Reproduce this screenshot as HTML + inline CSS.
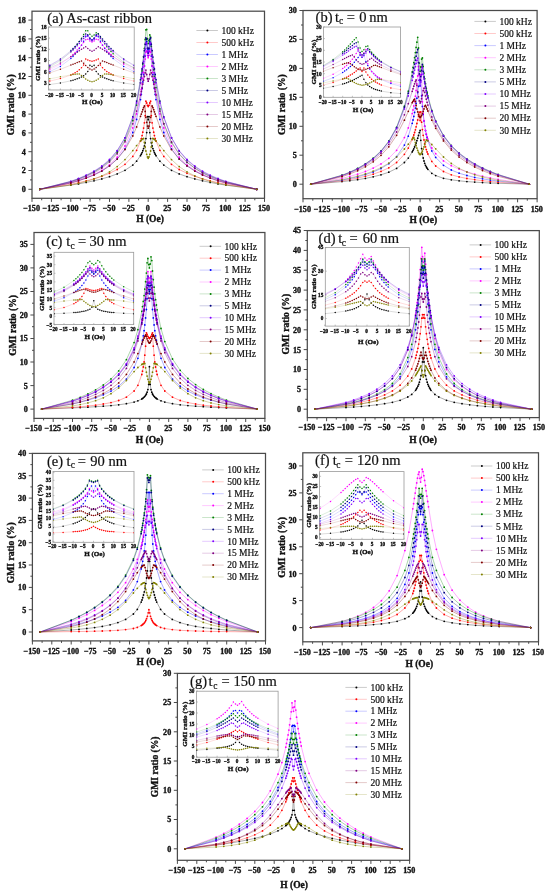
<!DOCTYPE html>
<html><head><meta charset="utf-8"><title>GMI ratio vs H</title>
<style>html,body{margin:0;padding:0;background:#fff;}svg{display:block;}
text{font-family:"Liberation Serif","DejaVu Serif",serif;fill:#111;stroke:#111;stroke-width:0.2px;}
text[font-weight=bold]{stroke:#111;stroke-width:0.35px;}</style></head>
<body><svg width="550" height="891" viewBox="0 0 550 891">
<filter id="soft" x="-5%" y="-5%" width="110%" height="110%"><feGaussianBlur stdDeviation="0.3"/></filter>
<rect width="550" height="891" fill="#fff"/>
<clipPath id="ca"><rect x="32" y="11.2" width="232.5" height="187.1"/></clipPath>
<g clip-path="url(#ca)"><g filter="url(#soft)">
<polyline points="39.8,189.3 70.8,185.1 78.5,183.9 86.2,182.4 94,180.8 101.8,178.9 109.5,176.7 117.2,173.9 125,170.3 132.8,165.1 136.6,161.2 140.5,155.7 141.3,154.2 142.1,152.6 142.8,150.7 143.6,148.6 144.4,146 145.2,142.8 145.9,138.6 146.7,132.6 147.5,116.6 148.2,119.7 149,116.6 149.8,132.6 150.6,138.6 151.3,142.8 152.1,146 152.9,148.6 153.7,150.7 154.4,152.6 155.2,154.2 156,155.7 159.9,161.2 163.8,165.1 171.5,170.3 179.2,173.9 187,176.7 194.8,178.9 202.5,180.8 210.2,182.4 218,183.9 225.8,185.1 256.8,189.3" fill="none" stroke="#000000" stroke-width="0.55" stroke-opacity="0.6"/>
<path d="M39.8,189.3h0M70.8,185.1h0M78.5,183.9h0M86.2,182.4h0M94,180.8h0M101.8,178.9h0M109.5,176.7h0M117.2,173.9h0M125,170.3h0M132.8,165.1h0M136.6,161.2h0M140.5,155.7h0M141.3,154.2h0M142.1,152.6h0M142.8,150.7h0M143.6,148.6h0M144.4,146h0M145.2,142.8h0M145.9,138.6h0M146.7,132.6h0M147.5,116.6h0M148.2,119.7h0M149,116.6h0M149.8,132.6h0M150.6,138.6h0M151.3,142.8h0M152.1,146h0M152.9,148.6h0M153.7,150.7h0M154.4,152.6h0M155.2,154.2h0M156,155.7h0M159.9,161.2h0M163.8,165.1h0M171.5,170.3h0M179.2,173.9h0M187,176.7h0M194.8,178.9h0M202.5,180.8h0M210.2,182.4h0M218,183.9h0M225.8,185.1h0M256.8,189.3h0" stroke="#000000" stroke-width="1.8" stroke-linecap="round"/>
<polyline points="39.8,189.3 70.8,184.3 78.5,182.7 86.2,180.9 94,178.8 101.8,176.3 109.5,173.3 117.2,169.5 125,164.3 132.8,156.4 136.6,150.3 140.5,141.1 141.3,138.6 142.1,135.6 142.8,132.2 143.6,128.1 144.4,122.8 145.2,115.7 145.9,101.2 146.7,103 147.5,105.3 148.2,106.6 149,105.3 149.8,103 150.6,101.2 151.3,115.7 152.1,122.8 152.9,128.1 153.7,132.2 154.4,135.6 155.2,138.6 156,141.1 159.9,150.3 163.8,156.4 171.5,164.3 179.2,169.5 187,173.3 194.8,176.3 202.5,178.8 210.2,180.9 218,182.7 225.8,184.3 256.8,189.3" fill="none" stroke="#FF0000" stroke-width="0.55" stroke-opacity="0.6"/>
<path d="M39.8,189.3h0M70.8,184.3h0M78.5,182.7h0M86.2,180.9h0M94,178.8h0M101.8,176.3h0M109.5,173.3h0M117.2,169.5h0M125,164.3h0M132.8,156.4h0M136.6,150.3h0M140.5,141.1h0M141.3,138.6h0M142.1,135.6h0M142.8,132.2h0M143.6,128.1h0M144.4,122.8h0M145.2,115.7h0M145.9,101.2h0M146.7,103h0M147.5,105.3h0M148.2,106.6h0M149,105.3h0M149.8,103h0M150.6,101.2h0M151.3,115.7h0M152.1,122.8h0M152.9,128.1h0M153.7,132.2h0M154.4,135.6h0M155.2,138.6h0M156,141.1h0M159.9,150.3h0M163.8,156.4h0M171.5,164.3h0M179.2,169.5h0M187,173.3h0M194.8,176.3h0M202.5,178.8h0M210.2,180.9h0M218,182.7h0M225.8,184.3h0M256.8,189.3h0" stroke="#FF0000" stroke-width="1.8" stroke-linecap="round"/>
<polyline points="39.8,189.3 70.8,182.8 78.5,180.6 86.2,177.9 94,174.8 101.8,170.9 109.5,165.8 117.2,159 125,148.9 132.8,132.5 136.6,119.4 140.5,99.6 141.3,94.4 142.1,88.5 142.8,81.9 143.6,74.5 144.4,66 145.2,56.1 145.9,44.6 146.7,41.6 147.5,49 148.2,53 149,49 149.8,41.6 150.6,44.6 151.3,56.1 152.1,66 152.9,74.5 153.7,81.9 154.4,88.5 155.2,94.4 156,99.6 159.9,119.4 163.8,132.5 171.5,148.9 179.2,159 187,165.8 194.8,170.9 202.5,174.8 210.2,177.9 218,180.6 225.8,182.8 256.8,189.3" fill="none" stroke="#0000FF" stroke-width="0.55" stroke-opacity="0.6"/>
<path d="M39.8,189.3h0M70.8,182.8h0M78.5,180.6h0M86.2,177.9h0M94,174.8h0M101.8,170.9h0M109.5,165.8h0M117.2,159h0M125,148.9h0M132.8,132.5h0M136.6,119.4h0M140.5,99.6h0M141.3,94.4h0M142.1,88.5h0M142.8,81.9h0M143.6,74.5h0M144.4,66h0M145.2,56.1h0M145.9,44.6h0M146.7,41.6h0M147.5,49h0M148.2,53h0M149,49h0M149.8,41.6h0M150.6,44.6h0M151.3,56.1h0M152.1,66h0M152.9,74.5h0M153.7,81.9h0M154.4,88.5h0M155.2,94.4h0M156,99.6h0M159.9,119.4h0M163.8,132.5h0M171.5,148.9h0M179.2,159h0M187,165.8h0M194.8,170.9h0M202.5,174.8h0M210.2,177.9h0M218,180.6h0M225.8,182.8h0M256.8,189.3h0" stroke="#0000FF" stroke-width="1.8" stroke-linecap="round"/>
<polyline points="39.8,189.3 70.8,182.8 78.5,180.5 86.2,177.8 94,174.5 101.8,170.3 109.5,164.8 117.2,157.2 125,146 132.8,127.9 136.6,113.9 140.5,94.3 141.3,89.4 142.1,84.1 142.8,78.5 143.6,72.4 144.4,65.9 145.2,59.1 145.9,52.2 146.7,51 147.5,55.3 148.2,57.7 149,55.3 149.8,51 150.6,52.2 151.3,59.1 152.1,65.9 152.9,72.4 153.7,78.5 154.4,84.1 155.2,89.4 156,94.3 159.9,113.9 163.8,127.9 171.5,146 179.2,157.2 187,164.8 194.8,170.3 202.5,174.5 210.2,177.8 218,180.5 225.8,182.8 256.8,189.3" fill="none" stroke="#FF00FF" stroke-width="0.55" stroke-opacity="0.6"/>
<path d="M39.8,189.3h0M70.8,182.8h0M78.5,180.5h0M86.2,177.8h0M94,174.5h0M101.8,170.3h0M109.5,164.8h0M117.2,157.2h0M125,146h0M132.8,127.9h0M136.6,113.9h0M140.5,94.3h0M141.3,89.4h0M142.1,84.1h0M142.8,78.5h0M143.6,72.4h0M144.4,65.9h0M145.2,59.1h0M145.9,52.2h0M146.7,51h0M147.5,55.3h0M148.2,57.7h0M149,55.3h0M149.8,51h0M150.6,52.2h0M151.3,59.1h0M152.1,65.9h0M152.9,72.4h0M153.7,78.5h0M154.4,84.1h0M155.2,89.4h0M156,94.3h0M159.9,113.9h0M163.8,127.9h0M171.5,146h0M179.2,157.2h0M187,164.8h0M194.8,170.3h0M202.5,174.5h0M210.2,177.8h0M218,180.5h0M225.8,182.8h0M256.8,189.3h0" stroke="#FF00FF" stroke-width="1.8" stroke-linecap="round"/>
<polyline points="39.8,189.3 70.8,181.6 78.5,179 86.2,175.8 94,172 101.8,167.2 109.5,161.1 117.2,152.7 125,140.4 132.8,120.5 136.6,105.1 140.5,82.8 141.3,77.1 142.1,70.9 142.8,64.1 143.6,56.6 144.4,48.4 145.2,39.5 145.9,29.8 146.7,29.5 147.5,38.6 148.2,43.6 149,40.5 149.8,34.9 150.6,37.1 151.3,46.3 152.1,54.8 152.9,62.7 153.7,69.8 154.4,76.3 155.2,82.2 156,87.6 159.9,108.9 163.8,123.6 171.5,142.6 179.2,154.3 187,162.4 194.8,168.3 202.5,172.8 210.2,176.4 218,179.4 225.8,182 256.8,189.3" fill="none" stroke="#008000" stroke-width="0.55" stroke-opacity="0.6"/>
<path d="M39.8,189.3h0M70.8,181.6h0M78.5,179h0M86.2,175.8h0M94,172h0M101.8,167.2h0M109.5,161.1h0M117.2,152.7h0M125,140.4h0M132.8,120.5h0M136.6,105.1h0M140.5,82.8h0M141.3,77.1h0M142.1,70.9h0M142.8,64.1h0M143.6,56.6h0M144.4,48.4h0M145.2,39.5h0M145.9,29.8h0M146.7,29.5h0M147.5,38.6h0M148.2,43.6h0M149,40.5h0M149.8,34.9h0M150.6,37.1h0M151.3,46.3h0M152.1,54.8h0M152.9,62.7h0M153.7,69.8h0M154.4,76.3h0M155.2,82.2h0M156,87.6h0M159.9,108.9h0M163.8,123.6h0M171.5,142.6h0M179.2,154.3h0M187,162.4h0M194.8,168.3h0M202.5,172.8h0M210.2,176.4h0M218,179.4h0M225.8,182h0M256.8,189.3h0" stroke="#008000" stroke-width="1.8" stroke-linecap="round"/>
<polyline points="39.8,189.3 70.8,181.6 78.5,178.9 86.2,175.6 94,171.7 101.8,166.6 109.5,160.1 117.2,151 125,137.8 132.8,116.8 136.6,101.1 140.5,79.7 141.3,74.5 142.1,69 142.8,63.2 143.6,57.1 144.4,50.7 145.2,44.2 145.9,37.9 146.7,39.5 147.5,48.2 148.2,53 149,48.2 149.8,39.5 150.6,37.9 151.3,44.2 152.1,50.7 152.9,57.1 153.7,63.2 154.4,69 155.2,74.5 156,79.7 159.9,101.1 163.8,116.8 171.5,137.8 179.2,151 187,160.1 194.8,166.6 202.5,171.7 210.2,175.6 218,178.9 225.8,181.6 256.8,189.3" fill="none" stroke="#000080" stroke-width="0.55" stroke-opacity="0.6"/>
<path d="M39.8,189.3h0M70.8,181.6h0M78.5,178.9h0M86.2,175.6h0M94,171.7h0M101.8,166.6h0M109.5,160.1h0M117.2,151h0M125,137.8h0M132.8,116.8h0M136.6,101.1h0M140.5,79.7h0M141.3,74.5h0M142.1,69h0M142.8,63.2h0M143.6,57.1h0M144.4,50.7h0M145.2,44.2h0M145.9,37.9h0M146.7,39.5h0M147.5,48.2h0M148.2,53h0M149,48.2h0M149.8,39.5h0M150.6,37.9h0M151.3,44.2h0M152.1,50.7h0M152.9,57.1h0M153.7,63.2h0M154.4,69h0M155.2,74.5h0M156,79.7h0M159.9,101.1h0M163.8,116.8h0M171.5,137.8h0M179.2,151h0M187,160.1h0M194.8,166.6h0M202.5,171.7h0M210.2,175.6h0M218,178.9h0M225.8,181.6h0M256.8,189.3h0" stroke="#000080" stroke-width="1.8" stroke-linecap="round"/>
<polyline points="39.8,189.3 70.8,181.3 78.5,178.5 86.2,175.1 94,171.1 101.8,166 109.5,159.5 117.2,150.6 125,137.8 132.8,117.7 136.6,102.9 140.5,82.8 141.3,78 142.1,72.8 142.8,67.3 143.6,61.5 144.4,55.4 145.2,49.1 145.9,42.8 146.7,43.7 147.5,51.5 148.2,55.8 149,51.5 149.8,43.7 150.6,42.8 151.3,49.1 152.1,55.4 152.9,61.5 153.7,67.3 154.4,72.8 155.2,78 156,82.8 159.9,102.9 163.8,117.7 171.5,137.8 179.2,150.6 187,159.5 194.8,166 202.5,171.1 210.2,175.1 218,178.5 225.8,181.3 256.8,189.3" fill="none" stroke="#8000FF" stroke-width="0.55" stroke-opacity="0.6"/>
<path d="M39.8,189.3h0M70.8,181.3h0M78.5,178.5h0M86.2,175.1h0M94,171.1h0M101.8,166h0M109.5,159.5h0M117.2,150.6h0M125,137.8h0M132.8,117.7h0M136.6,102.9h0M140.5,82.8h0M141.3,78h0M142.1,72.8h0M142.8,67.3h0M143.6,61.5h0M144.4,55.4h0M145.2,49.1h0M145.9,42.8h0M146.7,43.7h0M147.5,51.5h0M148.2,55.8h0M149,51.5h0M149.8,43.7h0M150.6,42.8h0M151.3,49.1h0M152.1,55.4h0M152.9,61.5h0M153.7,67.3h0M154.4,72.8h0M155.2,78h0M156,82.8h0M159.9,102.9h0M163.8,117.7h0M171.5,137.8h0M179.2,150.6h0M187,159.5h0M194.8,166h0M202.5,171.1h0M210.2,175.1h0M218,178.5h0M225.8,181.3h0M256.8,189.3h0" stroke="#8000FF" stroke-width="1.8" stroke-linecap="round"/>
<polyline points="39.8,189.3 70.8,182.2 78.5,179.6 86.2,176.6 94,172.9 101.8,168.2 109.5,162.1 117.2,153.8 125,141.8 132.8,123.8 136.6,111.1 140.5,95.1 141.3,91.5 142.1,87.8 142.8,84.1 143.6,80.2 144.4,76.5 145.2,72.9 145.9,70.1 146.7,74.5 147.5,78.8 148.2,81.2 149,78.8 149.8,74.5 150.6,70.1 151.3,72.9 152.1,76.5 152.9,80.2 153.7,84.1 154.4,87.8 155.2,91.5 156,95.1 159.9,111.1 163.8,123.8 171.5,141.8 179.2,153.8 187,162.1 194.8,168.2 202.5,172.9 210.2,176.6 218,179.6 225.8,182.2 256.8,189.3" fill="none" stroke="#800080" stroke-width="0.55" stroke-opacity="0.6"/>
<path d="M39.8,189.3h0M70.8,182.2h0M78.5,179.6h0M86.2,176.6h0M94,172.9h0M101.8,168.2h0M109.5,162.1h0M117.2,153.8h0M125,141.8h0M132.8,123.8h0M136.6,111.1h0M140.5,95.1h0M141.3,91.5h0M142.1,87.8h0M142.8,84.1h0M143.6,80.2h0M144.4,76.5h0M145.2,72.9h0M145.9,70.1h0M146.7,74.5h0M147.5,78.8h0M148.2,81.2h0M149,78.8h0M149.8,74.5h0M150.6,70.1h0M151.3,72.9h0M152.1,76.5h0M152.9,80.2h0M153.7,84.1h0M154.4,87.8h0M155.2,91.5h0M156,95.1h0M159.9,111.1h0M163.8,123.8h0M171.5,141.8h0M179.2,153.8h0M187,162.1h0M194.8,168.2h0M202.5,172.9h0M210.2,176.6h0M218,179.6h0M225.8,182.2h0M256.8,189.3h0" stroke="#800080" stroke-width="1.8" stroke-linecap="round"/>
<polyline points="39.8,189.3 70.8,183.1 78.5,180.9 86.2,178.2 94,175 101.8,171.1 109.5,165.9 117.2,159.1 125,149.6 132.8,135.9 136.6,126.9 140.5,116.3 141.3,114.1 142.1,111.8 142.8,109.7 143.6,107.6 144.4,106 145.2,111.4 145.9,117.3 146.7,122.3 147.5,126.1 148.2,128.2 149,126.1 149.8,122.3 150.6,117.3 151.3,111.4 152.1,106 152.9,107.6 153.7,109.7 154.4,111.8 155.2,114.1 156,116.3 159.9,126.9 163.8,135.9 171.5,149.6 179.2,159.1 187,165.9 194.8,171.1 202.5,175 210.2,178.2 218,180.9 225.8,183.1 256.8,189.3" fill="none" stroke="#800000" stroke-width="0.55" stroke-opacity="0.6"/>
<path d="M39.8,189.3h0M70.8,183.1h0M78.5,180.9h0M86.2,178.2h0M94,175h0M101.8,171.1h0M109.5,165.9h0M117.2,159.1h0M125,149.6h0M132.8,135.9h0M136.6,126.9h0M140.5,116.3h0M141.3,114.1h0M142.1,111.8h0M142.8,109.7h0M143.6,107.6h0M144.4,106h0M145.2,111.4h0M145.9,117.3h0M146.7,122.3h0M147.5,126.1h0M148.2,128.2h0M149,126.1h0M149.8,122.3h0M150.6,117.3h0M151.3,111.4h0M152.1,106h0M152.9,107.6h0M153.7,109.7h0M154.4,111.8h0M155.2,114.1h0M156,116.3h0M159.9,126.9h0M163.8,135.9h0M171.5,149.6h0M179.2,159.1h0M187,165.9h0M194.8,171.1h0M202.5,175h0M210.2,178.2h0M218,180.9h0M225.8,183.1h0M256.8,189.3h0" stroke="#800000" stroke-width="1.8" stroke-linecap="round"/>
<polyline points="39.8,189.3 70.8,184.9 78.5,183.3 86.2,181.4 94,179 101.8,175.9 109.5,171.9 117.2,166.6 125,159.6 132.8,150.6 136.6,145.6 140.5,140.9 141.3,140.1 142.1,139.4 142.8,138.8 143.6,138.5 144.4,142.5 145.2,147 145.9,151 146.7,154.3 147.5,156.9 148.2,158.3 149,156.9 149.8,154.3 150.6,151 151.3,147 152.1,142.5 152.9,138.5 153.7,138.8 154.4,139.4 155.2,140.1 156,140.9 159.9,145.6 163.8,150.6 171.5,159.6 179.2,166.6 187,171.9 194.8,175.9 202.5,179 210.2,181.4 218,183.3 225.8,184.9 256.8,189.3" fill="none" stroke="#808000" stroke-width="0.55" stroke-opacity="0.6"/>
<path d="M39.8,189.3h0M70.8,184.9h0M78.5,183.3h0M86.2,181.4h0M94,179h0M101.8,175.9h0M109.5,171.9h0M117.2,166.6h0M125,159.6h0M132.8,150.6h0M136.6,145.6h0M140.5,140.9h0M141.3,140.1h0M142.1,139.4h0M142.8,138.8h0M143.6,138.5h0M144.4,142.5h0M145.2,147h0M145.9,151h0M146.7,154.3h0M147.5,156.9h0M148.2,158.3h0M149,156.9h0M149.8,154.3h0M150.6,151h0M151.3,147h0M152.1,142.5h0M152.9,138.5h0M153.7,138.8h0M154.4,139.4h0M155.2,140.1h0M156,140.9h0M159.9,145.6h0M163.8,150.6h0M171.5,159.6h0M179.2,166.6h0M187,171.9h0M194.8,175.9h0M202.5,179h0M210.2,181.4h0M218,183.3h0M225.8,184.9h0M256.8,189.3h0" stroke="#808000" stroke-width="1.8" stroke-linecap="round"/>
</g></g>
<rect x="32" y="11.2" width="232.5" height="187.1" fill="none" stroke="#4a4a4a" stroke-width="1.25"/>
<text x="31.6" y="211.1" font-size="8.1" font-weight="bold" text-anchor="middle">−150</text>
<text x="51" y="211.1" font-size="8.1" font-weight="bold" text-anchor="middle">−125</text>
<text x="70.3" y="211.1" font-size="8.1" font-weight="bold" text-anchor="middle">−100</text>
<text x="89.7" y="211.1" font-size="8.1" font-weight="bold" text-anchor="middle">−75</text>
<text x="109.1" y="211.1" font-size="8.1" font-weight="bold" text-anchor="middle">−50</text>
<text x="128.5" y="211.1" font-size="8.1" font-weight="bold" text-anchor="middle">−25</text>
<text x="147.8" y="211.1" font-size="8.1" font-weight="bold" text-anchor="middle">0</text>
<text x="167.2" y="211.1" font-size="8.1" font-weight="bold" text-anchor="middle">25</text>
<text x="186.6" y="211.1" font-size="8.1" font-weight="bold" text-anchor="middle">50</text>
<text x="206" y="211.1" font-size="8.1" font-weight="bold" text-anchor="middle">75</text>
<text x="225.3" y="211.1" font-size="8.1" font-weight="bold" text-anchor="middle">100</text>
<text x="244.7" y="211.1" font-size="8.1" font-weight="bold" text-anchor="middle">125</text>
<text x="264.1" y="211.1" font-size="8.1" font-weight="bold" text-anchor="middle">150</text>
<text x="25.8" y="192.2" font-size="8.1" font-weight="bold" text-anchor="end">0</text>
<text x="25.8" y="173.4" font-size="8.1" font-weight="bold" text-anchor="end">2</text>
<text x="25.8" y="154.6" font-size="8.1" font-weight="bold" text-anchor="end">4</text>
<text x="25.8" y="135.8" font-size="8.1" font-weight="bold" text-anchor="end">6</text>
<text x="25.8" y="117" font-size="8.1" font-weight="bold" text-anchor="end">8</text>
<text x="25.8" y="98.2" font-size="8.1" font-weight="bold" text-anchor="end">10</text>
<text x="25.8" y="79.4" font-size="8.1" font-weight="bold" text-anchor="end">12</text>
<text x="25.8" y="60.6" font-size="8.1" font-weight="bold" text-anchor="end">14</text>
<text x="25.8" y="41.8" font-size="8.1" font-weight="bold" text-anchor="end">16</text>
<text x="25.8" y="23" font-size="8.1" font-weight="bold" text-anchor="end">18</text>
<path d="M32,198.3v3.6M51.4,198.3v3.6M70.8,198.3v3.6M90.1,198.3v3.6M109.5,198.3v3.6M128.9,198.3v3.6M148.2,198.3v3.6M167.6,198.3v3.6M187,198.3v3.6M206.4,198.3v3.6M225.8,198.3v3.6M245.1,198.3v3.6M264.5,198.3v3.6M41.7,198.3v2M61.1,198.3v2M80.4,198.3v2M99.8,198.3v2M119.2,198.3v2M138.6,198.3v2M157.9,198.3v2M177.3,198.3v2M196.7,198.3v2M216.1,198.3v2M235.4,198.3v2M254.8,198.3v2M32,189.3h-3.6M32,170.5h-3.6M32,151.7h-3.6M32,132.9h-3.6M32,114.1h-3.6M32,95.3h-3.6M32,76.5h-3.6M32,57.7h-3.6M32,38.9h-3.6M32,20.1h-3.6M32,179.9h-2M32,161.1h-2M32,142.3h-2M32,123.5h-2M32,104.7h-2M32,85.9h-2M32,67.1h-2M32,48.3h-2M32,29.5h-2" stroke="#4a4a4a" stroke-width="1" fill="none"/>
<text x="150" y="222.3" font-size="9.5" font-weight="bold" text-anchor="middle">H (Oe)</text>
<text x="10.7" y="104.8" font-size="9.6" font-weight="bold" text-anchor="middle" transform="rotate(-90 10.7 104.8)" dy="3.3">GMI ratio (%)</text>
<text x="47.3" y="22.7" font-size="14.5">(a) As-cast</text><text x="114.1" y="22.7" font-size="14.5">ribbon</text>
<path d="M196.4,30.5h21.5" stroke="#000000" stroke-width="0.6" stroke-opacity="0.35"/>
<circle cx="207.4" cy="30.5" r="1" fill="#000000"/>
<text x="221.4" y="33.7" font-size="9.5" text-anchor="start">100 kHz</text>
<path d="M196.4,42.5h21.5" stroke="#FF0000" stroke-width="0.6" stroke-opacity="0.35"/>
<circle cx="207.4" cy="42.5" r="1" fill="#FF0000"/>
<text x="221.4" y="45.7" font-size="9.5" text-anchor="start">500 kHz</text>
<path d="M196.4,54.5h21.5" stroke="#0000FF" stroke-width="0.6" stroke-opacity="0.35"/>
<circle cx="207.4" cy="54.5" r="1" fill="#0000FF"/>
<text x="221.4" y="57.7" font-size="9.5" text-anchor="start">1 MHz</text>
<path d="M196.4,66.5h21.5" stroke="#FF00FF" stroke-width="0.6" stroke-opacity="0.35"/>
<circle cx="207.4" cy="66.5" r="1" fill="#FF00FF"/>
<text x="221.4" y="69.7" font-size="9.5" text-anchor="start">2 MHz</text>
<path d="M196.4,78.5h21.5" stroke="#008000" stroke-width="0.6" stroke-opacity="0.35"/>
<circle cx="207.4" cy="78.5" r="1" fill="#008000"/>
<text x="221.4" y="81.7" font-size="9.5" text-anchor="start">3 MHz</text>
<path d="M196.4,90.5h21.5" stroke="#000080" stroke-width="0.6" stroke-opacity="0.35"/>
<circle cx="207.4" cy="90.5" r="1" fill="#000080"/>
<text x="221.4" y="93.7" font-size="9.5" text-anchor="start">5 MHz</text>
<path d="M196.4,102.5h21.5" stroke="#8000FF" stroke-width="0.6" stroke-opacity="0.35"/>
<circle cx="207.4" cy="102.5" r="1" fill="#8000FF"/>
<text x="221.4" y="105.7" font-size="9.5" text-anchor="start">10 MHz</text>
<path d="M196.4,114.5h21.5" stroke="#800080" stroke-width="0.6" stroke-opacity="0.35"/>
<circle cx="207.4" cy="114.5" r="1" fill="#800080"/>
<text x="221.4" y="117.7" font-size="9.5" text-anchor="start">15 MHz</text>
<path d="M196.4,126.5h21.5" stroke="#800000" stroke-width="0.6" stroke-opacity="0.35"/>
<circle cx="207.4" cy="126.5" r="1" fill="#800000"/>
<text x="221.4" y="129.7" font-size="9.5" text-anchor="start">20 MHz</text>
<path d="M196.4,138.5h21.5" stroke="#808000" stroke-width="0.6" stroke-opacity="0.35"/>
<circle cx="207.4" cy="138.5" r="1" fill="#808000"/>
<text x="221.4" y="141.7" font-size="9.5" text-anchor="start">30 MHz</text>
<rect x="48.5" y="27" width="85.7" height="63" fill="#fff" stroke="#999" stroke-width="0.8"/>
<clipPath id="ia"><rect x="48.5" y="27" width="85.7" height="63"/></clipPath>
<g clip-path="url(#ia)"><g filter="url(#soft)">
<polyline points="28.7,86.6 49.8,84.5 60.4,83 70.9,80.8 73,80.2 75.1,79.5 77.2,78.8 79.3,77.9 81.5,76.9 83.6,75.7 85.7,74 87.8,71.6 89.9,65.2 92,66.5 94.1,65.2 96.2,71.6 98.3,74 100.4,75.7 102.5,76.9 104.7,77.9 106.8,78.8 108.9,79.5 111,80.2 113.1,80.8 123.7,83 134.2,84.5 155.3,86.6" fill="none" stroke="#000000" stroke-width="0.4" stroke-opacity="0.35"/>
<path d="M28.7,86.6h0M49.8,84.5h0M60.4,83h0M70.9,80.8h0M73,80.2h0M75.1,79.5h0M77.2,78.8h0M79.3,77.9h0M81.5,76.9h0M83.6,75.7h0M85.7,74h0M87.8,71.6h0M89.9,65.2h0M92,66.5h0M94.1,65.2h0M96.2,71.6h0M98.3,74h0M100.4,75.7h0M102.5,76.9h0M104.7,77.9h0M106.8,78.8h0M108.9,79.5h0M111,80.2h0M113.1,80.8h0M123.7,83h0M134.2,84.5h0M155.3,86.6h0" stroke="#000000" stroke-width="1.5" stroke-linecap="round"/>
<polyline points="28.7,84.2 49.8,81.1 60.4,78.6 70.9,75 73,74 75.1,72.8 77.2,71.4 79.3,69.8 81.5,67.7 83.6,64.9 85.7,59.1 87.8,59.9 89.9,60.8 92,61.3 94.1,60.8 96.2,59.9 98.3,59.1 100.4,64.9 102.5,67.7 104.7,69.8 106.8,71.4 108.9,72.8 111,74 113.1,75 123.7,78.6 134.2,81.1 155.3,84.2" fill="none" stroke="#FF0000" stroke-width="0.4" stroke-opacity="0.35"/>
<path d="M28.7,84.2h0M49.8,81.1h0M60.4,78.6h0M70.9,75h0M73,74h0M75.1,72.8h0M77.2,71.4h0M79.3,69.8h0M81.5,67.7h0M83.6,64.9h0M85.7,59.1h0M87.8,59.9h0M89.9,60.8h0M92,61.3h0M94.1,60.8h0M96.2,59.9h0M98.3,59.1h0M100.4,64.9h0M102.5,67.7h0M104.7,69.8h0M106.8,71.4h0M108.9,72.8h0M111,74h0M113.1,75h0M123.7,78.6h0M134.2,81.1h0M155.3,84.2h0" stroke="#FF0000" stroke-width="1.5" stroke-linecap="round"/>
<polyline points="28.7,78.1 49.8,71.6 60.4,66.4 70.9,58.5 73,56.4 75.1,54.1 77.2,51.5 79.3,48.5 81.5,45.2 83.6,41.3 85.7,36.7 87.8,35.5 89.9,38.4 92,40 94.1,38.4 96.2,35.5 98.3,36.7 100.4,41.3 102.5,45.2 104.7,48.5 106.8,51.5 108.9,54.1 111,56.4 113.1,58.5 123.7,66.4 134.2,71.6 155.3,78.1" fill="none" stroke="#0000FF" stroke-width="0.4" stroke-opacity="0.35"/>
<path d="M28.7,78.1h0M49.8,71.6h0M60.4,66.4h0M70.9,58.5h0M73,56.4h0M75.1,54.1h0M77.2,51.5h0M79.3,48.5h0M81.5,45.2h0M83.6,41.3h0M85.7,36.7h0M87.8,35.5h0M89.9,38.4h0M92,40h0M94.1,38.4h0M96.2,35.5h0M98.3,36.7h0M100.4,41.3h0M102.5,45.2h0M104.7,48.5h0M106.8,51.5h0M108.9,54.1h0M111,56.4h0M113.1,58.5h0M123.7,66.4h0M134.2,71.6h0M155.3,78.1h0" stroke="#0000FF" stroke-width="1.5" stroke-linecap="round"/>
<polyline points="28.7,76.9 49.8,69.7 60.4,64.2 70.9,56.4 73,54.5 75.1,52.4 77.2,50.1 79.3,47.7 81.5,45.1 83.6,42.4 85.7,39.7 87.8,39.2 89.9,40.9 92,41.9 94.1,40.9 96.2,39.2 98.3,39.7 100.4,42.4 102.5,45.1 104.7,47.7 106.8,50.1 108.9,52.4 111,54.5 113.1,56.4 123.7,64.2 134.2,69.7 155.3,76.9" fill="none" stroke="#FF00FF" stroke-width="0.4" stroke-opacity="0.35"/>
<path d="M28.7,76.9h0M49.8,69.7h0M60.4,64.2h0M70.9,56.4h0M73,54.5h0M75.1,52.4h0M77.2,50.1h0M79.3,47.7h0M81.5,45.1h0M83.6,42.4h0M85.7,39.7h0M87.8,39.2h0M89.9,40.9h0M92,41.9h0M94.1,40.9h0M96.2,39.2h0M98.3,39.7h0M100.4,42.4h0M102.5,45.1h0M104.7,47.7h0M106.8,50.1h0M108.9,52.4h0M111,54.5h0M113.1,56.4h0M123.7,64.2h0M134.2,69.7h0M155.3,76.9h0" stroke="#FF00FF" stroke-width="1.5" stroke-linecap="round"/>
<polyline points="28.7,74.7 49.8,66.8 60.4,60.7 70.9,51.8 73,49.6 75.1,47.1 77.2,44.4 79.3,41.5 81.5,38.2 83.6,34.6 85.7,30.8 87.8,30.7 89.9,34.3 92,36.3 94.1,35.1 96.2,32.8 98.3,33.7 100.4,37.3 102.5,40.7 104.7,43.8 106.8,46.7 108.9,49.3 111,51.6 113.1,53.8 123.7,62.2 134.2,68 155.3,75.6" fill="none" stroke="#008000" stroke-width="0.4" stroke-opacity="0.35"/>
<path d="M28.7,74.7h0M49.8,66.8h0M60.4,60.7h0M70.9,51.8h0M73,49.6h0M75.1,47.1h0M77.2,44.4h0M79.3,41.5h0M81.5,38.2h0M83.6,34.6h0M85.7,30.8h0M87.8,30.7h0M89.9,34.3h0M92,36.3h0M94.1,35.1h0M96.2,32.8h0M98.3,33.7h0M100.4,37.3h0M102.5,40.7h0M104.7,43.8h0M106.8,46.7h0M108.9,49.3h0M111,51.6h0M113.1,53.8h0M123.7,62.2h0M134.2,68h0M155.3,75.6h0" stroke="#008000" stroke-width="1.5" stroke-linecap="round"/>
<polyline points="28.7,73.7 49.8,65.3 60.4,59.1 70.9,50.6 73,48.6 75.1,46.4 77.2,44.1 79.3,41.6 81.5,39.1 83.6,36.5 85.7,34 87.8,34.7 89.9,38.1 92,40 94.1,38.1 96.2,34.7 98.3,34 100.4,36.5 102.5,39.1 104.7,41.6 106.8,44.1 108.9,46.4 111,48.6 113.1,50.6 123.7,59.1 134.2,65.3 155.3,73.7" fill="none" stroke="#000080" stroke-width="0.4" stroke-opacity="0.35"/>
<path d="M28.7,73.7h0M49.8,65.3h0M60.4,59.1h0M70.9,50.6h0M73,48.6h0M75.1,46.4h0M77.2,44.1h0M79.3,41.6h0M81.5,39.1h0M83.6,36.5h0M85.7,34h0M87.8,34.7h0M89.9,38.1h0M92,40h0M94.1,38.1h0M96.2,34.7h0M98.3,34h0M100.4,36.5h0M102.5,39.1h0M104.7,41.6h0M106.8,44.1h0M108.9,46.4h0M111,48.6h0M113.1,50.6h0M123.7,59.1h0M134.2,65.3h0M155.3,73.7h0" stroke="#000080" stroke-width="1.5" stroke-linecap="round"/>
<polyline points="28.7,73.7 49.8,65.7 60.4,59.8 70.9,51.8 73,49.9 75.1,47.9 77.2,45.7 79.3,43.4 81.5,41 83.6,38.5 85.7,36 87.8,36.3 89.9,39.4 92,41.1 94.1,39.4 96.2,36.3 98.3,36 100.4,38.5 102.5,41 104.7,43.4 106.8,45.7 108.9,47.9 111,49.9 113.1,51.8 123.7,59.8 134.2,65.7 155.3,73.7" fill="none" stroke="#8000FF" stroke-width="0.4" stroke-opacity="0.35"/>
<path d="M28.7,73.7h0M49.8,65.7h0M60.4,59.8h0M70.9,51.8h0M73,49.9h0M75.1,47.9h0M77.2,45.7h0M79.3,43.4h0M81.5,41h0M83.6,38.5h0M85.7,36h0M87.8,36.3h0M89.9,39.4h0M92,41.1h0M94.1,39.4h0M96.2,36.3h0M98.3,36h0M100.4,38.5h0M102.5,41h0M104.7,43.4h0M106.8,45.7h0M108.9,47.9h0M111,49.9h0M113.1,51.8h0M123.7,59.8h0M134.2,65.7h0M155.3,73.7h0" stroke="#8000FF" stroke-width="1.5" stroke-linecap="round"/>
<polyline points="28.7,75.3 49.8,68.1 60.4,63.1 70.9,56.7 73,55.3 75.1,53.8 77.2,52.3 79.3,50.8 81.5,49.3 83.6,47.9 85.7,46.8 87.8,48.6 89.9,50.3 92,51.2 94.1,50.3 96.2,48.6 98.3,46.8 100.4,47.9 102.5,49.3 104.7,50.8 106.8,52.3 108.9,53.8 111,55.3 113.1,56.7 123.7,63.1 134.2,68.1 155.3,75.3" fill="none" stroke="#800080" stroke-width="0.4" stroke-opacity="0.35"/>
<path d="M28.7,75.3h0M49.8,68.1h0M60.4,63.1h0M70.9,56.7h0M73,55.3h0M75.1,53.8h0M77.2,52.3h0M79.3,50.8h0M81.5,49.3h0M83.6,47.9h0M85.7,46.8h0M87.8,48.6h0M89.9,50.3h0M92,51.2h0M94.1,50.3h0M96.2,48.6h0M98.3,46.8h0M100.4,47.9h0M102.5,49.3h0M104.7,50.8h0M106.8,52.3h0M108.9,53.8h0M111,55.3h0M113.1,56.7h0M123.7,63.1h0M134.2,68.1h0M155.3,75.3h0" stroke="#800080" stroke-width="1.5" stroke-linecap="round"/>
<polyline points="28.7,78.4 49.8,72.9 60.4,69.3 70.9,65.1 73,64.3 75.1,63.4 77.2,62.5 79.3,61.7 81.5,61.1 83.6,63.2 85.7,65.5 87.8,67.5 89.9,69 92,69.9 94.1,69 96.2,67.5 98.3,65.5 100.4,63.2 102.5,61.1 104.7,61.7 106.8,62.5 108.9,63.4 111,64.3 113.1,65.1 123.7,69.3 134.2,72.9 155.3,78.4" fill="none" stroke="#800000" stroke-width="0.4" stroke-opacity="0.35"/>
<path d="M28.7,78.4h0M49.8,72.9h0M60.4,69.3h0M70.9,65.1h0M73,64.3h0M75.1,63.4h0M77.2,62.5h0M79.3,61.7h0M81.5,61.1h0M83.6,63.2h0M85.7,65.5h0M87.8,67.5h0M89.9,69h0M92,69.9h0M94.1,69h0M96.2,67.5h0M98.3,65.5h0M100.4,63.2h0M102.5,61.1h0M104.7,61.7h0M106.8,62.5h0M108.9,63.4h0M111,64.3h0M113.1,65.1h0M123.7,69.3h0M134.2,72.9h0M155.3,78.4h0" stroke="#800000" stroke-width="1.5" stroke-linecap="round"/>
<polyline points="28.7,82.3 49.8,78.8 60.4,76.8 70.9,74.9 73,74.6 75.1,74.3 77.2,74.1 79.3,73.9 81.5,75.5 83.6,77.3 85.7,78.9 87.8,80.2 89.9,81.2 92,81.8 94.1,81.2 96.2,80.2 98.3,78.9 100.4,77.3 102.5,75.5 104.7,73.9 106.8,74.1 108.9,74.3 111,74.6 113.1,74.9 123.7,76.8 134.2,78.8 155.3,82.3" fill="none" stroke="#808000" stroke-width="0.4" stroke-opacity="0.35"/>
<path d="M28.7,82.3h0M49.8,78.8h0M60.4,76.8h0M70.9,74.9h0M73,74.6h0M75.1,74.3h0M77.2,74.1h0M79.3,73.9h0M81.5,75.5h0M83.6,77.3h0M85.7,78.9h0M87.8,80.2h0M89.9,81.2h0M92,81.8h0M94.1,81.2h0M96.2,80.2h0M98.3,78.9h0M100.4,77.3h0M102.5,75.5h0M104.7,73.9h0M106.8,74.1h0M108.9,74.3h0M111,74.6h0M113.1,74.9h0M123.7,76.8h0M134.2,78.8h0M155.3,82.3h0" stroke="#808000" stroke-width="1.5" stroke-linecap="round"/>
</g></g>
<text x="49.3" y="96.6" font-size="5.2" font-weight="bold" text-anchor="middle">−20</text>
<text x="59.9" y="96.6" font-size="5.2" font-weight="bold" text-anchor="middle">−15</text>
<text x="70.4" y="96.6" font-size="5.2" font-weight="bold" text-anchor="middle">−10</text>
<text x="81" y="96.6" font-size="5.2" font-weight="bold" text-anchor="middle">−5</text>
<text x="91.5" y="96.6" font-size="5.2" font-weight="bold" text-anchor="middle">0</text>
<text x="102" y="96.6" font-size="5.2" font-weight="bold" text-anchor="middle">5</text>
<text x="112.6" y="96.6" font-size="5.2" font-weight="bold" text-anchor="middle">10</text>
<text x="123.2" y="96.6" font-size="5.2" font-weight="bold" text-anchor="middle">15</text>
<text x="133.7" y="96.6" font-size="5.2" font-weight="bold" text-anchor="middle">20</text>
<text x="46.5" y="84.7" font-size="5.2" font-weight="bold" text-anchor="end">3</text>
<text x="46.5" y="73.5" font-size="5.2" font-weight="bold" text-anchor="end">6</text>
<text x="46.5" y="62.3" font-size="5.2" font-weight="bold" text-anchor="end">9</text>
<text x="46.5" y="51.1" font-size="5.2" font-weight="bold" text-anchor="end">12</text>
<text x="46.5" y="39.9" font-size="5.2" font-weight="bold" text-anchor="end">15</text>
<text x="46.5" y="28.8" font-size="5.2" font-weight="bold" text-anchor="end">18</text>
<path d="M49.8,90v-1.5M60.4,90v-1.5M70.9,90v-1.5M81.5,90v-1.5M92,90v-1.5M102.5,90v-1.5M113.1,90v-1.5M123.7,90v-1.5M134.2,90v-1.5M48.5,82.9h1.5M48.5,71.7h1.5M48.5,60.5h1.5M48.5,49.3h1.5M48.5,38.1h1.5M48.5,27h1.5" stroke="#999" stroke-width="0.6" fill="none"/>
<text x="92.3" y="104" font-size="7.1" font-weight="bold" text-anchor="middle">H (Oe)</text>
<text x="37.7" y="58.5" font-size="7.1" font-weight="bold" text-anchor="middle" transform="rotate(-90 37.7 58.5)" dy="2.4">GMI ratio (%)</text>
<clipPath id="cb"><rect x="303" y="10.5" width="234.1" height="188.2"/></clipPath>
<g clip-path="url(#cb)"><g filter="url(#soft)">
<polyline points="310.8,184.2 342,181.6 349.8,180.7 357.6,179.7 365.4,178.4 373.2,176.8 381,174.8 388.8,172.2 396.6,168.4 404.4,162.5 408.3,158.1 412.2,151.9 413,150.4 413.8,148.8 414.6,147 415.4,145.1 416.1,143 416.9,140.7 417.7,138.2 418.5,135.5 419.3,132.6 420.1,130.4 420.8,140.3 421.6,148.6 422.4,154.1 423.2,158 424,161 424.7,163.3 425.5,165.3 426.3,166.8 427.1,168.2 427.9,169.3 431.8,173.3 435.7,175.6 443.5,178.3 451.3,179.8 459.1,180.8 466.9,181.6 474.7,182.1 482.5,182.6 490.3,183 498.1,183.3 529.3,184.2" fill="none" stroke="#000000" stroke-width="0.55" stroke-opacity="0.6"/>
<path d="M310.8,184.2h0M342,181.6h0M349.8,180.7h0M357.6,179.7h0M365.4,178.4h0M373.2,176.8h0M381,174.8h0M388.8,172.2h0M396.6,168.4h0M404.4,162.5h0M408.3,158.1h0M412.2,151.9h0M413,150.4h0M413.8,148.8h0M414.6,147h0M415.4,145.1h0M416.1,143h0M416.9,140.7h0M417.7,138.2h0M418.5,135.5h0M419.3,132.6h0M420.1,130.4h0M420.8,140.3h0M421.6,148.6h0M422.4,154.1h0M423.2,158h0M424,161h0M424.7,163.3h0M425.5,165.3h0M426.3,166.8h0M427.1,168.2h0M427.9,169.3h0M431.8,173.3h0M435.7,175.6h0M443.5,178.3h0M451.3,179.8h0M459.1,180.8h0M466.9,181.6h0M474.7,182.1h0M482.5,182.6h0M490.3,183h0M498.1,183.3h0M529.3,184.2h0" stroke="#000000" stroke-width="1.8" stroke-linecap="round"/>
<polyline points="310.8,184.2 342,180.7 349.8,179.5 357.6,178 365.4,176.3 373.2,174.2 381,171.4 388.8,167.8 396.6,162.5 404.4,154.3 408.3,148.1 412.2,139.5 413,137.4 413.8,135 414.6,132.5 415.4,129.8 416.1,126.8 416.9,123.5 417.7,120 418.5,116.1 419.3,112.1 420.1,120.5 420.8,112 421.6,122.2 422.4,129.6 423.2,135.3 424,139.9 424.7,143.7 425.5,146.8 426.3,149.6 427.1,151.9 427.9,154 431.8,161.4 435.7,166 443.5,171.5 451.3,174.8 459.1,176.9 466.9,178.5 474.7,179.7 482.5,180.7 490.3,181.5 498.1,182.2 529.3,184.2" fill="none" stroke="#FF0000" stroke-width="0.55" stroke-opacity="0.6"/>
<path d="M310.8,184.2h0M342,180.7h0M349.8,179.5h0M357.6,178h0M365.4,176.3h0M373.2,174.2h0M381,171.4h0M388.8,167.8h0M396.6,162.5h0M404.4,154.3h0M408.3,148.1h0M412.2,139.5h0M413,137.4h0M413.8,135h0M414.6,132.5h0M415.4,129.8h0M416.1,126.8h0M416.9,123.5h0M417.7,120h0M418.5,116.1h0M419.3,112.1h0M420.1,120.5h0M420.8,112h0M421.6,122.2h0M422.4,129.6h0M423.2,135.3h0M424,139.9h0M424.7,143.7h0M425.5,146.8h0M426.3,149.6h0M427.1,151.9h0M427.9,154h0M431.8,161.4h0M435.7,166h0M443.5,171.5h0M451.3,174.8h0M459.1,176.9h0M466.9,178.5h0M474.7,179.7h0M482.5,180.7h0M490.3,181.5h0M498.1,182.2h0M529.3,184.2h0" stroke="#FF0000" stroke-width="1.8" stroke-linecap="round"/>
<polyline points="310.8,184.2 342,180 349.8,178.5 357.6,176.8 365.4,174.6 373.2,172 381,168.5 388.8,163.7 396.6,156.6 404.4,145.1 408.3,136.2 412.2,123.3 413,120 413.8,116.4 414.6,112.4 415.4,108.1 416.1,103.4 416.9,98.2 417.7,92.5 418.5,86.4 419.3,80.3 420.1,85.8 420.8,80.3 421.6,95.8 422.4,106.4 423.2,114.4 424,120.9 424.7,126.2 425.5,130.6 426.3,134.4 427.1,137.7 427.9,140.6 431.8,150.9 435.7,157.4 443.5,165.3 451.3,170 459.1,173.2 466.9,175.5 474.7,177.4 482.5,178.8 490.3,180.1 498.1,181.1 529.3,184.2" fill="none" stroke="#0000FF" stroke-width="0.55" stroke-opacity="0.6"/>
<path d="M310.8,184.2h0M342,180h0M349.8,178.5h0M357.6,176.8h0M365.4,174.6h0M373.2,172h0M381,168.5h0M388.8,163.7h0M396.6,156.6h0M404.4,145.1h0M408.3,136.2h0M412.2,123.3h0M413,120h0M413.8,116.4h0M414.6,112.4h0M415.4,108.1h0M416.1,103.4h0M416.9,98.2h0M417.7,92.5h0M418.5,86.4h0M419.3,80.3h0M420.1,85.8h0M420.8,80.3h0M421.6,95.8h0M422.4,106.4h0M423.2,114.4h0M424,120.9h0M424.7,126.2h0M425.5,130.6h0M426.3,134.4h0M427.1,137.7h0M427.9,140.6h0M431.8,150.9h0M435.7,157.4h0M443.5,165.3h0M451.3,170h0M459.1,173.2h0M466.9,175.5h0M474.7,177.4h0M482.5,178.8h0M490.3,180.1h0M498.1,181.1h0M529.3,184.2h0" stroke="#0000FF" stroke-width="1.8" stroke-linecap="round"/>
<polyline points="310.8,184.2 342,178.4 349.8,176.4 357.6,174.2 365.4,171.5 373.2,168.1 381,163.9 388.8,158.3 396.6,150.3 404.4,137.6 408.3,127.9 412.2,113.6 413,110 413.8,105.9 414.6,101.3 415.4,96.2 416.1,90.4 416.9,83.8 417.7,76 418.5,66.4 419.3,74.9 420.1,80 420.8,74.9 421.6,66.5 422.4,101.8 423.2,113.3 424,120.7 424.7,126.1 425.5,130.3 426.3,133.7 427.1,136.6 427.9,139.1 431.8,148 435.7,153.7 443.5,160.9 451.3,165.7 459.1,169.2 466.9,171.9 474.7,174.2 482.5,176.2 490.3,177.9 498.1,179.4 529.3,184.2" fill="none" stroke="#FF00FF" stroke-width="0.55" stroke-opacity="0.6"/>
<path d="M310.8,184.2h0M342,178.4h0M349.8,176.4h0M357.6,174.2h0M365.4,171.5h0M373.2,168.1h0M381,163.9h0M388.8,158.3h0M396.6,150.3h0M404.4,137.6h0M408.3,127.9h0M412.2,113.6h0M413,110h0M413.8,105.9h0M414.6,101.3h0M415.4,96.2h0M416.1,90.4h0M416.9,83.8h0M417.7,76h0M418.5,66.4h0M419.3,74.9h0M420.1,80h0M420.8,74.9h0M421.6,66.5h0M422.4,101.8h0M423.2,113.3h0M424,120.7h0M424.7,126.1h0M425.5,130.3h0M426.3,133.7h0M427.1,136.6h0M427.9,139.1h0M431.8,148h0M435.7,153.7h0M443.5,160.9h0M451.3,165.7h0M459.1,169.2h0M466.9,171.9h0M474.7,174.2h0M482.5,176.2h0M490.3,177.9h0M498.1,179.4h0M529.3,184.2h0" stroke="#FF00FF" stroke-width="1.8" stroke-linecap="round"/>
<polyline points="310.8,184.2 342,175.2 349.8,172.1 357.6,168.4 365.4,163.8 373.2,158.2 381,150.9 388.8,141.2 396.6,127.3 404.4,106.2 408.3,91.2 412.2,71.9 413,67.4 413.8,62.6 414.6,57.7 415.4,52.6 416.1,47.4 416.9,42.2 417.7,37.3 418.5,48 419.3,63.1 420.1,71.3 420.8,67 421.6,59.1 422.4,57.9 423.2,66.4 424,73.1 424.7,78.7 425.5,83.7 426.3,88.2 427.1,92.2 427.9,95.8 431.8,110.3 435.7,120.8 443.5,135.4 451.3,145.5 459.1,153 466.9,158.9 474.7,163.8 482.5,167.9 490.3,171.4 498.1,174.5 529.3,184.2" fill="none" stroke="#008000" stroke-width="0.55" stroke-opacity="0.6"/>
<path d="M310.8,184.2h0M342,175.2h0M349.8,172.1h0M357.6,168.4h0M365.4,163.8h0M373.2,158.2h0M381,150.9h0M388.8,141.2h0M396.6,127.3h0M404.4,106.2h0M408.3,91.2h0M412.2,71.9h0M413,67.4h0M413.8,62.6h0M414.6,57.7h0M415.4,52.6h0M416.1,47.4h0M416.9,42.2h0M417.7,37.3h0M418.5,48h0M419.3,63.1h0M420.1,71.3h0M420.8,67h0M421.6,59.1h0M422.4,57.9h0M423.2,66.4h0M424,73.1h0M424.7,78.7h0M425.5,83.7h0M426.3,88.2h0M427.1,92.2h0M427.9,95.8h0M431.8,110.3h0M435.7,120.8h0M443.5,135.4h0M451.3,145.5h0M459.1,153h0M466.9,158.9h0M474.7,163.8h0M482.5,167.9h0M490.3,171.4h0M498.1,174.5h0M529.3,184.2h0" stroke="#008000" stroke-width="1.8" stroke-linecap="round"/>
<polyline points="310.8,184.2 342,175.5 349.8,172.4 357.6,168.7 365.4,164.2 373.2,158.6 381,151.3 388.8,141.5 396.6,127.7 404.4,107.2 408.3,93.2 412.2,75.9 413,72.1 413.8,68.1 414.6,64.1 415.4,60.1 416.1,56.2 416.9,52.4 417.7,49.5 418.5,62.6 419.3,73.9 420.1,80 420.8,76.6 421.6,70.5 422.4,64.5 423.2,71.4 424,77 424.7,81.9 425.5,86.3 426.3,90.3 427.1,94 427.9,97.4 431.8,111.3 435.7,121.6 443.5,136.2 451.3,146.3 459.1,153.8 466.9,159.7 474.7,164.5 482.5,168.5 490.3,171.9 498.1,174.9 529.3,184.2" fill="none" stroke="#000080" stroke-width="0.55" stroke-opacity="0.6"/>
<path d="M310.8,184.2h0M342,175.5h0M349.8,172.4h0M357.6,168.7h0M365.4,164.2h0M373.2,158.6h0M381,151.3h0M388.8,141.5h0M396.6,127.7h0M404.4,107.2h0M408.3,93.2h0M412.2,75.9h0M413,72.1h0M413.8,68.1h0M414.6,64.1h0M415.4,60.1h0M416.1,56.2h0M416.9,52.4h0M417.7,49.5h0M418.5,62.6h0M419.3,73.9h0M420.1,80h0M420.8,76.6h0M421.6,70.5h0M422.4,64.5h0M423.2,71.4h0M424,77h0M424.7,81.9h0M425.5,86.3h0M426.3,90.3h0M427.1,94h0M427.9,97.4h0M431.8,111.3h0M435.7,121.6h0M443.5,136.2h0M451.3,146.3h0M459.1,153.8h0M466.9,159.7h0M474.7,164.5h0M482.5,168.5h0M490.3,171.9h0M498.1,174.9h0M529.3,184.2h0" stroke="#000080" stroke-width="1.8" stroke-linecap="round"/>
<polyline points="310.8,184.2 342,175.6 349.8,172.5 357.6,168.9 365.4,164.4 373.2,158.9 381,151.6 388.8,142 396.6,128.5 404.4,108.9 408.3,95.9 412.2,80.3 413,77 413.8,73.5 414.6,70.1 415.4,66.7 416.1,63.4 416.9,60.4 417.7,58.1 418.5,70 419.3,80.2 420.1,85.8 420.8,81.9 421.6,74.7 422.4,67.5 423.2,73.8 424,78.9 424.7,83.5 425.5,87.7 426.3,91.4 427.1,94.9 427.9,98.1 431.8,111.4 435.7,121.4 443.5,135.7 451.3,145.7 459.1,153.2 466.9,159.1 474.7,164 482.5,168.1 490.3,171.6 498.1,174.7 529.3,184.2" fill="none" stroke="#8000FF" stroke-width="0.55" stroke-opacity="0.6"/>
<path d="M310.8,184.2h0M342,175.6h0M349.8,172.5h0M357.6,168.9h0M365.4,164.4h0M373.2,158.9h0M381,151.6h0M388.8,142h0M396.6,128.5h0M404.4,108.9h0M408.3,95.9h0M412.2,80.3h0M413,77h0M413.8,73.5h0M414.6,70.1h0M415.4,66.7h0M416.1,63.4h0M416.9,60.4h0M417.7,58.1h0M418.5,70h0M419.3,80.2h0M420.1,85.8h0M420.8,81.9h0M421.6,74.7h0M422.4,67.5h0M423.2,73.8h0M424,78.9h0M424.7,83.5h0M425.5,87.7h0M426.3,91.4h0M427.1,94.9h0M427.9,98.1h0M431.8,111.4h0M435.7,121.4h0M443.5,135.7h0M451.3,145.7h0M459.1,153.2h0M466.9,159.1h0M474.7,164h0M482.5,168.1h0M490.3,171.6h0M498.1,174.7h0M529.3,184.2h0" stroke="#8000FF" stroke-width="1.8" stroke-linecap="round"/>
<polyline points="310.8,184.2 342,175.9 349.8,173 357.6,169.5 365.4,165.3 373.2,160 381,153.2 388.8,144.3 396.6,132 404.4,114.8 408.3,103.7 412.2,91.3 413,88.8 413.8,86.2 414.6,83.8 415.4,81.6 416.1,80 416.9,85.3 417.7,91.6 418.5,96.8 419.3,100.9 420.1,103.1 420.8,101.6 421.6,98.7 422.4,95.1 423.2,90.7 424,88.2 424.7,92.3 425.5,95.9 426.3,99.2 427.1,102.3 427.9,105.1 431.8,116.9 435.7,126 443.5,139.1 451.3,148.4 459.1,155.4 466.9,160.9 474.7,165.5 482.5,169.3 490.3,172.5 498.1,175.4 529.3,184.2" fill="none" stroke="#800080" stroke-width="0.55" stroke-opacity="0.6"/>
<path d="M310.8,184.2h0M342,175.9h0M349.8,173h0M357.6,169.5h0M365.4,165.3h0M373.2,160h0M381,153.2h0M388.8,144.3h0M396.6,132h0M404.4,114.8h0M408.3,103.7h0M412.2,91.3h0M413,88.8h0M413.8,86.2h0M414.6,83.8h0M415.4,81.6h0M416.1,80h0M416.9,85.3h0M417.7,91.6h0M418.5,96.8h0M419.3,100.9h0M420.1,103.1h0M420.8,101.6h0M421.6,98.7h0M422.4,95.1h0M423.2,90.7h0M424,88.2h0M424.7,92.3h0M425.5,95.9h0M426.3,99.2h0M427.1,102.3h0M427.9,105.1h0M431.8,116.9h0M435.7,126h0M443.5,139.1h0M451.3,148.4h0M459.1,155.4h0M466.9,160.9h0M474.7,165.5h0M482.5,169.3h0M490.3,172.5h0M498.1,175.4h0M529.3,184.2h0" stroke="#800080" stroke-width="1.8" stroke-linecap="round"/>
<polyline points="310.8,184.2 342,176.7 349.8,174 357.6,170.8 365.4,166.8 373.2,161.8 381,155.3 388.8,146.8 396.6,135.3 404.4,120.2 408.3,111.3 412.2,102.7 413,101.3 413.8,100 414.6,99.1 415.4,101.5 416.1,105.4 416.9,108.9 417.7,111.9 418.5,114.5 419.3,116.5 420.1,117.6 420.8,116.8 421.6,115.4 422.4,113.6 423.2,111.4 424,108.9 424.7,106.1 425.5,105.4 426.3,107.1 427.1,109 427.9,111 431.8,120.2 435.7,128.3 443.5,140.9 451.3,150.1 459.1,157.1 466.9,162.5 474.7,167 482.5,170.6 490.3,173.7 498.1,176.3 529.3,184.2" fill="none" stroke="#800000" stroke-width="0.55" stroke-opacity="0.6"/>
<path d="M310.8,184.2h0M342,176.7h0M349.8,174h0M357.6,170.8h0M365.4,166.8h0M373.2,161.8h0M381,155.3h0M388.8,146.8h0M396.6,135.3h0M404.4,120.2h0M408.3,111.3h0M412.2,102.7h0M413,101.3h0M413.8,100h0M414.6,99.1h0M415.4,101.5h0M416.1,105.4h0M416.9,108.9h0M417.7,111.9h0M418.5,114.5h0M419.3,116.5h0M420.1,117.6h0M420.8,116.8h0M421.6,115.4h0M422.4,113.6h0M423.2,111.4h0M424,108.9h0M424.7,106.1h0M425.5,105.4h0M426.3,107.1h0M427.1,109h0M427.9,111h0M431.8,120.2h0M435.7,128.3h0M443.5,140.9h0M451.3,150.1h0M459.1,157.1h0M466.9,162.5h0M474.7,167h0M482.5,170.6h0M490.3,173.7h0M498.1,176.3h0M529.3,184.2h0" stroke="#800000" stroke-width="1.8" stroke-linecap="round"/>
<polyline points="310.8,184.2 342,179.6 349.8,178 357.6,176.1 365.4,173.9 373.2,171.1 381,167.6 388.8,163.1 396.6,157.1 404.4,149 408.3,144.2 412.2,139.1 413,138.2 413.8,137.5 414.6,139.5 415.4,142.6 416.1,145.5 416.9,148.1 417.7,150.4 418.5,152.4 419.3,153.9 420.1,154.7 420.8,154 421.6,152.7 422.4,151.1 423.2,149.1 424,146.9 424.7,144.5 425.5,141.9 426.3,140 427.1,140.3 427.9,140.8 431.8,144.5 435.7,148.8 443.5,157 451.3,163.4 459.1,168.3 466.9,172 474.7,174.8 482.5,177 490.3,178.8 498.1,180.3 529.3,184.2" fill="none" stroke="#808000" stroke-width="0.55" stroke-opacity="0.6"/>
<path d="M310.8,184.2h0M342,179.6h0M349.8,178h0M357.6,176.1h0M365.4,173.9h0M373.2,171.1h0M381,167.6h0M388.8,163.1h0M396.6,157.1h0M404.4,149h0M408.3,144.2h0M412.2,139.1h0M413,138.2h0M413.8,137.5h0M414.6,139.5h0M415.4,142.6h0M416.1,145.5h0M416.9,148.1h0M417.7,150.4h0M418.5,152.4h0M419.3,153.9h0M420.1,154.7h0M420.8,154h0M421.6,152.7h0M422.4,151.1h0M423.2,149.1h0M424,146.9h0M424.7,144.5h0M425.5,141.9h0M426.3,140h0M427.1,140.3h0M427.9,140.8h0M431.8,144.5h0M435.7,148.8h0M443.5,157h0M451.3,163.4h0M459.1,168.3h0M466.9,172h0M474.7,174.8h0M482.5,177h0M490.3,178.8h0M498.1,180.3h0M529.3,184.2h0" stroke="#808000" stroke-width="1.8" stroke-linecap="round"/>
</g></g>
<rect x="303" y="10.5" width="234.1" height="188.2" fill="none" stroke="#4a4a4a" stroke-width="1.25"/>
<text x="302.6" y="211.5" font-size="8.1" font-weight="bold" text-anchor="middle">−150</text>
<text x="322.1" y="211.5" font-size="8.1" font-weight="bold" text-anchor="middle">−125</text>
<text x="341.6" y="211.5" font-size="8.1" font-weight="bold" text-anchor="middle">−100</text>
<text x="361.1" y="211.5" font-size="8.1" font-weight="bold" text-anchor="middle">−75</text>
<text x="380.6" y="211.5" font-size="8.1" font-weight="bold" text-anchor="middle">−50</text>
<text x="400.1" y="211.5" font-size="8.1" font-weight="bold" text-anchor="middle">−25</text>
<text x="419.7" y="211.5" font-size="8.1" font-weight="bold" text-anchor="middle">0</text>
<text x="439.2" y="211.5" font-size="8.1" font-weight="bold" text-anchor="middle">25</text>
<text x="458.7" y="211.5" font-size="8.1" font-weight="bold" text-anchor="middle">50</text>
<text x="478.2" y="211.5" font-size="8.1" font-weight="bold" text-anchor="middle">75</text>
<text x="497.7" y="211.5" font-size="8.1" font-weight="bold" text-anchor="middle">100</text>
<text x="517.2" y="211.5" font-size="8.1" font-weight="bold" text-anchor="middle">125</text>
<text x="536.7" y="211.5" font-size="8.1" font-weight="bold" text-anchor="middle">150</text>
<text x="296.8" y="187.1" font-size="8.1" font-weight="bold" text-anchor="end">0</text>
<text x="296.8" y="158.2" font-size="8.1" font-weight="bold" text-anchor="end">5</text>
<text x="296.8" y="129.2" font-size="8.1" font-weight="bold" text-anchor="end">10</text>
<text x="296.8" y="100.2" font-size="8.1" font-weight="bold" text-anchor="end">15</text>
<text x="296.8" y="71.3" font-size="8.1" font-weight="bold" text-anchor="end">20</text>
<text x="296.8" y="42.3" font-size="8.1" font-weight="bold" text-anchor="end">25</text>
<text x="296.8" y="13.4" font-size="8.1" font-weight="bold" text-anchor="end">30</text>
<path d="M303,198.7v3.6M322.5,198.7v3.6M342,198.7v3.6M361.5,198.7v3.6M381,198.7v3.6M400.5,198.7v3.6M420.1,198.7v3.6M439.6,198.7v3.6M459.1,198.7v3.6M478.6,198.7v3.6M498.1,198.7v3.6M517.6,198.7v3.6M537.1,198.7v3.6M312.8,198.7v2M332.3,198.7v2M351.8,198.7v2M371.3,198.7v2M390.8,198.7v2M410.3,198.7v2M429.8,198.7v2M449.3,198.7v2M468.8,198.7v2M488.3,198.7v2M507.8,198.7v2M527.3,198.7v2M303,184.2h-3.6M303,155.2h-3.6M303,126.3h-3.6M303,97.3h-3.6M303,68.4h-3.6M303,39.4h-3.6M303,10.5h-3.6M303,169.7h-2M303,140.8h-2M303,111.8h-2M303,82.9h-2M303,53.9h-2M303,25h-2" stroke="#4a4a4a" stroke-width="1" fill="none"/>
<text x="423.3" y="222.7" font-size="9.5" font-weight="bold" text-anchor="middle">H (Oe)</text>
<text x="281.7" y="104.6" font-size="9.6" font-weight="bold" text-anchor="middle" transform="rotate(-90 281.7 104.6)" dy="3.3">GMI ratio (%)</text>
<text y="21.7" font-size="14.5"><tspan x="315.59999999999997">(b)</tspan><tspan x="334.90000000000003">t</tspan><tspan x="339.0" dy="2.6" font-size="9.5">c</tspan><tspan x="346.70000000000005" dy="-2.6">=</tspan><tspan x="359.2">0</tspan><tspan x="369.2">nm</tspan></text>
<path d="M474.4,21.4h21.5" stroke="#000000" stroke-width="0.6" stroke-opacity="0.35"/>
<circle cx="485.4" cy="21.4" r="1" fill="#000000"/>
<text x="499.4" y="24.6" font-size="9.5" text-anchor="start">100 kHz</text>
<path d="M474.4,33.5h21.5" stroke="#FF0000" stroke-width="0.6" stroke-opacity="0.35"/>
<circle cx="485.4" cy="33.5" r="1" fill="#FF0000"/>
<text x="499.4" y="36.7" font-size="9.5" text-anchor="start">500 kHz</text>
<path d="M474.4,45.6h21.5" stroke="#0000FF" stroke-width="0.6" stroke-opacity="0.35"/>
<circle cx="485.4" cy="45.6" r="1" fill="#0000FF"/>
<text x="499.4" y="48.8" font-size="9.5" text-anchor="start">1 MHz</text>
<path d="M474.4,57.7h21.5" stroke="#FF00FF" stroke-width="0.6" stroke-opacity="0.35"/>
<circle cx="485.4" cy="57.7" r="1" fill="#FF00FF"/>
<text x="499.4" y="60.9" font-size="9.5" text-anchor="start">2 MHz</text>
<path d="M474.4,69.8h21.5" stroke="#008000" stroke-width="0.6" stroke-opacity="0.35"/>
<circle cx="485.4" cy="69.8" r="1" fill="#008000"/>
<text x="499.4" y="73" font-size="9.5" text-anchor="start">3 MHz</text>
<path d="M474.4,81.9h21.5" stroke="#000080" stroke-width="0.6" stroke-opacity="0.35"/>
<circle cx="485.4" cy="81.9" r="1" fill="#000080"/>
<text x="499.4" y="85.1" font-size="9.5" text-anchor="start">5 MHz</text>
<path d="M474.4,94h21.5" stroke="#8000FF" stroke-width="0.6" stroke-opacity="0.35"/>
<circle cx="485.4" cy="94" r="1" fill="#8000FF"/>
<text x="499.4" y="97.2" font-size="9.5" text-anchor="start">10 MHz</text>
<path d="M474.4,106.1h21.5" stroke="#800080" stroke-width="0.6" stroke-opacity="0.35"/>
<circle cx="485.4" cy="106.1" r="1" fill="#800080"/>
<text x="499.4" y="109.3" font-size="9.5" text-anchor="start">15 MHz</text>
<path d="M474.4,118.2h21.5" stroke="#800000" stroke-width="0.6" stroke-opacity="0.35"/>
<circle cx="485.4" cy="118.2" r="1" fill="#800000"/>
<text x="499.4" y="121.4" font-size="9.5" text-anchor="start">20 MHz</text>
<path d="M474.4,130.3h21.5" stroke="#808000" stroke-width="0.6" stroke-opacity="0.35"/>
<circle cx="485.4" cy="130.3" r="1" fill="#808000"/>
<text x="499.4" y="133.5" font-size="9.5" text-anchor="start">30 MHz</text>
<rect x="323.5" y="27" width="77.1" height="70.3" fill="#fff" stroke="#999" stroke-width="0.8"/>
<clipPath id="ib"><rect x="323.5" y="27" width="77.1" height="70.3"/></clipPath>
<g clip-path="url(#ib)"><g filter="url(#soft)">
<polyline points="304.1,90.7 323.4,88.3 333.1,86.5 342.7,84.1 344.6,83.5 346.6,82.8 348.5,82.1 350.4,81.3 352.4,80.5 354.3,79.5 356.2,78.5 358.1,77.4 360.1,76.2 362,75.3 363.9,79.3 365.9,82.7 367.8,84.9 369.7,86.5 371.6,87.7 373.6,88.7 375.5,89.4 377.4,90.1 379.4,90.6 381.3,91.1 390.9,92.7 400.6,93.6 419.9,94.7" fill="none" stroke="#000000" stroke-width="0.4" stroke-opacity="0.35"/>
<path d="M304.1,90.7h0M323.4,88.3h0M333.1,86.5h0M342.7,84.1h0M344.6,83.5h0M346.6,82.8h0M348.5,82.1h0M350.4,81.3h0M352.4,80.5h0M354.3,79.5h0M356.2,78.5h0M358.1,77.4h0M360.1,76.2h0M362,75.3h0M363.9,79.3h0M365.9,82.7h0M367.8,84.9h0M369.7,86.5h0M371.6,87.7h0M373.6,88.7h0M375.5,89.4h0M377.4,90.1h0M379.4,90.6h0M381.3,91.1h0M390.9,92.7h0M400.6,93.6h0M419.9,94.7h0" stroke="#000000" stroke-width="1.5" stroke-linecap="round"/>
<polyline points="304.1,88.3 323.4,85 333.1,82.5 342.7,79 344.6,78.2 346.6,77.2 348.5,76.2 350.4,75.1 352.4,73.9 354.3,72.6 356.2,71.1 358.1,69.6 360.1,68 362,71.4 363.9,67.9 365.9,72.1 367.8,75 369.7,77.3 371.6,79.2 373.6,80.7 375.5,82 377.4,83.1 379.4,84.1 381.3,84.9 390.9,87.9 400.6,89.7 419.9,92" fill="none" stroke="#FF0000" stroke-width="0.4" stroke-opacity="0.35"/>
<path d="M304.1,88.3h0M323.4,85h0M333.1,82.5h0M342.7,79h0M344.6,78.2h0M346.6,77.2h0M348.5,76.2h0M350.4,75.1h0M352.4,73.9h0M354.3,72.6h0M356.2,71.1h0M358.1,69.6h0M360.1,68h0M362,71.4h0M363.9,67.9h0M365.9,72.1h0M367.8,75h0M369.7,77.3h0M371.6,79.2h0M373.6,80.7h0M375.5,82h0M377.4,83.1h0M379.4,84.1h0M381.3,84.9h0M390.9,87.9h0M400.6,89.7h0M419.9,92h0" stroke="#FF0000" stroke-width="1.5" stroke-linecap="round"/>
<polyline points="304.1,86 323.4,81.3 333.1,77.7 342.7,72.5 344.6,71.1 346.6,69.7 348.5,68.1 350.4,66.4 352.4,64.4 354.3,62.3 356.2,60.1 358.1,57.6 360.1,55.1 362,57.3 363.9,55.1 365.9,61.4 367.8,65.6 369.7,68.9 371.6,71.5 373.6,73.6 375.5,75.4 377.4,77 379.4,78.3 381.3,79.5 390.9,83.6 400.6,86.3 419.9,89.5" fill="none" stroke="#0000FF" stroke-width="0.4" stroke-opacity="0.35"/>
<path d="M304.1,86h0M323.4,81.3h0M333.1,77.7h0M342.7,72.5h0M344.6,71.1h0M346.6,69.7h0M348.5,68.1h0M350.4,66.4h0M352.4,64.4h0M354.3,62.3h0M356.2,60.1h0M358.1,57.6h0M360.1,55.1h0M362,57.3h0M363.9,55.1h0M365.9,61.4h0M367.8,65.6h0M369.7,68.9h0M371.6,71.5h0M373.6,73.6h0M375.5,75.4h0M377.4,77h0M379.4,78.3h0M381.3,79.5h0M390.9,83.6h0M400.6,86.3h0M419.9,89.5h0" stroke="#0000FF" stroke-width="1.5" stroke-linecap="round"/>
<polyline points="304.1,83.4 323.4,78.3 333.1,74.3 342.7,68.6 344.6,67.1 346.6,65.4 348.5,63.6 350.4,61.5 352.4,59.2 354.3,56.5 356.2,53.4 358.1,49.5 360.1,52.9 362,55 363.9,52.9 365.9,49.5 367.8,63.8 369.7,68.5 371.6,71.4 373.6,73.6 375.5,75.3 377.4,76.7 379.4,77.9 381.3,78.9 390.9,82.5 400.6,84.8 419.9,87.7" fill="none" stroke="#FF00FF" stroke-width="0.4" stroke-opacity="0.35"/>
<path d="M304.1,83.4h0M323.4,78.3h0M333.1,74.3h0M342.7,68.6h0M344.6,67.1h0M346.6,65.4h0M348.5,63.6h0M350.4,61.5h0M352.4,59.2h0M354.3,56.5h0M356.2,53.4h0M358.1,49.5h0M360.1,52.9h0M362,55h0M363.9,52.9h0M365.9,49.5h0M367.8,63.8h0M369.7,68.5h0M371.6,71.4h0M373.6,73.6h0M375.5,75.3h0M377.4,76.7h0M379.4,77.9h0M381.3,78.9h0M390.9,82.5h0M400.6,84.8h0M419.9,87.7h0" stroke="#FF00FF" stroke-width="1.5" stroke-linecap="round"/>
<polyline points="304.1,74.1 323.4,65.6 333.1,59.5 342.7,51.7 344.6,49.9 346.6,48 348.5,46 350.4,43.9 352.4,41.8 354.3,39.7 356.2,37.7 358.1,42.1 360.1,48.1 362,51.5 363.9,49.7 365.9,46.5 367.8,46 369.7,49.5 371.6,52.2 373.6,54.5 375.5,56.5 377.4,58.3 379.4,59.9 381.3,61.4 390.9,67.2 400.6,71.5 419.9,77.4" fill="none" stroke="#008000" stroke-width="0.4" stroke-opacity="0.35"/>
<path d="M304.1,74.1h0M323.4,65.6h0M333.1,59.5h0M342.7,51.7h0M344.6,49.9h0M346.6,48h0M348.5,46h0M350.4,43.9h0M352.4,41.8h0M354.3,39.7h0M356.2,37.7h0M358.1,42.1h0M360.1,48.1h0M362,51.5h0M363.9,49.7h0M365.9,46.5h0M367.8,46h0M369.7,49.5h0M371.6,52.2h0M373.6,54.5h0M375.5,56.5h0M377.4,58.3h0M379.4,59.9h0M381.3,61.4h0M390.9,67.2h0M400.6,71.5h0M419.9,77.4h0" stroke="#008000" stroke-width="1.5" stroke-linecap="round"/>
<polyline points="304.1,74.3 323.4,66 333.1,60.3 342.7,53.3 344.6,51.8 346.6,50.2 348.5,48.6 350.4,47 352.4,45.4 354.3,43.8 356.2,42.7 358.1,48 360.1,52.5 362,55 363.9,53.6 365.9,51.2 367.8,48.7 369.7,51.5 371.6,53.8 373.6,55.7 375.5,57.5 377.4,59.2 379.4,60.7 381.3,62 390.9,67.6 400.6,71.8 419.9,77.7" fill="none" stroke="#000080" stroke-width="0.4" stroke-opacity="0.35"/>
<path d="M304.1,74.3h0M323.4,66h0M333.1,60.3h0M342.7,53.3h0M344.6,51.8h0M346.6,50.2h0M348.5,48.6h0M350.4,47h0M352.4,45.4h0M354.3,43.8h0M356.2,42.7h0M358.1,48h0M360.1,52.5h0M362,55h0M363.9,53.6h0M365.9,51.2h0M367.8,48.7h0M369.7,51.5h0M371.6,53.8h0M373.6,55.7h0M375.5,57.5h0M377.4,59.2h0M379.4,60.7h0M381.3,62h0M390.9,67.6h0M400.6,71.8h0M419.9,77.7h0" stroke="#000080" stroke-width="1.5" stroke-linecap="round"/>
<polyline points="304.1,74.6 323.4,66.7 333.1,61.4 342.7,55.1 344.6,53.8 346.6,52.4 348.5,51 350.4,49.6 352.4,48.3 354.3,47.1 356.2,46.2 358.1,51 360.1,55.1 362,57.3 363.9,55.7 365.9,52.9 367.8,49.9 369.7,52.5 371.6,54.6 373.6,56.4 375.5,58.1 377.4,59.6 379.4,61 381.3,62.3 390.9,67.7 400.6,71.7 419.9,77.5" fill="none" stroke="#8000FF" stroke-width="0.4" stroke-opacity="0.35"/>
<path d="M304.1,74.6h0M323.4,66.7h0M333.1,61.4h0M342.7,55.1h0M344.6,53.8h0M346.6,52.4h0M348.5,51h0M350.4,49.6h0M352.4,48.3h0M354.3,47.1h0M356.2,46.2h0M358.1,51h0M360.1,55.1h0M362,57.3h0M363.9,55.7h0M365.9,52.9h0M367.8,49.9h0M369.7,52.5h0M371.6,54.6h0M373.6,56.4h0M375.5,58.1h0M377.4,59.6h0M379.4,61h0M381.3,62.3h0M390.9,67.7h0M400.6,71.7h0M419.9,77.5h0" stroke="#8000FF" stroke-width="1.5" stroke-linecap="round"/>
<polyline points="304.1,76 323.4,69 333.1,64.6 342.7,59.6 344.6,58.5 346.6,57.5 348.5,56.5 350.4,55.7 352.4,55 354.3,57.1 356.2,59.7 358.1,61.8 360.1,63.4 362,64.3 363.9,63.7 365.9,62.6 367.8,61.1 369.7,59.3 371.6,58.3 373.6,60 375.5,61.4 377.4,62.7 379.4,64 381.3,65.1 390.9,69.9 400.6,73.6 419.9,78.9" fill="none" stroke="#800080" stroke-width="0.4" stroke-opacity="0.35"/>
<path d="M304.1,76h0M323.4,69h0M333.1,64.6h0M342.7,59.6h0M344.6,58.5h0M346.6,57.5h0M348.5,56.5h0M350.4,55.7h0M352.4,55h0M354.3,57.1h0M356.2,59.7h0M358.1,61.8h0M360.1,63.4h0M362,64.3h0M363.9,63.7h0M365.9,62.6h0M367.8,61.1h0M369.7,59.3h0M371.6,58.3h0M373.6,60h0M375.5,61.4h0M377.4,62.7h0M379.4,64h0M381.3,65.1h0M390.9,69.9h0M400.6,73.6h0M419.9,78.9h0" stroke="#800080" stroke-width="1.5" stroke-linecap="round"/>
<polyline points="304.1,77.4 323.4,71.2 333.1,67.7 342.7,64.2 344.6,63.6 346.6,63.1 348.5,62.7 350.4,63.7 352.4,65.2 354.3,66.7 356.2,67.9 358.1,68.9 360.1,69.7 362,70.2 363.9,69.9 365.9,69.3 367.8,68.5 369.7,67.7 371.6,66.7 373.6,65.5 375.5,65.3 377.4,66 379.4,66.7 381.3,67.5 390.9,71.2 400.6,74.5 419.9,79.6" fill="none" stroke="#800000" stroke-width="0.4" stroke-opacity="0.35"/>
<path d="M304.1,77.4h0M323.4,71.2h0M333.1,67.7h0M342.7,64.2h0M344.6,63.6h0M346.6,63.1h0M348.5,62.7h0M350.4,63.7h0M352.4,65.2h0M354.3,66.7h0M356.2,67.9h0M358.1,68.9h0M360.1,69.7h0M362,70.2h0M363.9,69.9h0M365.9,69.3h0M367.8,68.5h0M369.7,67.7h0M371.6,66.7h0M373.6,65.5h0M375.5,65.3h0M377.4,66h0M379.4,66.7h0M381.3,67.5h0M390.9,71.2h0M400.6,74.5h0M419.9,79.6h0" stroke="#800000" stroke-width="1.5" stroke-linecap="round"/>
<polyline points="304.1,86.1 323.4,82.9 333.1,80.9 342.7,78.9 344.6,78.5 346.6,78.2 348.5,79 350.4,80.3 352.4,81.5 354.3,82.5 356.2,83.4 358.1,84.2 360.1,84.8 362,85.2 363.9,84.9 365.9,84.4 367.8,83.7 369.7,82.9 371.6,82 373.6,81.1 375.5,80 377.4,79.2 379.4,79.3 381.3,79.6 390.9,81 400.6,82.8 419.9,86.1" fill="none" stroke="#808000" stroke-width="0.4" stroke-opacity="0.35"/>
<path d="M304.1,86.1h0M323.4,82.9h0M333.1,80.9h0M342.7,78.9h0M344.6,78.5h0M346.6,78.2h0M348.5,79h0M350.4,80.3h0M352.4,81.5h0M354.3,82.5h0M356.2,83.4h0M358.1,84.2h0M360.1,84.8h0M362,85.2h0M363.9,84.9h0M365.9,84.4h0M367.8,83.7h0M369.7,82.9h0M371.6,82h0M373.6,81.1h0M375.5,80h0M377.4,79.2h0M379.4,79.3h0M381.3,79.6h0M390.9,81h0M400.6,82.8h0M419.9,86.1h0" stroke="#808000" stroke-width="1.5" stroke-linecap="round"/>
</g></g>
<text x="322.9" y="103.7" font-size="5.2" font-weight="bold" text-anchor="middle">−20</text>
<text x="332.6" y="103.7" font-size="5.2" font-weight="bold" text-anchor="middle">−15</text>
<text x="342.2" y="103.7" font-size="5.2" font-weight="bold" text-anchor="middle">−10</text>
<text x="351.9" y="103.7" font-size="5.2" font-weight="bold" text-anchor="middle">−5</text>
<text x="361.5" y="103.7" font-size="5.2" font-weight="bold" text-anchor="middle">0</text>
<text x="371.1" y="103.7" font-size="5.2" font-weight="bold" text-anchor="middle">5</text>
<text x="380.8" y="103.7" font-size="5.2" font-weight="bold" text-anchor="middle">10</text>
<text x="390.4" y="103.7" font-size="5.2" font-weight="bold" text-anchor="middle">15</text>
<text x="400.1" y="103.7" font-size="5.2" font-weight="bold" text-anchor="middle">20</text>
<text x="321.5" y="98.9" font-size="5.2" font-weight="bold" text-anchor="end">0</text>
<text x="321.5" y="87.2" font-size="5.2" font-weight="bold" text-anchor="end">5</text>
<text x="321.5" y="75.5" font-size="5.2" font-weight="bold" text-anchor="end">10</text>
<text x="321.5" y="63.8" font-size="5.2" font-weight="bold" text-anchor="end">15</text>
<text x="321.5" y="52.1" font-size="5.2" font-weight="bold" text-anchor="end">20</text>
<text x="321.5" y="40.4" font-size="5.2" font-weight="bold" text-anchor="end">25</text>
<text x="321.5" y="28.7" font-size="5.2" font-weight="bold" text-anchor="end">30</text>
<path d="M323.4,97.3v-1.5M333.1,97.3v-1.5M342.7,97.3v-1.5M352.4,97.3v-1.5M362,97.3v-1.5M371.6,97.3v-1.5M381.3,97.3v-1.5M390.9,97.3v-1.5M400.6,97.3v-1.5M323.5,97.1h1.5M323.5,85.4h1.5M323.5,73.7h1.5M323.5,62h1.5M323.5,50.3h1.5M323.5,38.6h1.5M323.5,26.9h1.5" stroke="#999" stroke-width="0.6" fill="none"/>
<text x="363.1" y="112" font-size="7.1" font-weight="bold" text-anchor="middle">H (Oe)</text>
<text x="313.4" y="62.1" font-size="7.1" font-weight="bold" text-anchor="middle" transform="rotate(-90 313.4 62.1)" dy="2.4">GMI ratio (%)</text>
<clipPath id="cc"><rect x="34" y="232.5" width="230.9" height="185.9"/></clipPath>
<g clip-path="url(#cc)"><g filter="url(#soft)">
<polyline points="41.7,409.1 72.5,407.9 80.2,407.6 87.9,407.2 95.6,406.7 103.3,406.2 111,405.6 118.7,404.8 126.4,403.7 134.1,402.1 137.9,400.8 141.8,399 142.5,398.4 143.3,397.8 144.1,397.1 144.8,396.3 145.6,395.3 146.4,394 147.1,392.2 147.9,389.6 148.7,384.4 149.4,366.7 150.2,384.4 151,389.6 151.8,392.2 152.5,394 153.3,395.3 154.1,396.3 154.8,397.1 155.6,397.8 156.4,398.4 157.1,399 161,400.8 164.8,402.1 172.5,403.7 180.2,404.8 187.9,405.6 195.6,406.2 203.3,406.7 211,407.2 218.7,407.6 226.4,407.9 257.2,409.1" fill="none" stroke="#000000" stroke-width="0.55" stroke-opacity="0.6"/>
<path d="M41.7,409.1h0M72.5,407.9h0M80.2,407.6h0M87.9,407.2h0M95.6,406.7h0M103.3,406.2h0M111,405.6h0M118.7,404.8h0M126.4,403.7h0M134.1,402.1h0M137.9,400.8h0M141.8,399h0M142.5,398.4h0M143.3,397.8h0M144.1,397.1h0M144.8,396.3h0M145.6,395.3h0M146.4,394h0M147.1,392.2h0M147.9,389.6h0M148.7,384.4h0M149.4,366.7h0M150.2,384.4h0M151,389.6h0M151.8,392.2h0M152.5,394h0M153.3,395.3h0M154.1,396.3h0M154.8,397.1h0M155.6,397.8h0M156.4,398.4h0M157.1,399h0M161,400.8h0M164.8,402.1h0M172.5,403.7h0M180.2,404.8h0M187.9,405.6h0M195.6,406.2h0M203.3,406.7h0M211,407.2h0M218.7,407.6h0M226.4,407.9h0M257.2,409.1h0" stroke="#000000" stroke-width="1.8" stroke-linecap="round"/>
<polyline points="41.7,409.1 72.5,407.4 80.2,406.8 87.9,406 95.6,405.2 103.3,404 111,402.6 118.7,400.5 126.4,397.2 134.1,391 137.9,385.3 141.8,374.5 142.5,371.2 143.3,367 144.1,361.9 144.8,355.2 145.6,346.2 146.4,332.8 147.1,334.5 147.9,336.3 148.7,337.7 149.4,338.5 150.2,337.7 151,336.3 151.8,334.5 152.5,332.8 153.3,346.2 154.1,355.2 154.8,361.9 155.6,367 156.4,371.2 157.1,374.5 161,385.3 164.8,391 172.5,397.2 180.2,400.5 187.9,402.6 195.6,404 203.3,405.2 211,406 218.7,406.8 226.4,407.4 257.2,409.1" fill="none" stroke="#FF0000" stroke-width="0.55" stroke-opacity="0.6"/>
<path d="M41.7,409.1h0M72.5,407.4h0M80.2,406.8h0M87.9,406h0M95.6,405.2h0M103.3,404h0M111,402.6h0M118.7,400.5h0M126.4,397.2h0M134.1,391h0M137.9,385.3h0M141.8,374.5h0M142.5,371.2h0M143.3,367h0M144.1,361.9h0M144.8,355.2h0M145.6,346.2h0M146.4,332.8h0M147.1,334.5h0M147.9,336.3h0M148.7,337.7h0M149.4,338.5h0M150.2,337.7h0M151,336.3h0M151.8,334.5h0M152.5,332.8h0M153.3,346.2h0M154.1,355.2h0M154.8,361.9h0M155.6,367h0M156.4,371.2h0M157.1,374.5h0M161,385.3h0M164.8,391h0M172.5,397.2h0M180.2,400.5h0M187.9,402.6h0M195.6,404h0M203.3,405.2h0M211,406h0M218.7,406.8h0M226.4,407.4h0M257.2,409.1h0" stroke="#FF0000" stroke-width="1.8" stroke-linecap="round"/>
<polyline points="41.7,409.1 72.5,403.9 80.2,402.2 87.9,400.2 95.6,397.8 103.3,394.8 111,391.1 118.7,386.2 126.4,379.1 134.1,367.5 137.9,358.3 141.8,344.1 142.5,340.2 143.3,335.8 144.1,330.7 144.8,324.9 145.6,317.9 146.4,309.5 147.1,298.7 147.9,282.8 148.7,289.6 149.4,293.8 150.2,289.6 151,282.8 151.8,298.7 152.5,309.5 153.3,317.9 154.1,324.9 154.8,330.7 155.6,335.8 156.4,340.2 157.1,344.1 161,358.3 164.8,367.5 172.5,379.1 180.2,386.2 187.9,391.1 195.6,394.8 203.3,397.8 211,400.2 218.7,402.2 226.4,403.9 257.2,409.1" fill="none" stroke="#0000FF" stroke-width="0.55" stroke-opacity="0.6"/>
<path d="M41.7,409.1h0M72.5,403.9h0M80.2,402.2h0M87.9,400.2h0M95.6,397.8h0M103.3,394.8h0M111,391.1h0M118.7,386.2h0M126.4,379.1h0M134.1,367.5h0M137.9,358.3h0M141.8,344.1h0M142.5,340.2h0M143.3,335.8h0M144.1,330.7h0M144.8,324.9h0M145.6,317.9h0M146.4,309.5h0M147.1,298.7h0M147.9,282.8h0M148.7,289.6h0M149.4,293.8h0M150.2,289.6h0M151,282.8h0M151.8,298.7h0M152.5,309.5h0M153.3,317.9h0M154.1,324.9h0M154.8,330.7h0M155.6,335.8h0M156.4,340.2h0M157.1,344.1h0M161,358.3h0M164.8,367.5h0M172.5,379.1h0M180.2,386.2h0M187.9,391.1h0M195.6,394.8h0M203.3,397.8h0M211,400.2h0M218.7,402.2h0M226.4,403.9h0M257.2,409.1h0" stroke="#0000FF" stroke-width="1.8" stroke-linecap="round"/>
<polyline points="41.7,409.1 72.5,400.9 80.2,398.2 87.9,395.1 95.6,391.4 103.3,387 111,381.5 118.7,374.2 126.4,364.2 134.1,349.1 137.9,337.8 141.8,322 142.5,318 143.3,313.5 144.1,308.7 144.8,303.2 145.6,297.1 146.4,290.1 147.1,282 147.9,271.6 148.7,277.9 149.4,282 150.2,277.9 151,271.6 151.8,282 152.5,290.1 153.3,297.1 154.1,303.2 154.8,308.7 155.6,313.5 156.4,318 157.1,322 161,337.8 164.8,349.1 172.5,364.2 180.2,374.2 187.9,381.5 195.6,387 203.3,391.4 211,395.1 218.7,398.2 226.4,400.9 257.2,409.1" fill="none" stroke="#FF00FF" stroke-width="0.55" stroke-opacity="0.6"/>
<path d="M41.7,409.1h0M72.5,400.9h0M80.2,398.2h0M87.9,395.1h0M95.6,391.4h0M103.3,387h0M111,381.5h0M118.7,374.2h0M126.4,364.2h0M134.1,349.1h0M137.9,337.8h0M141.8,322h0M142.5,318h0M143.3,313.5h0M144.1,308.7h0M144.8,303.2h0M145.6,297.1h0M146.4,290.1h0M147.1,282h0M147.9,271.6h0M148.7,277.9h0M149.4,282h0M150.2,277.9h0M151,271.6h0M151.8,282h0M152.5,290.1h0M153.3,297.1h0M154.1,303.2h0M154.8,308.7h0M155.6,313.5h0M156.4,318h0M157.1,322h0M161,337.8h0M164.8,349.1h0M172.5,364.2h0M180.2,374.2h0M187.9,381.5h0M195.6,387h0M203.3,391.4h0M211,395.1h0M218.7,398.2h0M226.4,400.9h0M257.2,409.1h0" stroke="#FF00FF" stroke-width="1.8" stroke-linecap="round"/>
<polyline points="41.7,409.1 72.5,400.2 80.2,397.3 87.9,393.9 95.6,389.8 103.3,385 111,378.9 118.7,370.9 126.4,359.7 134.1,342.6 137.9,329.7 141.8,311.3 142.5,306.6 143.3,301.4 144.1,295.6 144.8,289.1 145.6,281.7 146.4,273.1 147.1,262.8 147.9,258.5 148.7,264.6 149.4,267.9 150.2,264 151,256.8 151.8,260.6 152.5,271 153.3,279.7 154.1,287.2 154.8,293.8 155.6,299.7 156.4,305 157.1,309.8 161,328.5 164.8,341.6 172.5,359 180.2,370.3 187.9,378.4 195.6,384.6 203.3,389.5 211,393.6 218.7,397.1 226.4,400.1 257.2,409.1" fill="none" stroke="#008000" stroke-width="0.55" stroke-opacity="0.6"/>
<path d="M41.7,409.1h0M72.5,400.2h0M80.2,397.3h0M87.9,393.9h0M95.6,389.8h0M103.3,385h0M111,378.9h0M118.7,370.9h0M126.4,359.7h0M134.1,342.6h0M137.9,329.7h0M141.8,311.3h0M142.5,306.6h0M143.3,301.4h0M144.1,295.6h0M144.8,289.1h0M145.6,281.7h0M146.4,273.1h0M147.1,262.8h0M147.9,258.5h0M148.7,264.6h0M149.4,267.9h0M150.2,264h0M151,256.8h0M151.8,260.6h0M152.5,271h0M153.3,279.7h0M154.1,287.2h0M154.8,293.8h0M155.6,299.7h0M156.4,305h0M157.1,309.8h0M161,328.5h0M164.8,341.6h0M172.5,359h0M180.2,370.3h0M187.9,378.4h0M195.6,384.6h0M203.3,389.5h0M211,393.6h0M218.7,397.1h0M226.4,400.1h0M257.2,409.1h0" stroke="#008000" stroke-width="1.8" stroke-linecap="round"/>
<polyline points="41.7,409.1 72.5,401.2 80.2,398.6 87.9,395.6 95.6,392 103.3,387.6 111,382.1 118.7,375 126.4,365 134.1,349.8 137.9,338.6 141.8,323 142.5,319 143.3,314.7 144.1,310 144.8,304.8 145.6,299 146.4,292.5 147.1,285.1 147.9,276.2 148.7,285.6 149.4,291.5 150.2,285.6 151,276.2 151.8,285.1 152.5,292.5 153.3,299 154.1,304.8 154.8,310 155.6,314.7 156.4,319 157.1,323 161,338.6 164.8,349.8 172.5,365 180.2,375 187.9,382.1 195.6,387.6 203.3,392 211,395.6 218.7,398.6 226.4,401.2 257.2,409.1" fill="none" stroke="#000080" stroke-width="0.55" stroke-opacity="0.6"/>
<path d="M41.7,409.1h0M72.5,401.2h0M80.2,398.6h0M87.9,395.6h0M95.6,392h0M103.3,387.6h0M111,382.1h0M118.7,375h0M126.4,365h0M134.1,349.8h0M137.9,338.6h0M141.8,323h0M142.5,319h0M143.3,314.7h0M144.1,310h0M144.8,304.8h0M145.6,299h0M146.4,292.5h0M147.1,285.1h0M147.9,276.2h0M148.7,285.6h0M149.4,291.5h0M150.2,285.6h0M151,276.2h0M151.8,285.1h0M152.5,292.5h0M153.3,299h0M154.1,304.8h0M154.8,310h0M155.6,314.7h0M156.4,319h0M157.1,323h0M161,338.6h0M164.8,349.8h0M172.5,365h0M180.2,375h0M187.9,382.1h0M195.6,387.6h0M203.3,392h0M211,395.6h0M218.7,398.6h0M226.4,401.2h0M257.2,409.1h0" stroke="#000080" stroke-width="1.8" stroke-linecap="round"/>
<polyline points="41.7,409.1 72.5,401 80.2,398.4 87.9,395.2 95.6,391.5 103.3,387.1 111,381.4 118.7,374 126.4,363.7 134.1,347.9 137.9,336.1 141.8,319.6 142.5,315.4 143.3,310.9 144.1,305.8 144.8,300.3 145.6,294 146.4,287 147.1,278.8 147.9,276.6 148.7,283.2 149.4,286.7 150.2,283.2 151,276.6 151.8,278.8 152.5,287 153.3,294 154.1,300.3 154.8,305.8 155.6,310.9 156.4,315.4 157.1,319.6 161,336.1 164.8,347.9 172.5,363.7 180.2,374 187.9,381.4 195.6,387.1 203.3,391.5 211,395.2 218.7,398.4 226.4,401 257.2,409.1" fill="none" stroke="#8000FF" stroke-width="0.55" stroke-opacity="0.6"/>
<path d="M41.7,409.1h0M72.5,401h0M80.2,398.4h0M87.9,395.2h0M95.6,391.5h0M103.3,387.1h0M111,381.4h0M118.7,374h0M126.4,363.7h0M134.1,347.9h0M137.9,336.1h0M141.8,319.6h0M142.5,315.4h0M143.3,310.9h0M144.1,305.8h0M144.8,300.3h0M145.6,294h0M146.4,287h0M147.1,278.8h0M147.9,276.6h0M148.7,283.2h0M149.4,286.7h0M150.2,283.2h0M151,276.6h0M151.8,278.8h0M152.5,287h0M153.3,294h0M154.1,300.3h0M154.8,305.8h0M155.6,310.9h0M156.4,315.4h0M157.1,319.6h0M161,336.1h0M164.8,347.9h0M172.5,363.7h0M180.2,374h0M187.9,381.4h0M195.6,387.1h0M203.3,391.5h0M211,395.2h0M218.7,398.4h0M226.4,401h0M257.2,409.1h0" stroke="#8000FF" stroke-width="1.8" stroke-linecap="round"/>
<polyline points="41.7,409.1 72.5,402.5 80.2,400.3 87.9,397.6 95.6,394.4 103.3,390.4 111,385.3 118.7,378.4 126.4,368.4 134.1,352.7 137.9,340.9 141.8,324.3 142.5,320.2 143.3,315.8 144.1,310.9 144.8,305.7 145.6,300.1 146.4,294 147.1,287.9 147.9,293.2 148.7,298.1 149.4,300.9 150.2,298.1 151,293.2 151.8,287.9 152.5,294 153.3,300.1 154.1,305.7 154.8,310.9 155.6,315.8 156.4,320.2 157.1,324.3 161,340.9 164.8,352.7 172.5,368.4 180.2,378.4 187.9,385.3 195.6,390.4 203.3,394.4 211,397.6 218.7,400.3 226.4,402.5 257.2,409.1" fill="none" stroke="#800080" stroke-width="0.55" stroke-opacity="0.6"/>
<path d="M41.7,409.1h0M72.5,402.5h0M80.2,400.3h0M87.9,397.6h0M95.6,394.4h0M103.3,390.4h0M111,385.3h0M118.7,378.4h0M126.4,368.4h0M134.1,352.7h0M137.9,340.9h0M141.8,324.3h0M142.5,320.2h0M143.3,315.8h0M144.1,310.9h0M144.8,305.7h0M145.6,300.1h0M146.4,294h0M147.1,287.9h0M147.9,293.2h0M148.7,298.1h0M149.4,300.9h0M150.2,298.1h0M151,293.2h0M151.8,287.9h0M152.5,294h0M153.3,300.1h0M154.1,305.7h0M154.8,310.9h0M155.6,315.8h0M156.4,320.2h0M157.1,324.3h0M161,340.9h0M164.8,352.7h0M172.5,368.4h0M180.2,378.4h0M187.9,385.3h0M195.6,390.4h0M203.3,394.4h0M211,397.6h0M218.7,400.3h0M226.4,402.5h0M257.2,409.1h0" stroke="#800080" stroke-width="1.8" stroke-linecap="round"/>
<polyline points="41.7,409.1 72.5,403.9 80.2,402 87.9,399.7 95.6,397 103.3,393.5 111,389 118.7,382.9 126.4,374.4 134.1,361.9 137.9,353.6 141.8,343.9 142.5,341.9 143.3,339.9 144.1,338 144.8,336.2 145.6,334.9 146.4,336.5 147.1,338.8 147.9,340.8 148.7,342.4 149.4,343.2 150.2,342.4 151,340.8 151.8,338.8 152.5,336.5 153.3,334.9 154.1,336.2 154.8,338 155.6,339.9 156.4,341.9 157.1,343.9 161,353.6 164.8,361.9 172.5,374.4 180.2,382.9 187.9,389 195.6,393.5 203.3,397 211,399.7 218.7,402 226.4,403.9 257.2,409.1" fill="none" stroke="#800000" stroke-width="0.55" stroke-opacity="0.6"/>
<path d="M41.7,409.1h0M72.5,403.9h0M80.2,402h0M87.9,399.7h0M95.6,397h0M103.3,393.5h0M111,389h0M118.7,382.9h0M126.4,374.4h0M134.1,361.9h0M137.9,353.6h0M141.8,343.9h0M142.5,341.9h0M143.3,339.9h0M144.1,338h0M144.8,336.2h0M145.6,334.9h0M146.4,336.5h0M147.1,338.8h0M147.9,340.8h0M148.7,342.4h0M149.4,343.2h0M150.2,342.4h0M151,340.8h0M151.8,338.8h0M152.5,336.5h0M153.3,334.9h0M154.1,336.2h0M154.8,338h0M155.6,339.9h0M156.4,341.9h0M157.1,343.9h0M161,353.6h0M164.8,361.9h0M172.5,374.4h0M180.2,382.9h0M187.9,389h0M195.6,393.5h0M203.3,397h0M211,399.7h0M218.7,402h0M226.4,403.9h0M257.2,409.1h0" stroke="#800000" stroke-width="1.8" stroke-linecap="round"/>
<polyline points="41.7,409.1 72.5,405.9 80.2,404.6 87.9,402.9 95.6,400.7 103.3,397.8 111,393.7 118.7,388 126.4,380.5 134.1,371.6 137.9,367.5 141.8,364.5 142.5,364.1 143.3,363.8 144.1,363.6 144.8,363.5 145.6,367.8 146.4,372.2 147.1,376.1 147.9,379.3 148.7,381.8 149.4,383.2 150.2,381.8 151,379.3 151.8,376.1 152.5,372.2 153.3,367.8 154.1,363.5 154.8,363.6 155.6,363.8 156.4,364.1 157.1,364.5 161,367.5 164.8,371.6 172.5,380.5 180.2,388 187.9,393.7 195.6,397.8 203.3,400.7 211,402.9 218.7,404.6 226.4,405.9 257.2,409.1" fill="none" stroke="#808000" stroke-width="0.55" stroke-opacity="0.6"/>
<path d="M41.7,409.1h0M72.5,405.9h0M80.2,404.6h0M87.9,402.9h0M95.6,400.7h0M103.3,397.8h0M111,393.7h0M118.7,388h0M126.4,380.5h0M134.1,371.6h0M137.9,367.5h0M141.8,364.5h0M142.5,364.1h0M143.3,363.8h0M144.1,363.6h0M144.8,363.5h0M145.6,367.8h0M146.4,372.2h0M147.1,376.1h0M147.9,379.3h0M148.7,381.8h0M149.4,383.2h0M150.2,381.8h0M151,379.3h0M151.8,376.1h0M152.5,372.2h0M153.3,367.8h0M154.1,363.5h0M154.8,363.6h0M155.6,363.8h0M156.4,364.1h0M157.1,364.5h0M161,367.5h0M164.8,371.6h0M172.5,380.5h0M180.2,388h0M187.9,393.7h0M195.6,397.8h0M203.3,400.7h0M211,402.9h0M218.7,404.6h0M226.4,405.9h0M257.2,409.1h0" stroke="#808000" stroke-width="1.8" stroke-linecap="round"/>
</g></g>
<rect x="34" y="232.5" width="230.9" height="185.9" fill="none" stroke="#4a4a4a" stroke-width="1.25"/>
<text x="33.6" y="431.2" font-size="8.1" font-weight="bold" text-anchor="middle">−150</text>
<text x="52.8" y="431.2" font-size="8.1" font-weight="bold" text-anchor="middle">−125</text>
<text x="72.1" y="431.2" font-size="8.1" font-weight="bold" text-anchor="middle">−100</text>
<text x="91.3" y="431.2" font-size="8.1" font-weight="bold" text-anchor="middle">−75</text>
<text x="110.6" y="431.2" font-size="8.1" font-weight="bold" text-anchor="middle">−50</text>
<text x="129.8" y="431.2" font-size="8.1" font-weight="bold" text-anchor="middle">−25</text>
<text x="149" y="431.2" font-size="8.1" font-weight="bold" text-anchor="middle">0</text>
<text x="168.3" y="431.2" font-size="8.1" font-weight="bold" text-anchor="middle">25</text>
<text x="187.5" y="431.2" font-size="8.1" font-weight="bold" text-anchor="middle">50</text>
<text x="206.8" y="431.2" font-size="8.1" font-weight="bold" text-anchor="middle">75</text>
<text x="226" y="431.2" font-size="8.1" font-weight="bold" text-anchor="middle">100</text>
<text x="245.3" y="431.2" font-size="8.1" font-weight="bold" text-anchor="middle">125</text>
<text x="264.5" y="431.2" font-size="8.1" font-weight="bold" text-anchor="middle">150</text>
<text x="27.8" y="412" font-size="8.1" font-weight="bold" text-anchor="end">0</text>
<text x="27.8" y="388.5" font-size="8.1" font-weight="bold" text-anchor="end">5</text>
<text x="27.8" y="364.9" font-size="8.1" font-weight="bold" text-anchor="end">10</text>
<text x="27.8" y="341.4" font-size="8.1" font-weight="bold" text-anchor="end">15</text>
<text x="27.8" y="317.9" font-size="8.1" font-weight="bold" text-anchor="end">20</text>
<text x="27.8" y="294.4" font-size="8.1" font-weight="bold" text-anchor="end">25</text>
<text x="27.8" y="270.8" font-size="8.1" font-weight="bold" text-anchor="end">30</text>
<text x="27.8" y="247.3" font-size="8.1" font-weight="bold" text-anchor="end">35</text>
<path d="M34,418.4v3.6M53.2,418.4v3.6M72.5,418.4v3.6M91.7,418.4v3.6M111,418.4v3.6M130.2,418.4v3.6M149.4,418.4v3.6M168.7,418.4v3.6M187.9,418.4v3.6M207.2,418.4v3.6M226.4,418.4v3.6M245.7,418.4v3.6M264.9,418.4v3.6M43.6,418.4v2M62.9,418.4v2M82.1,418.4v2M101.3,418.4v2M120.6,418.4v2M139.8,418.4v2M159.1,418.4v2M178.3,418.4v2M197.6,418.4v2M216.8,418.4v2M236,418.4v2M255.3,418.4v2M34,409.1h-3.6M34,385.6h-3.6M34,362h-3.6M34,338.5h-3.6M34,315h-3.6M34,291.5h-3.6M34,267.9h-3.6M34,244.4h-3.6M34,397.3h-2M34,373.8h-2M34,350.3h-2M34,326.7h-2M34,303.2h-2M34,279.7h-2M34,256.2h-2" stroke="#4a4a4a" stroke-width="1" fill="none"/>
<text x="149.6" y="443.4" font-size="9.5" font-weight="bold" text-anchor="middle">H (Oe)</text>
<text x="12.7" y="325.4" font-size="9.6" font-weight="bold" text-anchor="middle" transform="rotate(-90 12.7 325.4)" dy="3.3">GMI ratio (%)</text>
<text y="246.2" font-size="14.5"><tspan x="46.3">(c)</tspan><tspan x="66.2">t</tspan><tspan x="70.4" dy="2.6" font-size="9.5">c</tspan><tspan x="78.0" dy="-2.6">=</tspan><tspan x="89.4">30</tspan><tspan x="108.10000000000001">nm</tspan></text>
<path d="M199.6,246.3h21.5" stroke="#000000" stroke-width="0.6" stroke-opacity="0.35"/>
<circle cx="210.6" cy="246.3" r="1" fill="#000000"/>
<text x="224.6" y="249.5" font-size="9.5" text-anchor="start">100 kHz</text>
<path d="M199.6,258.2h21.5" stroke="#FF0000" stroke-width="0.6" stroke-opacity="0.35"/>
<circle cx="210.6" cy="258.2" r="1" fill="#FF0000"/>
<text x="224.6" y="261.4" font-size="9.5" text-anchor="start">500 kHz</text>
<path d="M199.6,270.1h21.5" stroke="#0000FF" stroke-width="0.6" stroke-opacity="0.35"/>
<circle cx="210.6" cy="270.1" r="1" fill="#0000FF"/>
<text x="224.6" y="273.3" font-size="9.5" text-anchor="start">1 MHz</text>
<path d="M199.6,282h21.5" stroke="#FF00FF" stroke-width="0.6" stroke-opacity="0.35"/>
<circle cx="210.6" cy="282" r="1" fill="#FF00FF"/>
<text x="224.6" y="285.2" font-size="9.5" text-anchor="start">2 MHz</text>
<path d="M199.6,293.9h21.5" stroke="#008000" stroke-width="0.6" stroke-opacity="0.35"/>
<circle cx="210.6" cy="293.9" r="1" fill="#008000"/>
<text x="224.6" y="297.1" font-size="9.5" text-anchor="start">3 MHz</text>
<path d="M199.6,305.8h21.5" stroke="#000080" stroke-width="0.6" stroke-opacity="0.35"/>
<circle cx="210.6" cy="305.8" r="1" fill="#000080"/>
<text x="224.6" y="309" font-size="9.5" text-anchor="start">5 MHz</text>
<path d="M199.6,317.7h21.5" stroke="#8000FF" stroke-width="0.6" stroke-opacity="0.35"/>
<circle cx="210.6" cy="317.7" r="1" fill="#8000FF"/>
<text x="224.6" y="320.9" font-size="9.5" text-anchor="start">10 MHz</text>
<path d="M199.6,329.6h21.5" stroke="#800080" stroke-width="0.6" stroke-opacity="0.35"/>
<circle cx="210.6" cy="329.6" r="1" fill="#800080"/>
<text x="224.6" y="332.8" font-size="9.5" text-anchor="start">15 MHz</text>
<path d="M199.6,341.5h21.5" stroke="#800000" stroke-width="0.6" stroke-opacity="0.35"/>
<circle cx="210.6" cy="341.5" r="1" fill="#800000"/>
<text x="224.6" y="344.7" font-size="9.5" text-anchor="start">20 MHz</text>
<path d="M199.6,353.4h21.5" stroke="#808000" stroke-width="0.6" stroke-opacity="0.35"/>
<circle cx="210.6" cy="353.4" r="1" fill="#808000"/>
<text x="224.6" y="356.6" font-size="9.5" text-anchor="start">30 MHz</text>
<rect x="54" y="252.3" width="79.7" height="72.3" fill="#fff" stroke="#999" stroke-width="0.8"/>
<clipPath id="ic"><rect x="54" y="252.3" width="79.7" height="72.3"/></clipPath>
<g clip-path="url(#ic)"><g filter="url(#soft)">
<polyline points="34.1,314.3 54,313.7 64,313.3 73.9,312.6 75.9,312.4 77.9,312.2 79.9,311.9 81.9,311.6 83.9,311.3 85.9,310.8 87.9,310.1 89.9,309.2 91.9,307.3 93.8,300.8 95.8,307.3 97.8,309.2 99.8,310.1 101.8,310.8 103.8,311.3 105.8,311.6 107.8,311.9 109.8,312.2 111.8,312.4 113.8,312.6 123.7,313.3 133.6,313.7 153.6,314.3" fill="none" stroke="#000000" stroke-width="0.4" stroke-opacity="0.35"/>
<path d="M34.1,314.3h0M54,313.7h0M64,313.3h0M73.9,312.6h0M75.9,312.4h0M77.9,312.2h0M79.9,311.9h0M81.9,311.6h0M83.9,311.3h0M85.9,310.8h0M87.9,310.1h0M89.9,309.2h0M91.9,307.3h0M93.8,300.8h0M95.8,307.3h0M97.8,309.2h0M99.8,310.1h0M101.8,310.8h0M103.8,311.3h0M105.8,311.6h0M107.8,311.9h0M109.8,312.2h0M111.8,312.4h0M113.8,312.6h0M123.7,313.3h0M133.6,313.7h0M153.6,314.3h0" stroke="#000000" stroke-width="1.5" stroke-linecap="round"/>
<polyline points="34.1,311.9 54,309.7 64,307.6 73.9,303.7 75.9,302.4 77.9,300.9 79.9,299 81.9,296.6 83.9,293.3 85.9,288.4 87.9,289 89.9,289.7 91.9,290.2 93.8,290.5 95.8,290.2 97.8,289.7 99.8,289 101.8,288.4 103.8,293.3 105.8,296.6 107.8,299 109.8,300.9 111.8,302.4 113.8,303.7 123.7,307.6 133.6,309.7 153.6,311.9" fill="none" stroke="#FF0000" stroke-width="0.4" stroke-opacity="0.35"/>
<path d="M34.1,311.9h0M54,309.7h0M64,307.6h0M73.9,303.7h0M75.9,302.4h0M77.9,300.9h0M79.9,299h0M81.9,296.6h0M83.9,293.3h0M85.9,288.4h0M87.9,289h0M89.9,289.7h0M91.9,290.2h0M93.8,290.5h0M95.8,290.2h0M97.8,289.7h0M99.8,289h0M101.8,288.4h0M103.8,293.3h0M105.8,296.6h0M107.8,299h0M109.8,300.9h0M111.8,302.4h0M113.8,303.7h0M123.7,307.6h0M133.6,309.7h0M153.6,311.9h0" stroke="#FF0000" stroke-width="1.5" stroke-linecap="round"/>
<polyline points="34.1,305.3 54,301.1 64,297.7 73.9,292.5 75.9,291.1 77.9,289.5 79.9,287.7 81.9,285.5 83.9,283 85.9,279.9 87.9,275.9 89.9,270.2 91.9,272.6 93.8,274.2 95.8,272.6 97.8,270.2 99.8,275.9 101.8,279.9 103.8,283 105.8,285.5 107.8,287.7 109.8,289.5 111.8,291.1 113.8,292.5 123.7,297.7 133.6,301.1 153.6,305.3" fill="none" stroke="#0000FF" stroke-width="0.4" stroke-opacity="0.35"/>
<path d="M34.1,305.3h0M54,301.1h0M64,297.7h0M73.9,292.5h0M75.9,291.1h0M77.9,289.5h0M79.9,287.7h0M81.9,285.5h0M83.9,283h0M85.9,279.9h0M87.9,275.9h0M89.9,270.2h0M91.9,272.6h0M93.8,274.2h0M95.8,272.6h0M97.8,270.2h0M99.8,275.9h0M101.8,279.9h0M103.8,283h0M105.8,285.5h0M107.8,287.7h0M109.8,289.5h0M111.8,291.1h0M113.8,292.5h0M123.7,297.7h0M133.6,301.1h0M153.6,305.3h0" stroke="#0000FF" stroke-width="1.5" stroke-linecap="round"/>
<polyline points="34.1,299.9 54,294.4 64,290.3 73.9,284.5 75.9,283 77.9,281.4 79.9,279.6 81.9,277.6 83.9,275.4 85.9,272.8 87.9,269.8 89.9,266 91.9,268.3 93.8,269.9 95.8,268.3 97.8,266 99.8,269.8 101.8,272.8 103.8,275.4 105.8,277.6 107.8,279.6 109.8,281.4 111.8,283 113.8,284.5 123.7,290.3 133.6,294.4 153.6,299.9" fill="none" stroke="#FF00FF" stroke-width="0.4" stroke-opacity="0.35"/>
<path d="M34.1,299.9h0M54,294.4h0M64,290.3h0M73.9,284.5h0M75.9,283h0M77.9,281.4h0M79.9,279.6h0M81.9,277.6h0M83.9,275.4h0M85.9,272.8h0M87.9,269.8h0M89.9,266h0M91.9,268.3h0M93.8,269.9h0M95.8,268.3h0M97.8,266h0M99.8,269.8h0M101.8,272.8h0M103.8,275.4h0M105.8,277.6h0M107.8,279.6h0M109.8,281.4h0M111.8,283h0M113.8,284.5h0M123.7,290.3h0M133.6,294.4h0M153.6,299.9h0" stroke="#FF00FF" stroke-width="1.5" stroke-linecap="round"/>
<polyline points="34.1,298.3 54,292 64,287.3 73.9,280.6 75.9,278.8 77.9,276.9 79.9,274.8 81.9,272.4 83.9,269.7 85.9,266.6 87.9,262.8 89.9,261.3 91.9,263.5 93.8,264.7 95.8,263.3 97.8,260.6 99.8,262 101.8,265.8 103.8,269 105.8,271.8 107.8,274.2 109.8,276.3 111.8,278.3 113.8,280 123.7,286.8 133.6,291.6 153.6,298" fill="none" stroke="#008000" stroke-width="0.4" stroke-opacity="0.35"/>
<path d="M34.1,298.3h0M54,292h0M64,287.3h0M73.9,280.6h0M75.9,278.8h0M77.9,276.9h0M79.9,274.8h0M81.9,272.4h0M83.9,269.7h0M85.9,266.6h0M87.9,262.8h0M89.9,261.3h0M91.9,263.5h0M93.8,264.7h0M95.8,263.3h0M97.8,260.6h0M99.8,262h0M101.8,265.8h0M103.8,269h0M105.8,271.8h0M107.8,274.2h0M109.8,276.3h0M111.8,278.3h0M113.8,280h0M123.7,286.8h0M133.6,291.6h0M153.6,298h0" stroke="#008000" stroke-width="1.5" stroke-linecap="round"/>
<polyline points="34.1,300.2 54,294.6 64,290.5 73.9,284.8 75.9,283.4 77.9,281.8 79.9,280.1 81.9,278.2 83.9,276.1 85.9,273.7 87.9,271 89.9,267.7 91.9,271.2 93.8,273.3 95.8,271.2 97.8,267.7 99.8,271 101.8,273.7 103.8,276.1 105.8,278.2 107.8,280.1 109.8,281.8 111.8,283.4 113.8,284.8 123.7,290.5 133.6,294.6 153.6,300.2" fill="none" stroke="#000080" stroke-width="0.4" stroke-opacity="0.35"/>
<path d="M34.1,300.2h0M54,294.6h0M64,290.5h0M73.9,284.8h0M75.9,283.4h0M77.9,281.8h0M79.9,280.1h0M81.9,278.2h0M83.9,276.1h0M85.9,273.7h0M87.9,271h0M89.9,267.7h0M91.9,271.2h0M93.8,273.3h0M95.8,271.2h0M97.8,267.7h0M99.8,271h0M101.8,273.7h0M103.8,276.1h0M105.8,278.2h0M107.8,280.1h0M109.8,281.8h0M111.8,283.4h0M113.8,284.8h0M123.7,290.5h0M133.6,294.6h0M153.6,300.2h0" stroke="#000080" stroke-width="1.5" stroke-linecap="round"/>
<polyline points="34.1,299.7 54,293.9 64,289.6 73.9,283.6 75.9,282.1 77.9,280.4 79.9,278.6 81.9,276.5 83.9,274.2 85.9,271.7 87.9,268.7 89.9,267.9 91.9,270.3 93.8,271.6 95.8,270.3 97.8,267.9 99.8,268.7 101.8,271.7 103.8,274.2 105.8,276.5 107.8,278.6 109.8,280.4 111.8,282.1 113.8,283.6 123.7,289.6 133.6,293.9 153.6,299.7" fill="none" stroke="#8000FF" stroke-width="0.4" stroke-opacity="0.35"/>
<path d="M34.1,299.7h0M54,293.9h0M64,289.6h0M73.9,283.6h0M75.9,282.1h0M77.9,280.4h0M79.9,278.6h0M81.9,276.5h0M83.9,274.2h0M85.9,271.7h0M87.9,268.7h0M89.9,267.9h0M91.9,270.3h0M93.8,271.6h0M95.8,270.3h0M97.8,267.9h0M99.8,268.7h0M101.8,271.7h0M103.8,274.2h0M105.8,276.5h0M107.8,278.6h0M109.8,280.4h0M111.8,282.1h0M113.8,283.6h0M123.7,289.6h0M133.6,293.9h0M153.6,299.7h0" stroke="#8000FF" stroke-width="1.5" stroke-linecap="round"/>
<polyline points="34.1,301.4 54,295.7 64,291.4 73.9,285.3 75.9,283.8 77.9,282.2 79.9,280.4 81.9,278.5 83.9,276.5 85.9,274.2 87.9,272 89.9,273.9 91.9,275.7 93.8,276.7 95.8,275.7 97.8,273.9 99.8,272 101.8,274.2 103.8,276.5 105.8,278.5 107.8,280.4 109.8,282.2 111.8,283.8 113.8,285.3 123.7,291.4 133.6,295.7 153.6,301.4" fill="none" stroke="#800080" stroke-width="0.4" stroke-opacity="0.35"/>
<path d="M34.1,301.4h0M54,295.7h0M64,291.4h0M73.9,285.3h0M75.9,283.8h0M77.9,282.2h0M79.9,280.4h0M81.9,278.5h0M83.9,276.5h0M85.9,274.2h0M87.9,272h0M89.9,273.9h0M91.9,275.7h0M93.8,276.7h0M95.8,275.7h0M97.8,273.9h0M99.8,272h0M101.8,274.2h0M103.8,276.5h0M105.8,278.5h0M107.8,280.4h0M109.8,282.2h0M111.8,283.8h0M113.8,285.3h0M123.7,291.4h0M133.6,295.7h0M153.6,301.4h0" stroke="#800080" stroke-width="1.5" stroke-linecap="round"/>
<polyline points="34.1,303.6 54,299 64,296 73.9,292.5 75.9,291.7 77.9,291 79.9,290.3 81.9,289.7 83.9,289.2 85.9,289.8 87.9,290.6 89.9,291.3 91.9,291.9 93.8,292.2 95.8,291.9 97.8,291.3 99.8,290.6 101.8,289.8 103.8,289.2 105.8,289.7 107.8,290.3 109.8,291 111.8,291.7 113.8,292.5 123.7,296 133.6,299 153.6,303.6" fill="none" stroke="#800000" stroke-width="0.4" stroke-opacity="0.35"/>
<path d="M34.1,303.6h0M54,299h0M64,296h0M73.9,292.5h0M75.9,291.7h0M77.9,291h0M79.9,290.3h0M81.9,289.7h0M83.9,289.2h0M85.9,289.8h0M87.9,290.6h0M89.9,291.3h0M91.9,291.9h0M93.8,292.2h0M95.8,291.9h0M97.8,291.3h0M99.8,290.6h0M101.8,289.8h0M103.8,289.2h0M105.8,289.7h0M107.8,290.3h0M109.8,291h0M111.8,291.7h0M113.8,292.5h0M123.7,296h0M133.6,299h0M153.6,303.6h0" stroke="#800000" stroke-width="1.5" stroke-linecap="round"/>
<polyline points="34.1,305.8 54,302.6 64,301.1 73.9,300 75.9,299.9 77.9,299.7 79.9,299.7 81.9,299.6 83.9,301.2 85.9,302.8 87.9,304.2 89.9,305.4 91.9,306.3 93.8,306.8 95.8,306.3 97.8,305.4 99.8,304.2 101.8,302.8 103.8,301.2 105.8,299.6 107.8,299.7 109.8,299.7 111.8,299.9 113.8,300 123.7,301.1 133.6,302.6 153.6,305.8" fill="none" stroke="#808000" stroke-width="0.4" stroke-opacity="0.35"/>
<path d="M34.1,305.8h0M54,302.6h0M64,301.1h0M73.9,300h0M75.9,299.9h0M77.9,299.7h0M79.9,299.7h0M81.9,299.6h0M83.9,301.2h0M85.9,302.8h0M87.9,304.2h0M89.9,305.4h0M91.9,306.3h0M93.8,306.8h0M95.8,306.3h0M97.8,305.4h0M99.8,304.2h0M101.8,302.8h0M103.8,301.2h0M105.8,299.6h0M107.8,299.7h0M109.8,299.7h0M111.8,299.9h0M113.8,300h0M123.7,301.1h0M133.6,302.6h0M153.6,305.8h0" stroke="#808000" stroke-width="1.5" stroke-linecap="round"/>
</g></g>
<text x="53.5" y="331.4" font-size="5.2" font-weight="bold" text-anchor="middle">−20</text>
<text x="63.5" y="331.4" font-size="5.2" font-weight="bold" text-anchor="middle">−15</text>
<text x="73.4" y="331.4" font-size="5.2" font-weight="bold" text-anchor="middle">−10</text>
<text x="83.4" y="331.4" font-size="5.2" font-weight="bold" text-anchor="middle">−5</text>
<text x="93.3" y="331.4" font-size="5.2" font-weight="bold" text-anchor="middle">0</text>
<text x="103.3" y="331.4" font-size="5.2" font-weight="bold" text-anchor="middle">5</text>
<text x="113.2" y="331.4" font-size="5.2" font-weight="bold" text-anchor="middle">10</text>
<text x="123.2" y="331.4" font-size="5.2" font-weight="bold" text-anchor="middle">15</text>
<text x="133.1" y="331.4" font-size="5.2" font-weight="bold" text-anchor="middle">20</text>
<text x="52" y="326.7" font-size="5.2" font-weight="bold" text-anchor="end">−5</text>
<text x="52" y="318.1" font-size="5.2" font-weight="bold" text-anchor="end">0</text>
<text x="52" y="309.5" font-size="5.2" font-weight="bold" text-anchor="end">5</text>
<text x="52" y="300.9" font-size="5.2" font-weight="bold" text-anchor="end">10</text>
<text x="52" y="292.3" font-size="5.2" font-weight="bold" text-anchor="end">15</text>
<text x="52" y="283.7" font-size="5.2" font-weight="bold" text-anchor="end">20</text>
<text x="52" y="275.1" font-size="5.2" font-weight="bold" text-anchor="end">25</text>
<text x="52" y="266.5" font-size="5.2" font-weight="bold" text-anchor="end">30</text>
<text x="52" y="257.9" font-size="5.2" font-weight="bold" text-anchor="end">35</text>
<path d="M54,324.6v-1.5M64,324.6v-1.5M73.9,324.6v-1.5M83.9,324.6v-1.5M93.8,324.6v-1.5M103.8,324.6v-1.5M113.8,324.6v-1.5M123.7,324.6v-1.5M133.6,324.6v-1.5M54,324.9h1.5M54,316.3h1.5M54,307.7h1.5M54,299.1h1.5M54,290.5h1.5M54,281.9h1.5M54,273.3h1.5M54,264.7h1.5M54,256.1h1.5" stroke="#999" stroke-width="0.6" fill="none"/>
<text x="94.8" y="339" font-size="7.1" font-weight="bold" text-anchor="middle">H (Oe)</text>
<text x="41.4" y="288.5" font-size="7.1" font-weight="bold" text-anchor="middle" transform="rotate(-90 41.4 288.5)" dy="2.4">GMI ratio (%)</text>
<clipPath id="cd"><rect x="307.3" y="230.6" width="232" height="187"/></clipPath>
<g clip-path="url(#cd)"><g filter="url(#soft)">
<polyline points="315,409.2 346,407.5 353.7,407 361.4,406.4 369.2,405.7 376.9,404.8 384.6,403.7 392.4,402.3 400.1,400.3 407.8,397 411.7,394.4 415.6,390.3 416.3,389.1 417.1,387.8 417.9,386.2 418.7,384.4 419.4,382.2 420.2,379.3 421,375.7 421.8,370.4 422.5,361.9 423.3,347.7 424.1,361.9 424.8,370.4 425.6,375.7 426.4,379.3 427.2,382.2 427.9,384.4 428.7,386.2 429.5,387.8 430.3,389.1 431,390.3 434.9,394.4 438.8,397 446.5,400.3 454.2,402.3 462,403.7 469.7,404.8 477.4,405.7 485.2,406.4 492.9,407 500.6,407.5 531.6,409.2" fill="none" stroke="#000000" stroke-width="0.55" stroke-opacity="0.6"/>
<path d="M315,409.2h0M346,407.5h0M353.7,407h0M361.4,406.4h0M369.2,405.7h0M376.9,404.8h0M384.6,403.7h0M392.4,402.3h0M400.1,400.3h0M407.8,397h0M411.7,394.4h0M415.6,390.3h0M416.3,389.1h0M417.1,387.8h0M417.9,386.2h0M418.7,384.4h0M419.4,382.2h0M420.2,379.3h0M421,375.7h0M421.8,370.4h0M422.5,361.9h0M423.3,347.7h0M424.1,361.9h0M424.8,370.4h0M425.6,375.7h0M426.4,379.3h0M427.2,382.2h0M427.9,384.4h0M428.7,386.2h0M429.5,387.8h0M430.3,389.1h0M431,390.3h0M434.9,394.4h0M438.8,397h0M446.5,400.3h0M454.2,402.3h0M462,403.7h0M469.7,404.8h0M477.4,405.7h0M485.2,406.4h0M492.9,407h0M500.6,407.5h0M531.6,409.2h0" stroke="#000000" stroke-width="1.8" stroke-linecap="round"/>
<polyline points="315,409.2 346,405.1 353.7,403.7 361.4,402.1 369.2,400.2 376.9,397.9 384.6,394.9 392.4,390.9 400.1,385.2 407.8,376.1 411.7,368.9 415.6,358 416.3,355.2 417.1,351.9 417.9,348.3 418.7,344.1 419.4,339.3 420.2,333.7 421,326.8 421.8,318.2 422.5,314.6 423.3,317.9 424.1,314.6 424.8,318.2 425.6,326.8 426.4,333.7 427.2,339.3 427.9,344.1 428.7,348.3 429.5,351.9 430.3,355.2 431,358 434.9,368.9 438.8,376.1 446.5,385.2 454.2,390.9 462,394.9 469.7,397.9 477.4,400.2 485.2,402.1 492.9,403.7 500.6,405.1 531.6,409.2" fill="none" stroke="#FF0000" stroke-width="0.55" stroke-opacity="0.6"/>
<path d="M315,409.2h0M346,405.1h0M353.7,403.7h0M361.4,402.1h0M369.2,400.2h0M376.9,397.9h0M384.6,394.9h0M392.4,390.9h0M400.1,385.2h0M407.8,376.1h0M411.7,368.9h0M415.6,358h0M416.3,355.2h0M417.1,351.9h0M417.9,348.3h0M418.7,344.1h0M419.4,339.3h0M420.2,333.7h0M421,326.8h0M421.8,318.2h0M422.5,314.6h0M423.3,317.9h0M424.1,314.6h0M424.8,318.2h0M425.6,326.8h0M426.4,333.7h0M427.2,339.3h0M427.9,344.1h0M428.7,348.3h0M429.5,351.9h0M430.3,355.2h0M431,358h0M434.9,368.9h0M438.8,376.1h0M446.5,385.2h0M454.2,390.9h0M462,394.9h0M469.7,397.9h0M477.4,400.2h0M485.2,402.1h0M492.9,403.7h0M500.6,405.1h0M531.6,409.2h0" stroke="#FF0000" stroke-width="1.8" stroke-linecap="round"/>
<polyline points="315,409.2 346,404.4 353.7,402.8 361.4,400.8 369.2,398.3 376.9,395.2 384.6,391.1 392.4,385.4 400.1,376.8 407.8,361.8 411.7,349.4 415.6,329.8 416.3,324.5 417.1,318.5 417.9,311.7 418.7,304.1 419.4,295.3 420.2,285.2 421,273.6 421.8,261 422.5,268 423.3,272.2 424.1,268 424.8,261 425.6,273.6 426.4,285.2 427.2,295.3 427.9,304.1 428.7,311.7 429.5,318.5 430.3,324.5 431,329.8 434.9,349.4 438.8,361.8 446.5,376.8 454.2,385.4 462,391.1 469.7,395.2 477.4,398.3 485.2,400.8 492.9,402.8 500.6,404.4 531.6,409.2" fill="none" stroke="#0000FF" stroke-width="0.55" stroke-opacity="0.6"/>
<path d="M315,409.2h0M346,404.4h0M353.7,402.8h0M361.4,400.8h0M369.2,398.3h0M376.9,395.2h0M384.6,391.1h0M392.4,385.4h0M400.1,376.8h0M407.8,361.8h0M411.7,349.4h0M415.6,329.8h0M416.3,324.5h0M417.1,318.5h0M417.9,311.7h0M418.7,304.1h0M419.4,295.3h0M420.2,285.2h0M421,273.6h0M421.8,261h0M422.5,268h0M423.3,272.2h0M424.1,268h0M424.8,261h0M425.6,273.6h0M426.4,285.2h0M427.2,295.3h0M427.9,304.1h0M428.7,311.7h0M429.5,318.5h0M430.3,324.5h0M431,329.8h0M434.9,349.4h0M438.8,361.8h0M446.5,376.8h0M454.2,385.4h0M462,391.1h0M469.7,395.2h0M477.4,398.3h0M485.2,400.8h0M492.9,402.8h0M500.6,404.4h0M531.6,409.2h0" stroke="#0000FF" stroke-width="1.8" stroke-linecap="round"/>
<polyline points="315,409.2 346,402.9 353.7,400.7 361.4,398.1 369.2,395 376.9,391 384.6,385.8 392.4,378.6 400.1,368 407.8,350.2 411.7,335.9 415.6,314.4 416.3,308.8 417.1,302.6 417.9,295.7 418.7,287.9 419.4,279.3 420.2,269.6 421,258.7 421.8,247.3 422.5,256.7 423.3,262.3 424.1,258.8 424.8,253.2 425.6,264.2 426.4,274.7 427.2,284 427.9,292.4 428.7,299.8 429.5,306.5 430.3,312.5 431,317.9 434.9,338.6 438.8,352.3 446.5,369.5 454.2,379.8 462,386.7 469.7,391.7 477.4,395.5 485.2,398.5 492.9,401 500.6,403.2 531.6,409.2" fill="none" stroke="#FF00FF" stroke-width="0.55" stroke-opacity="0.6"/>
<path d="M315,409.2h0M346,402.9h0M353.7,400.7h0M361.4,398.1h0M369.2,395h0M376.9,391h0M384.6,385.8h0M392.4,378.6h0M400.1,368h0M407.8,350.2h0M411.7,335.9h0M415.6,314.4h0M416.3,308.8h0M417.1,302.6h0M417.9,295.7h0M418.7,287.9h0M419.4,279.3h0M420.2,269.6h0M421,258.7h0M421.8,247.3h0M422.5,256.7h0M423.3,262.3h0M424.1,258.8h0M424.8,253.2h0M425.6,264.2h0M426.4,274.7h0M427.2,284h0M427.9,292.4h0M428.7,299.8h0M429.5,306.5h0M430.3,312.5h0M431,317.9h0M434.9,338.6h0M438.8,352.3h0M446.5,369.5h0M454.2,379.8h0M462,386.7h0M469.7,391.7h0M477.4,395.5h0M485.2,398.5h0M492.9,401h0M500.6,403.2h0M531.6,409.2h0" stroke="#FF00FF" stroke-width="1.8" stroke-linecap="round"/>
<polyline points="315,409.2 346,404.1 353.7,402.3 361.4,400.1 369.2,397.4 376.9,394.1 384.6,389.6 392.4,383.4 400.1,373.9 407.8,357.6 411.7,344.3 415.6,323.8 416.3,318.3 417.1,312.3 417.9,305.5 418.7,298 419.4,289.5 420.2,280 421,269.6 421.8,259 422.5,266 423.3,270.2 424.1,266 424.8,259 425.6,269.6 426.4,280 427.2,289.5 427.9,298 428.7,305.5 429.5,312.3 430.3,318.3 431,323.8 434.9,344.3 438.8,357.6 446.5,373.9 454.2,383.4 462,389.6 469.7,394.1 477.4,397.4 485.2,400.1 492.9,402.3 500.6,404.1 531.6,409.2" fill="none" stroke="#008000" stroke-width="0.55" stroke-opacity="0.6"/>
<path d="M315,409.2h0M346,404.1h0M353.7,402.3h0M361.4,400.1h0M369.2,397.4h0M376.9,394.1h0M384.6,389.6h0M392.4,383.4h0M400.1,373.9h0M407.8,357.6h0M411.7,344.3h0M415.6,323.8h0M416.3,318.3h0M417.1,312.3h0M417.9,305.5h0M418.7,298h0M419.4,289.5h0M420.2,280h0M421,269.6h0M421.8,259h0M422.5,266h0M423.3,270.2h0M424.1,266h0M424.8,259h0M425.6,269.6h0M426.4,280h0M427.2,289.5h0M427.9,298h0M428.7,305.5h0M429.5,312.3h0M430.3,318.3h0M431,323.8h0M434.9,344.3h0M438.8,357.6h0M446.5,373.9h0M454.2,383.4h0M462,389.6h0M469.7,394.1h0M477.4,397.4h0M485.2,400.1h0M492.9,402.3h0M500.6,404.1h0M531.6,409.2h0" stroke="#008000" stroke-width="1.8" stroke-linecap="round"/>
<polyline points="315,409.2 346,403.2 353.7,401 361.4,398.5 369.2,395.3 376.9,391.3 384.6,386 392.4,378.6 400.1,367.6 407.8,349.5 411.7,335.5 415.6,315.6 416.3,310.7 417.1,305.4 417.9,299.7 418.7,293.5 419.4,287 420.2,280.2 421,273.2 421.8,267 422.5,274 423.3,278.2 424.1,274 424.8,267 425.6,273.2 426.4,280.2 427.2,287 427.9,293.5 428.7,299.7 429.5,305.4 430.3,310.7 431,315.6 434.9,335.5 438.8,349.5 446.5,367.6 454.2,378.6 462,386 469.7,391.3 477.4,395.3 485.2,398.5 492.9,401 500.6,403.2 531.6,409.2" fill="none" stroke="#000080" stroke-width="0.55" stroke-opacity="0.6"/>
<path d="M315,409.2h0M346,403.2h0M353.7,401h0M361.4,398.5h0M369.2,395.3h0M376.9,391.3h0M384.6,386h0M392.4,378.6h0M400.1,367.6h0M407.8,349.5h0M411.7,335.5h0M415.6,315.6h0M416.3,310.7h0M417.1,305.4h0M417.9,299.7h0M418.7,293.5h0M419.4,287h0M420.2,280.2h0M421,273.2h0M421.8,267h0M422.5,274h0M423.3,278.2h0M424.1,274h0M424.8,267h0M425.6,273.2h0M426.4,280.2h0M427.2,287h0M427.9,293.5h0M428.7,299.7h0M429.5,305.4h0M430.3,310.7h0M431,315.6h0M434.9,335.5h0M438.8,349.5h0M446.5,367.6h0M454.2,378.6h0M462,386h0M469.7,391.3h0M477.4,395.3h0M485.2,398.5h0M492.9,401h0M500.6,403.2h0M531.6,409.2h0" stroke="#000080" stroke-width="1.8" stroke-linecap="round"/>
<polyline points="315,409.2 346,402.3 353.7,399.9 361.4,397 369.2,393.6 376.9,389.2 384.6,383.6 392.4,375.9 400.1,364.8 407.8,347.4 411.7,334.4 415.6,316.8 416.3,312.5 417.1,307.9 417.9,303 418.7,297.8 419.4,292.3 420.2,286.5 421,280.6 421.8,275.1 422.5,281.9 423.3,286.1 424.1,281.9 424.8,275.1 425.6,280.6 426.4,286.5 427.2,292.3 427.9,297.8 428.7,303 429.5,307.9 430.3,312.5 431,316.8 434.9,334.4 438.8,347.4 446.5,364.8 454.2,375.9 462,383.6 469.7,389.2 477.4,393.6 485.2,397 492.9,399.9 500.6,402.3 531.6,409.2" fill="none" stroke="#8000FF" stroke-width="0.55" stroke-opacity="0.6"/>
<path d="M315,409.2h0M346,402.3h0M353.7,399.9h0M361.4,397h0M369.2,393.6h0M376.9,389.2h0M384.6,383.6h0M392.4,375.9h0M400.1,364.8h0M407.8,347.4h0M411.7,334.4h0M415.6,316.8h0M416.3,312.5h0M417.1,307.9h0M417.9,303h0M418.7,297.8h0M419.4,292.3h0M420.2,286.5h0M421,280.6h0M421.8,275.1h0M422.5,281.9h0M423.3,286.1h0M424.1,281.9h0M424.8,275.1h0M425.6,280.6h0M426.4,286.5h0M427.2,292.3h0M427.9,297.8h0M428.7,303h0M429.5,307.9h0M430.3,312.5h0M431,316.8h0M434.9,334.4h0M438.8,347.4h0M446.5,364.8h0M454.2,375.9h0M462,383.6h0M469.7,389.2h0M477.4,393.6h0M485.2,397h0M492.9,399.9h0M500.6,402.3h0M531.6,409.2h0" stroke="#8000FF" stroke-width="1.8" stroke-linecap="round"/>
<polyline points="315,409.2 346,404.2 353.7,402.5 361.4,400.5 369.2,398.1 376.9,395.2 384.6,391.4 392.4,386.3 400.1,378.8 407.8,366.5 411.7,356.7 415.6,341.7 416.3,337.6 417.1,333.1 417.9,327.9 418.7,322 419.4,315.1 420.2,307 421,297 421.8,293.5 422.5,299 423.3,302 424.1,299 424.8,293.5 425.6,297 426.4,307 427.2,315.1 427.9,322 428.7,327.9 429.5,333.1 430.3,337.6 431,341.7 434.9,356.7 438.8,366.5 446.5,378.8 454.2,386.3 462,391.4 469.7,395.2 477.4,398.1 485.2,400.5 492.9,402.5 500.6,404.2 531.6,409.2" fill="none" stroke="#800080" stroke-width="0.55" stroke-opacity="0.6"/>
<path d="M315,409.2h0M346,404.2h0M353.7,402.5h0M361.4,400.5h0M369.2,398.1h0M376.9,395.2h0M384.6,391.4h0M392.4,386.3h0M400.1,378.8h0M407.8,366.5h0M411.7,356.7h0M415.6,341.7h0M416.3,337.6h0M417.1,333.1h0M417.9,327.9h0M418.7,322h0M419.4,315.1h0M420.2,307h0M421,297h0M421.8,293.5h0M422.5,299h0M423.3,302h0M424.1,299h0M424.8,293.5h0M425.6,297h0M426.4,307h0M427.2,315.1h0M427.9,322h0M428.7,327.9h0M429.5,333.1h0M430.3,337.6h0M431,341.7h0M434.9,356.7h0M438.8,366.5h0M446.5,378.8h0M454.2,386.3h0M462,391.4h0M469.7,395.2h0M477.4,398.1h0M485.2,400.5h0M492.9,402.5h0M500.6,404.2h0M531.6,409.2h0" stroke="#800080" stroke-width="1.8" stroke-linecap="round"/>
<polyline points="315,409.2 346,406.1 353.7,405 361.4,403.8 369.2,402.3 376.9,400.5 384.6,398.1 392.4,395 400.1,390.4 407.8,383.3 411.7,377.9 415.6,370.2 416.3,368.3 417.1,366.1 417.9,363.8 418.7,361.3 419.4,358.5 420.2,355.5 421,352.2 421.8,355.3 422.5,358 423.3,359.6 424.1,358 424.8,355.3 425.6,352.2 426.4,355.5 427.2,358.5 427.9,361.3 428.7,363.8 429.5,366.1 430.3,368.3 431,370.2 434.9,377.9 438.8,383.3 446.5,390.4 454.2,395 462,398.1 469.7,400.5 477.4,402.3 485.2,403.8 492.9,405 500.6,406.1 531.6,409.2" fill="none" stroke="#800000" stroke-width="0.55" stroke-opacity="0.6"/>
<path d="M315,409.2h0M346,406.1h0M353.7,405h0M361.4,403.8h0M369.2,402.3h0M376.9,400.5h0M384.6,398.1h0M392.4,395h0M400.1,390.4h0M407.8,383.3h0M411.7,377.9h0M415.6,370.2h0M416.3,368.3h0M417.1,366.1h0M417.9,363.8h0M418.7,361.3h0M419.4,358.5h0M420.2,355.5h0M421,352.2h0M421.8,355.3h0M422.5,358h0M423.3,359.6h0M424.1,358h0M424.8,355.3h0M425.6,352.2h0M426.4,355.5h0M427.2,358.5h0M427.9,361.3h0M428.7,363.8h0M429.5,366.1h0M430.3,368.3h0M431,370.2h0M434.9,377.9h0M438.8,383.3h0M446.5,390.4h0M454.2,395h0M462,398.1h0M469.7,400.5h0M477.4,402.3h0M485.2,403.8h0M492.9,405h0M500.6,406.1h0M531.6,409.2h0" stroke="#800000" stroke-width="1.8" stroke-linecap="round"/>
<polyline points="315,409.2 346,406.2 353.7,405.2 361.4,403.9 369.2,402.5 376.9,400.7 384.6,398.4 392.4,395.4 400.1,391.2 407.8,385.1 411.7,380.9 415.6,375.5 416.3,374.2 417.1,372.9 417.9,371.6 418.7,370.2 419.4,368.8 420.2,367.3 421,366 421.8,370.8 422.5,374.8 423.3,377 424.1,374.8 424.8,370.8 425.6,366 426.4,367.3 427.2,368.8 427.9,370.2 428.7,371.6 429.5,372.9 430.3,374.2 431,375.5 434.9,380.9 438.8,385.1 446.5,391.2 454.2,395.4 462,398.4 469.7,400.7 477.4,402.5 485.2,403.9 492.9,405.2 500.6,406.2 531.6,409.2" fill="none" stroke="#808000" stroke-width="0.55" stroke-opacity="0.6"/>
<path d="M315,409.2h0M346,406.2h0M353.7,405.2h0M361.4,403.9h0M369.2,402.5h0M376.9,400.7h0M384.6,398.4h0M392.4,395.4h0M400.1,391.2h0M407.8,385.1h0M411.7,380.9h0M415.6,375.5h0M416.3,374.2h0M417.1,372.9h0M417.9,371.6h0M418.7,370.2h0M419.4,368.8h0M420.2,367.3h0M421,366h0M421.8,370.8h0M422.5,374.8h0M423.3,377h0M424.1,374.8h0M424.8,370.8h0M425.6,366h0M426.4,367.3h0M427.2,368.8h0M427.9,370.2h0M428.7,371.6h0M429.5,372.9h0M430.3,374.2h0M431,375.5h0M434.9,380.9h0M438.8,385.1h0M446.5,391.2h0M454.2,395.4h0M462,398.4h0M469.7,400.7h0M477.4,402.5h0M485.2,403.9h0M492.9,405.2h0M500.6,406.2h0M531.6,409.2h0" stroke="#808000" stroke-width="1.8" stroke-linecap="round"/>
</g></g>
<rect x="307.3" y="230.6" width="232" height="187" fill="none" stroke="#4a4a4a" stroke-width="1.25"/>
<text x="306.9" y="430.4" font-size="8.1" font-weight="bold" text-anchor="middle">−150</text>
<text x="326.2" y="430.4" font-size="8.1" font-weight="bold" text-anchor="middle">−125</text>
<text x="345.6" y="430.4" font-size="8.1" font-weight="bold" text-anchor="middle">−100</text>
<text x="364.9" y="430.4" font-size="8.1" font-weight="bold" text-anchor="middle">−75</text>
<text x="384.2" y="430.4" font-size="8.1" font-weight="bold" text-anchor="middle">−50</text>
<text x="403.6" y="430.4" font-size="8.1" font-weight="bold" text-anchor="middle">−25</text>
<text x="422.9" y="430.4" font-size="8.1" font-weight="bold" text-anchor="middle">0</text>
<text x="442.2" y="430.4" font-size="8.1" font-weight="bold" text-anchor="middle">25</text>
<text x="461.6" y="430.4" font-size="8.1" font-weight="bold" text-anchor="middle">50</text>
<text x="480.9" y="430.4" font-size="8.1" font-weight="bold" text-anchor="middle">75</text>
<text x="500.2" y="430.4" font-size="8.1" font-weight="bold" text-anchor="middle">100</text>
<text x="519.6" y="430.4" font-size="8.1" font-weight="bold" text-anchor="middle">125</text>
<text x="538.9" y="430.4" font-size="8.1" font-weight="bold" text-anchor="middle">150</text>
<text x="301.1" y="412.1" font-size="8.1" font-weight="bold" text-anchor="end">0</text>
<text x="301.1" y="392.2" font-size="8.1" font-weight="bold" text-anchor="end">5</text>
<text x="301.1" y="372.4" font-size="8.1" font-weight="bold" text-anchor="end">10</text>
<text x="301.1" y="352.5" font-size="8.1" font-weight="bold" text-anchor="end">15</text>
<text x="301.1" y="332.7" font-size="8.1" font-weight="bold" text-anchor="end">20</text>
<text x="301.1" y="312.8" font-size="8.1" font-weight="bold" text-anchor="end">25</text>
<text x="301.1" y="293" font-size="8.1" font-weight="bold" text-anchor="end">30</text>
<text x="301.1" y="273.1" font-size="8.1" font-weight="bold" text-anchor="end">35</text>
<text x="301.1" y="253.3" font-size="8.1" font-weight="bold" text-anchor="end">40</text>
<text x="301.1" y="233.4" font-size="8.1" font-weight="bold" text-anchor="end">45</text>
<path d="M307.3,417.6v3.6M326.6,417.6v3.6M346,417.6v3.6M365.3,417.6v3.6M384.6,417.6v3.6M404,417.6v3.6M423.3,417.6v3.6M442.6,417.6v3.6M462,417.6v3.6M481.3,417.6v3.6M500.6,417.6v3.6M520,417.6v3.6M539.3,417.6v3.6M317,417.6v2M336.3,417.6v2M355.6,417.6v2M375,417.6v2M394.3,417.6v2M413.6,417.6v2M433,417.6v2M452.3,417.6v2M471.6,417.6v2M491,417.6v2M510.3,417.6v2M529.6,417.6v2M307.3,409.2h-3.6M307.3,389.3h-3.6M307.3,369.5h-3.6M307.3,349.6h-3.6M307.3,329.8h-3.6M307.3,309.9h-3.6M307.3,290.1h-3.6M307.3,270.2h-3.6M307.3,250.4h-3.6M307.3,230.5h-3.6M307.3,399.3h-2M307.3,379.4h-2M307.3,359.6h-2M307.3,339.7h-2M307.3,319.9h-2M307.3,300h-2M307.3,280.2h-2M307.3,260.3h-2M307.3,240.5h-2" stroke="#4a4a4a" stroke-width="1" fill="none"/>
<text x="423.1" y="442.6" font-size="9.5" font-weight="bold" text-anchor="middle">H (Oe)</text>
<text x="286" y="324.1" font-size="9.6" font-weight="bold" text-anchor="middle" transform="rotate(-90 286 324.1)" dy="3.3">GMI ratio (%)</text>
<text y="242.9" font-size="14.5"><tspan x="318.59999999999997">(d)</tspan><tspan x="338.3">t</tspan><tspan x="341.7" dy="2.6" font-size="9.5">c</tspan><tspan x="349.40000000000003" dy="-2.6">=</tspan><tspan x="362.79999999999995">60</tspan><tspan x="380.59999999999997">nm</tspan></text>
<path d="M469.6,244.9h21.5" stroke="#000000" stroke-width="0.6" stroke-opacity="0.35"/>
<circle cx="480.6" cy="244.9" r="1" fill="#000000"/>
<text x="494.6" y="248.1" font-size="9.5" text-anchor="start">100 kHz</text>
<path d="M469.6,256.9h21.5" stroke="#FF0000" stroke-width="0.6" stroke-opacity="0.35"/>
<circle cx="480.6" cy="256.9" r="1" fill="#FF0000"/>
<text x="494.6" y="260.1" font-size="9.5" text-anchor="start">500 kHz</text>
<path d="M469.6,268.9h21.5" stroke="#0000FF" stroke-width="0.6" stroke-opacity="0.35"/>
<circle cx="480.6" cy="268.9" r="1" fill="#0000FF"/>
<text x="494.6" y="272.1" font-size="9.5" text-anchor="start">1 MHz</text>
<path d="M469.6,280.9h21.5" stroke="#FF00FF" stroke-width="0.6" stroke-opacity="0.35"/>
<circle cx="480.6" cy="280.9" r="1" fill="#FF00FF"/>
<text x="494.6" y="284.1" font-size="9.5" text-anchor="start">2 MHz</text>
<path d="M469.6,292.9h21.5" stroke="#008000" stroke-width="0.6" stroke-opacity="0.35"/>
<circle cx="480.6" cy="292.9" r="1" fill="#008000"/>
<text x="494.6" y="296.1" font-size="9.5" text-anchor="start">3 MHz</text>
<path d="M469.6,304.9h21.5" stroke="#000080" stroke-width="0.6" stroke-opacity="0.35"/>
<circle cx="480.6" cy="304.9" r="1" fill="#000080"/>
<text x="494.6" y="308.1" font-size="9.5" text-anchor="start">5 MHz</text>
<path d="M469.6,316.9h21.5" stroke="#8000FF" stroke-width="0.6" stroke-opacity="0.35"/>
<circle cx="480.6" cy="316.9" r="1" fill="#8000FF"/>
<text x="494.6" y="320.1" font-size="9.5" text-anchor="start">10 MHz</text>
<path d="M469.6,328.9h21.5" stroke="#800080" stroke-width="0.6" stroke-opacity="0.35"/>
<circle cx="480.6" cy="328.9" r="1" fill="#800080"/>
<text x="494.6" y="332.1" font-size="9.5" text-anchor="start">15 MHz</text>
<path d="M469.6,340.9h21.5" stroke="#800000" stroke-width="0.6" stroke-opacity="0.35"/>
<circle cx="480.6" cy="340.9" r="1" fill="#800000"/>
<text x="494.6" y="344.1" font-size="9.5" text-anchor="start">20 MHz</text>
<path d="M469.6,352.9h21.5" stroke="#808000" stroke-width="0.6" stroke-opacity="0.35"/>
<circle cx="480.6" cy="352.9" r="1" fill="#808000"/>
<text x="494.6" y="356.1" font-size="9.5" text-anchor="start">30 MHz</text>
<rect x="325.3" y="247.4" width="84" height="78.7" fill="#fff" stroke="#999" stroke-width="0.8"/>
<clipPath id="id"><rect x="325.3" y="247.4" width="84" height="78.7"/></clipPath>
<g clip-path="url(#id)"><g filter="url(#soft)">
<polyline points="303.4,315 324.6,313.7 335.2,312.6 345.8,311 347.9,310.5 350,310 352.2,309.4 354.3,308.7 356.4,307.8 358.5,306.7 360.6,305.2 362.8,303.1 364.9,299.7 367,294.1 369.1,299.7 371.2,303.1 373.4,305.2 375.5,306.7 377.6,307.8 379.7,308.7 381.8,309.4 384,310 386.1,310.5 388.2,311 398.8,312.6 409.4,313.7 430.6,315" fill="none" stroke="#000000" stroke-width="0.4" stroke-opacity="0.35"/>
<path d="M303.4,315h0M324.6,313.7h0M335.2,312.6h0M345.8,311h0M347.9,310.5h0M350,310h0M352.2,309.4h0M354.3,308.7h0M356.4,307.8h0M358.5,306.7h0M360.6,305.2h0M362.8,303.1h0M364.9,299.7h0M367,294.1h0M369.1,299.7h0M371.2,303.1h0M373.4,305.2h0M375.5,306.7h0M377.6,307.8h0M379.7,308.7h0M381.8,309.4h0M384,310h0M386.1,310.5h0M388.2,311h0M398.8,312.6h0M409.4,313.7h0M430.6,315h0" stroke="#000000" stroke-width="1.5" stroke-linecap="round"/>
<polyline points="303.4,309 324.6,305.3 335.2,302.5 345.8,298.2 347.9,297.1 350,295.8 352.2,294.3 354.3,292.7 356.4,290.8 358.5,288.5 360.6,285.8 362.8,282.4 364.9,281 367,282.3 369.1,281 371.2,282.4 373.4,285.8 375.5,288.5 377.6,290.8 379.7,292.7 381.8,294.3 384,295.8 386.1,297.1 388.2,298.2 398.8,302.5 409.4,305.3 430.6,309" fill="none" stroke="#FF0000" stroke-width="0.4" stroke-opacity="0.35"/>
<path d="M303.4,309h0M324.6,305.3h0M335.2,302.5h0M345.8,298.2h0M347.9,297.1h0M350,295.8h0M352.2,294.3h0M354.3,292.7h0M356.4,290.8h0M358.5,288.5h0M360.6,285.8h0M362.8,282.4h0M364.9,281h0M367,282.3h0M369.1,281h0M371.2,282.4h0M373.4,285.8h0M375.5,288.5h0M377.6,290.8h0M379.7,292.7h0M381.8,294.3h0M384,295.8h0M386.1,297.1h0M388.2,298.2h0M398.8,302.5h0M409.4,305.3h0M430.6,309h0" stroke="#FF0000" stroke-width="1.5" stroke-linecap="round"/>
<polyline points="303.4,305.6 324.6,299.7 335.2,294.8 345.8,287 347.9,284.9 350,282.5 352.2,279.8 354.3,276.8 356.4,273.3 358.5,269.3 360.6,264.7 362.8,259.7 364.9,262.5 367,264.2 369.1,262.5 371.2,259.7 373.4,264.7 375.5,269.3 377.6,273.3 379.7,276.8 381.8,279.8 384,282.5 386.1,284.9 388.2,287 398.8,294.8 409.4,299.7 430.6,305.6" fill="none" stroke="#0000FF" stroke-width="0.4" stroke-opacity="0.35"/>
<path d="M303.4,305.6h0M324.6,299.7h0M335.2,294.8h0M345.8,287h0M347.9,284.9h0M350,282.5h0M352.2,279.8h0M354.3,276.8h0M356.4,273.3h0M358.5,269.3h0M360.6,264.7h0M362.8,259.7h0M364.9,262.5h0M367,264.2h0M369.1,262.5h0M371.2,259.7h0M373.4,264.7h0M375.5,269.3h0M377.6,273.3h0M379.7,276.8h0M381.8,279.8h0M384,282.5h0M386.1,284.9h0M388.2,287h0M398.8,294.8h0M409.4,299.7h0M430.6,305.6h0" stroke="#0000FF" stroke-width="1.5" stroke-linecap="round"/>
<polyline points="303.4,302.1 324.6,295.1 335.2,289.4 345.8,280.9 347.9,278.7 350,276.2 352.2,273.5 354.3,270.4 356.4,267 358.5,263.1 360.6,258.8 362.8,254.3 364.9,258 367,260.2 369.1,258.8 371.2,256.6 373.4,261 375.5,265.1 377.6,268.8 379.7,272.1 381.8,275.1 384,277.8 386.1,280.1 388.2,282.3 398.8,290.5 409.4,295.9 430.6,302.7" fill="none" stroke="#FF00FF" stroke-width="0.4" stroke-opacity="0.35"/>
<path d="M303.4,302.1h0M324.6,295.1h0M335.2,289.4h0M345.8,280.9h0M347.9,278.7h0M350,276.2h0M352.2,273.5h0M354.3,270.4h0M356.4,267h0M358.5,263.1h0M360.6,258.8h0M362.8,254.3h0M364.9,258h0M367,260.2h0M369.1,258.8h0M371.2,256.6h0M373.4,261h0M375.5,265.1h0M377.6,268.8h0M379.7,272.1h0M381.8,275.1h0M384,277.8h0M386.1,280.1h0M388.2,282.3h0M398.8,290.5h0M409.4,295.9h0M430.6,302.7h0" stroke="#FF00FF" stroke-width="1.5" stroke-linecap="round"/>
<polyline points="303.4,304.5 324.6,298 335.2,292.7 345.8,284.6 347.9,282.4 350,280 352.2,277.4 354.3,274.4 356.4,271 358.5,267.3 360.6,263.1 362.8,258.9 364.9,261.7 367,263.4 369.1,261.7 371.2,258.9 373.4,263.1 375.5,267.3 377.6,271 379.7,274.4 381.8,277.4 384,280 386.1,282.4 388.2,284.6 398.8,292.7 409.4,298 430.6,304.5" fill="none" stroke="#008000" stroke-width="0.4" stroke-opacity="0.35"/>
<path d="M303.4,304.5h0M324.6,298h0M335.2,292.7h0M345.8,284.6h0M347.9,282.4h0M350,280h0M352.2,277.4h0M354.3,274.4h0M356.4,271h0M358.5,267.3h0M360.6,263.1h0M362.8,258.9h0M364.9,261.7h0M367,263.4h0M369.1,261.7h0M371.2,258.9h0M373.4,263.1h0M375.5,267.3h0M377.6,271h0M379.7,274.4h0M381.8,277.4h0M384,280h0M386.1,282.4h0M388.2,284.6h0M398.8,292.7h0M409.4,298h0M430.6,304.5h0" stroke="#008000" stroke-width="1.5" stroke-linecap="round"/>
<polyline points="303.4,302 324.6,294.8 335.2,289.3 345.8,281.4 347.9,279.4 350,277.3 352.2,275 354.3,272.6 356.4,270 358.5,267.3 360.6,264.5 362.8,262.1 364.9,264.9 367,266.5 369.1,264.9 371.2,262.1 373.4,264.5 375.5,267.3 377.6,270 379.7,272.6 381.8,275 384,277.3 386.1,279.4 388.2,281.4 398.8,289.3 409.4,294.8 430.6,302" fill="none" stroke="#000080" stroke-width="0.4" stroke-opacity="0.35"/>
<path d="M303.4,302h0M324.6,294.8h0M335.2,289.3h0M345.8,281.4h0M347.9,279.4h0M350,277.3h0M352.2,275h0M354.3,272.6h0M356.4,270h0M358.5,267.3h0M360.6,264.5h0M362.8,262.1h0M364.9,264.9h0M367,266.5h0M369.1,264.9h0M371.2,262.1h0M373.4,264.5h0M375.5,267.3h0M377.6,270h0M379.7,272.6h0M381.8,275h0M384,277.3h0M386.1,279.4h0M388.2,281.4h0M398.8,289.3h0M409.4,294.8h0M430.6,302h0" stroke="#000080" stroke-width="1.5" stroke-linecap="round"/>
<polyline points="303.4,300.9 324.6,294 335.2,288.8 345.8,281.8 347.9,280.1 350,278.3 352.2,276.4 354.3,274.3 356.4,272.1 358.5,269.8 360.6,267.5 362.8,265.3 364.9,268 367,269.7 369.1,268 371.2,265.3 373.4,267.5 375.5,269.8 377.6,272.1 379.7,274.3 381.8,276.4 384,278.3 386.1,280.1 388.2,281.8 398.8,288.8 409.4,294 430.6,300.9" fill="none" stroke="#8000FF" stroke-width="0.4" stroke-opacity="0.35"/>
<path d="M303.4,300.9h0M324.6,294h0M335.2,288.8h0M345.8,281.8h0M347.9,280.1h0M350,278.3h0M352.2,276.4h0M354.3,274.3h0M356.4,272.1h0M358.5,269.8h0M360.6,267.5h0M362.8,265.3h0M364.9,268h0M367,269.7h0M369.1,268h0M371.2,265.3h0M373.4,267.5h0M375.5,269.8h0M377.6,272.1h0M379.7,274.3h0M381.8,276.4h0M384,278.3h0M386.1,280.1h0M388.2,281.8h0M398.8,288.8h0M409.4,294h0M430.6,300.9h0" stroke="#8000FF" stroke-width="1.5" stroke-linecap="round"/>
<polyline points="303.4,306.4 324.6,301.6 335.2,297.7 345.8,291.7 347.9,290.1 350,288.3 352.2,286.2 354.3,283.9 356.4,281.2 358.5,277.9 360.6,274 362.8,272.6 364.9,274.8 367,276 369.1,274.8 371.2,272.6 373.4,274 375.5,277.9 377.6,281.2 379.7,283.9 381.8,286.2 384,288.3 386.1,290.1 388.2,291.7 398.8,297.7 409.4,301.6 430.6,306.4" fill="none" stroke="#800080" stroke-width="0.4" stroke-opacity="0.35"/>
<path d="M303.4,306.4h0M324.6,301.6h0M335.2,297.7h0M345.8,291.7h0M347.9,290.1h0M350,288.3h0M352.2,286.2h0M354.3,283.9h0M356.4,281.2h0M358.5,277.9h0M360.6,274h0M362.8,272.6h0M364.9,274.8h0M367,276h0M369.1,274.8h0M371.2,272.6h0M373.4,274h0M375.5,277.9h0M377.6,281.2h0M379.7,283.9h0M381.8,286.2h0M384,288.3h0M386.1,290.1h0M388.2,291.7h0M398.8,297.7h0M409.4,301.6h0M430.6,306.4h0" stroke="#800080" stroke-width="1.5" stroke-linecap="round"/>
<polyline points="303.4,311.1 324.6,308.2 335.2,306.1 345.8,303 347.9,302.3 350,301.4 352.2,300.5 354.3,299.5 356.4,298.4 358.5,297.2 360.6,295.9 362.8,297.1 364.9,298.2 367,298.8 369.1,298.2 371.2,297.1 373.4,295.9 375.5,297.2 377.6,298.4 379.7,299.5 381.8,300.5 384,301.4 386.1,302.3 388.2,303 398.8,306.1 409.4,308.2 430.6,311.1" fill="none" stroke="#800000" stroke-width="0.4" stroke-opacity="0.35"/>
<path d="M303.4,311.1h0M324.6,308.2h0M335.2,306.1h0M345.8,303h0M347.9,302.3h0M350,301.4h0M352.2,300.5h0M354.3,299.5h0M356.4,298.4h0M358.5,297.2h0M360.6,295.9h0M362.8,297.1h0M364.9,298.2h0M367,298.8h0M369.1,298.2h0M371.2,297.1h0M373.4,295.9h0M375.5,297.2h0M377.6,298.4h0M379.7,299.5h0M381.8,300.5h0M384,301.4h0M386.1,302.3h0M388.2,303h0M398.8,306.1h0M409.4,308.2h0M430.6,311.1h0" stroke="#800000" stroke-width="1.5" stroke-linecap="round"/>
<polyline points="303.4,311.4 324.6,308.9 335.2,307.3 345.8,305.1 347.9,304.6 350,304.1 352.2,303.6 354.3,303 356.4,302.5 358.5,301.9 360.6,301.4 362.8,303.3 364.9,304.9 367,305.7 369.1,304.9 371.2,303.3 373.4,301.4 375.5,301.9 377.6,302.5 379.7,303 381.8,303.6 384,304.1 386.1,304.6 388.2,305.1 398.8,307.3 409.4,308.9 430.6,311.4" fill="none" stroke="#808000" stroke-width="0.4" stroke-opacity="0.35"/>
<path d="M303.4,311.4h0M324.6,308.9h0M335.2,307.3h0M345.8,305.1h0M347.9,304.6h0M350,304.1h0M352.2,303.6h0M354.3,303h0M356.4,302.5h0M358.5,301.9h0M360.6,301.4h0M362.8,303.3h0M364.9,304.9h0M367,305.7h0M369.1,304.9h0M371.2,303.3h0M373.4,301.4h0M375.5,301.9h0M377.6,302.5h0M379.7,303h0M381.8,303.6h0M384,304.1h0M386.1,304.6h0M388.2,305.1h0M398.8,307.3h0M409.4,308.9h0M430.6,311.4h0" stroke="#808000" stroke-width="1.5" stroke-linecap="round"/>
</g></g>
<text x="324.1" y="332.6" font-size="5.2" font-weight="bold" text-anchor="middle">−20</text>
<text x="334.7" y="332.6" font-size="5.2" font-weight="bold" text-anchor="middle">−15</text>
<text x="345.3" y="332.6" font-size="5.2" font-weight="bold" text-anchor="middle">−10</text>
<text x="355.9" y="332.6" font-size="5.2" font-weight="bold" text-anchor="middle">−5</text>
<text x="366.5" y="332.6" font-size="5.2" font-weight="bold" text-anchor="middle">0</text>
<text x="377.1" y="332.6" font-size="5.2" font-weight="bold" text-anchor="middle">5</text>
<text x="387.7" y="332.6" font-size="5.2" font-weight="bold" text-anchor="middle">10</text>
<text x="398.3" y="332.6" font-size="5.2" font-weight="bold" text-anchor="middle">15</text>
<text x="408.9" y="332.6" font-size="5.2" font-weight="bold" text-anchor="middle">20</text>
<text x="323.3" y="320.3" font-size="5.2" font-weight="bold" text-anchor="end">0</text>
<text x="323.3" y="296.7" font-size="5.2" font-weight="bold" text-anchor="end">15</text>
<text x="323.3" y="273.1" font-size="5.2" font-weight="bold" text-anchor="end">30</text>
<text x="323.3" y="249.4" font-size="5.2" font-weight="bold" text-anchor="end">45</text>
<path d="M324.6,326.1v-1.5M335.2,326.1v-1.5M345.8,326.1v-1.5M356.4,326.1v-1.5M367,326.1v-1.5M377.6,326.1v-1.5M388.2,326.1v-1.5M398.8,326.1v-1.5M409.4,326.1v-1.5M325.3,318.5h1.5M325.3,294.9h1.5M325.3,271.2h1.5M325.3,247.6h1.5" stroke="#999" stroke-width="0.6" fill="none"/>
<text x="368.3" y="343.6" font-size="7.1" font-weight="bold" text-anchor="middle">H (Oe)</text>
<text x="313.4" y="286.8" font-size="7.1" font-weight="bold" text-anchor="middle" transform="rotate(-90 313.4 286.8)" dy="2.4">GMI ratio (%)</text>
<clipPath id="ce"><rect x="32.4" y="453.4" width="233.1" height="187.5"/></clipPath>
<g clip-path="url(#ce)"><g filter="url(#soft)">
<polyline points="40.2,632 71.2,630 79,629.3 86.8,628.5 94.6,627.6 102.3,626.4 110.1,624.8 117.9,622.6 125.6,619.4 133.4,614 137.3,609.4 141.2,602.1 142,600 142.7,597.7 143.5,595 144.3,591.9 145.1,588.1 145.8,583.6 146.6,578 147.4,570.9 148.2,561.3 148.9,558.3 149.7,561.3 150.5,570.9 151.3,578 152.1,583.6 152.8,588.1 153.6,591.9 154.4,595 155.2,597.7 155.9,600 156.7,602.1 160.6,609.4 164.5,614 172.3,619.4 180,622.6 187.8,624.8 195.6,626.4 203.3,627.6 211.1,628.5 218.9,629.3 226.7,630 257.7,632" fill="none" stroke="#000000" stroke-width="0.55" stroke-opacity="0.6"/>
<path d="M40.2,632h0M71.2,630h0M79,629.3h0M86.8,628.5h0M94.6,627.6h0M102.3,626.4h0M110.1,624.8h0M117.9,622.6h0M125.6,619.4h0M133.4,614h0M137.3,609.4h0M141.2,602.1h0M142,600h0M142.7,597.7h0M143.5,595h0M144.3,591.9h0M145.1,588.1h0M145.8,583.6h0M146.6,578h0M147.4,570.9h0M148.2,561.3h0M148.9,558.3h0M149.7,561.3h0M150.5,570.9h0M151.3,578h0M152.1,583.6h0M152.8,588.1h0M153.6,591.9h0M154.4,595h0M155.2,597.7h0M155.9,600h0M156.7,602.1h0M160.6,609.4h0M164.5,614h0M172.3,619.4h0M180,622.6h0M187.8,624.8h0M195.6,626.4h0M203.3,627.6h0M211.1,628.5h0M218.9,629.3h0M226.7,630h0M257.7,632h0" stroke="#000000" stroke-width="1.8" stroke-linecap="round"/>
<polyline points="40.2,632 71.2,631.6 79,631.5 86.8,631.4 94.6,631.2 102.3,631 110.1,630.7 117.9,630.3 125.6,629.6 133.4,628.5 137.3,627.4 141.2,625.6 142,625.1 142.7,624.5 143.5,623.8 144.3,622.9 145.1,621.8 145.8,620.5 146.6,618.7 147.4,616.3 148.2,612.8 148.9,609.7 149.7,612.8 150.5,616.3 151.3,618.7 152.1,620.5 152.8,621.8 153.6,622.9 154.4,623.8 155.2,624.5 155.9,625.1 156.7,625.6 160.6,627.4 164.5,628.5 172.3,629.6 180,630.3 187.8,630.7 195.6,631 203.3,631.2 211.1,631.4 218.9,631.5 226.7,631.6 257.7,632" fill="none" stroke="#FF0000" stroke-width="0.55" stroke-opacity="0.6"/>
<path d="M40.2,632h0M71.2,631.6h0M79,631.5h0M86.8,631.4h0M94.6,631.2h0M102.3,631h0M110.1,630.7h0M117.9,630.3h0M125.6,629.6h0M133.4,628.5h0M137.3,627.4h0M141.2,625.6h0M142,625.1h0M142.7,624.5h0M143.5,623.8h0M144.3,622.9h0M145.1,621.8h0M145.8,620.5h0M146.6,618.7h0M147.4,616.3h0M148.2,612.8h0M148.9,609.7h0M149.7,612.8h0M150.5,616.3h0M151.3,618.7h0M152.1,620.5h0M152.8,621.8h0M153.6,622.9h0M154.4,623.8h0M155.2,624.5h0M155.9,625.1h0M156.7,625.6h0M160.6,627.4h0M164.5,628.5h0M172.3,629.6h0M180,630.3h0M187.8,630.7h0M195.6,631h0M203.3,631.2h0M211.1,631.4h0M218.9,631.5h0M226.7,631.6h0M257.7,632h0" stroke="#FF0000" stroke-width="1.8" stroke-linecap="round"/>
<polyline points="40.2,632 71.2,625.9 79,623.9 86.8,621.7 94.6,619.1 102.3,616 110.1,612.2 117.9,607.3 125.6,600.5 133.4,589.9 137.3,581.6 141.2,568.9 142,565.3 142.7,561.3 143.5,556.5 144.3,550.9 145.1,544 145.8,535.2 146.6,523 147.4,503.5 148.2,492.4 148.9,507 149.7,492.4 150.5,503.5 151.3,523 152.1,535.2 152.8,544 153.6,550.9 154.4,556.5 155.2,561.3 155.9,565.3 156.7,568.9 160.6,581.6 164.5,589.9 172.3,600.5 180,607.3 187.8,612.2 195.6,616 203.3,619.1 211.1,621.7 218.9,623.9 226.7,625.9 257.7,632" fill="none" stroke="#0000FF" stroke-width="0.55" stroke-opacity="0.6"/>
<path d="M40.2,632h0M71.2,625.9h0M79,623.9h0M86.8,621.7h0M94.6,619.1h0M102.3,616h0M110.1,612.2h0M117.9,607.3h0M125.6,600.5h0M133.4,589.9h0M137.3,581.6h0M141.2,568.9h0M142,565.3h0M142.7,561.3h0M143.5,556.5h0M144.3,550.9h0M145.1,544h0M145.8,535.2h0M146.6,523h0M147.4,503.5h0M148.2,492.4h0M148.9,507h0M149.7,492.4h0M150.5,503.5h0M151.3,523h0M152.1,535.2h0M152.8,544h0M153.6,550.9h0M154.4,556.5h0M155.2,561.3h0M155.9,565.3h0M156.7,568.9h0M160.6,581.6h0M164.5,589.9h0M172.3,600.5h0M180,607.3h0M187.8,612.2h0M195.6,616h0M203.3,619.1h0M211.1,621.7h0M218.9,623.9h0M226.7,625.9h0M257.7,632h0" stroke="#0000FF" stroke-width="1.8" stroke-linecap="round"/>
<polyline points="40.2,632 71.2,621.6 79,618.3 86.8,614.7 94.6,610.4 102.3,605.5 110.1,599.6 117.9,592.3 125.6,582.7 133.4,569 137.3,559.3 141.2,546.2 142,542.8 142.7,539.2 143.5,535.2 144.3,530.7 145.1,525.5 145.8,519.4 146.6,511.9 147.4,500 148.2,506.7 148.9,511.4 149.7,506.7 150.5,500 151.3,511.9 152.1,519.4 152.8,525.5 153.6,530.7 154.4,535.2 155.2,539.2 155.9,542.8 156.7,546.2 160.6,559.3 164.5,569 172.3,582.7 180,592.3 187.8,599.6 195.6,605.5 203.3,610.4 211.1,614.7 218.9,618.3 226.7,621.6 257.7,632" fill="none" stroke="#FF00FF" stroke-width="0.55" stroke-opacity="0.6"/>
<path d="M40.2,632h0M71.2,621.6h0M79,618.3h0M86.8,614.7h0M94.6,610.4h0M102.3,605.5h0M110.1,599.6h0M117.9,592.3h0M125.6,582.7h0M133.4,569h0M137.3,559.3h0M141.2,546.2h0M142,542.8h0M142.7,539.2h0M143.5,535.2h0M144.3,530.7h0M145.1,525.5h0M145.8,519.4h0M146.6,511.9h0M147.4,500h0M148.2,506.7h0M148.9,511.4h0M149.7,506.7h0M150.5,500h0M151.3,511.9h0M152.1,519.4h0M152.8,525.5h0M153.6,530.7h0M154.4,535.2h0M155.2,539.2h0M155.9,542.8h0M156.7,546.2h0M160.6,559.3h0M164.5,569h0M172.3,582.7h0M180,592.3h0M187.8,599.6h0M195.6,605.5h0M203.3,610.4h0M211.1,614.7h0M218.9,618.3h0M226.7,621.6h0M257.7,632h0" stroke="#FF00FF" stroke-width="1.8" stroke-linecap="round"/>
<polyline points="40.2,632 71.2,620.2 79,616.4 86.8,612.2 94.6,607.4 102.3,601.7 110.1,594.9 117.9,586.4 125.6,575.1 133.4,559 137.3,547.6 141.2,531.7 142,527.7 142.7,523.3 143.5,518.4 144.3,512.9 145.1,506.5 145.8,499 146.6,489.7 147.4,474.8 148.2,477.5 148.9,480.2 149.7,477.8 150.5,475.7 151.3,490.5 152.1,499.8 152.8,507.2 153.6,513.5 154.4,519 155.2,523.9 155.9,528.3 156.7,532.3 160.6,548 164.5,559.4 172.3,575.5 180,586.6 187.8,595.1 195.6,601.9 203.3,607.5 211.1,612.3 218.9,616.5 226.7,620.2 257.7,632" fill="none" stroke="#008000" stroke-width="0.55" stroke-opacity="0.6"/>
<path d="M40.2,632h0M71.2,620.2h0M79,616.4h0M86.8,612.2h0M94.6,607.4h0M102.3,601.7h0M110.1,594.9h0M117.9,586.4h0M125.6,575.1h0M133.4,559h0M137.3,547.6h0M141.2,531.7h0M142,527.7h0M142.7,523.3h0M143.5,518.4h0M144.3,512.9h0M145.1,506.5h0M145.8,499h0M146.6,489.7h0M147.4,474.8h0M148.2,477.5h0M148.9,480.2h0M149.7,477.8h0M150.5,475.7h0M151.3,490.5h0M152.1,499.8h0M152.8,507.2h0M153.6,513.5h0M154.4,519h0M155.2,523.9h0M155.9,528.3h0M156.7,532.3h0M160.6,548h0M164.5,559.4h0M172.3,575.5h0M180,586.6h0M187.8,595.1h0M195.6,601.9h0M203.3,607.5h0M211.1,612.3h0M218.9,616.5h0M226.7,620.2h0M257.7,632h0" stroke="#008000" stroke-width="1.8" stroke-linecap="round"/>
<polyline points="40.2,632 71.2,620.4 79,616.7 86.8,612.6 94.6,607.8 102.3,602.3 110.1,595.6 117.9,587.3 125.6,576.3 133.4,560.4 137.3,549.2 141.2,533.7 142,529.8 142.7,525.4 143.5,520.6 144.3,515.2 145.1,509 145.8,501.6 146.6,492.5 147.4,477.9 148.2,480.1 148.9,482.4 149.7,480.1 150.5,477.9 151.3,492.5 152.1,501.6 152.8,509 153.6,515.2 154.4,520.6 155.2,525.4 155.9,529.8 156.7,533.7 160.6,549.2 164.5,560.4 172.3,576.3 180,587.3 187.8,595.6 195.6,602.3 203.3,607.8 211.1,612.6 218.9,616.7 226.7,620.4 257.7,632" fill="none" stroke="#000080" stroke-width="0.55" stroke-opacity="0.6"/>
<path d="M40.2,632h0M71.2,620.4h0M79,616.7h0M86.8,612.6h0M94.6,607.8h0M102.3,602.3h0M110.1,595.6h0M117.9,587.3h0M125.6,576.3h0M133.4,560.4h0M137.3,549.2h0M141.2,533.7h0M142,529.8h0M142.7,525.4h0M143.5,520.6h0M144.3,515.2h0M145.1,509h0M145.8,501.6h0M146.6,492.5h0M147.4,477.9h0M148.2,480.1h0M148.9,482.4h0M149.7,480.1h0M150.5,477.9h0M151.3,492.5h0M152.1,501.6h0M152.8,509h0M153.6,515.2h0M154.4,520.6h0M155.2,525.4h0M155.9,529.8h0M156.7,533.7h0M160.6,549.2h0M164.5,560.4h0M172.3,576.3h0M180,587.3h0M187.8,595.6h0M195.6,602.3h0M203.3,607.8h0M211.1,612.6h0M218.9,616.7h0M226.7,620.4h0M257.7,632h0" stroke="#000080" stroke-width="1.8" stroke-linecap="round"/>
<polyline points="40.2,632 71.2,624.2 79,621.6 86.8,618.6 94.6,615 102.3,610.7 110.1,605.2 117.9,598.1 125.6,588.3 133.4,573.6 137.3,563 141.2,548.5 142,545 142.7,541.1 143.5,537 144.3,532.4 145.1,527.5 145.8,522.1 146.6,516 147.4,515.3 148.2,521.5 148.9,524.8 149.7,521.5 150.5,515.3 151.3,516 152.1,522.1 152.8,527.5 153.6,532.4 154.4,537 155.2,541.1 155.9,545 156.7,548.5 160.6,563 164.5,573.6 172.3,588.3 180,598.1 187.8,605.2 195.6,610.7 203.3,615 211.1,618.6 218.9,621.6 226.7,624.2 257.7,632" fill="none" stroke="#8000FF" stroke-width="0.55" stroke-opacity="0.6"/>
<path d="M40.2,632h0M71.2,624.2h0M79,621.6h0M86.8,618.6h0M94.6,615h0M102.3,610.7h0M110.1,605.2h0M117.9,598.1h0M125.6,588.3h0M133.4,573.6h0M137.3,563h0M141.2,548.5h0M142,545h0M142.7,541.1h0M143.5,537h0M144.3,532.4h0M145.1,527.5h0M145.8,522.1h0M146.6,516h0M147.4,515.3h0M148.2,521.5h0M148.9,524.8h0M149.7,521.5h0M150.5,515.3h0M151.3,516h0M152.1,522.1h0M152.8,527.5h0M153.6,532.4h0M154.4,537h0M155.2,541.1h0M155.9,545h0M156.7,548.5h0M160.6,563h0M164.5,573.6h0M172.3,588.3h0M180,598.1h0M187.8,605.2h0M195.6,610.7h0M203.3,615h0M211.1,618.6h0M218.9,621.6h0M226.7,624.2h0M257.7,632h0" stroke="#8000FF" stroke-width="1.8" stroke-linecap="round"/>
<polyline points="40.2,632 71.2,624.9 79,622.4 86.8,619.4 94.6,615.7 102.3,611.2 110.1,605.6 117.9,598.2 125.6,588.5 133.4,575.6 137.3,567.8 141.2,559.5 142,557.9 142.7,556.3 143.5,554.7 144.3,553.3 145.1,552 145.8,551.1 146.6,553.6 147.4,556.8 148.2,559.2 148.9,560.6 149.7,559.2 150.5,556.8 151.3,553.6 152.1,551.1 152.8,552 153.6,553.3 154.4,554.7 155.2,556.3 155.9,557.9 156.7,559.5 160.6,567.8 164.5,575.6 172.3,588.5 180,598.2 187.8,605.6 195.6,611.2 203.3,615.7 211.1,619.4 218.9,622.4 226.7,624.9 257.7,632" fill="none" stroke="#800080" stroke-width="0.55" stroke-opacity="0.6"/>
<path d="M40.2,632h0M71.2,624.9h0M79,622.4h0M86.8,619.4h0M94.6,615.7h0M102.3,611.2h0M110.1,605.6h0M117.9,598.2h0M125.6,588.5h0M133.4,575.6h0M137.3,567.8h0M141.2,559.5h0M142,557.9h0M142.7,556.3h0M143.5,554.7h0M144.3,553.3h0M145.1,552h0M145.8,551.1h0M146.6,553.6h0M147.4,556.8h0M148.2,559.2h0M148.9,560.6h0M149.7,559.2h0M150.5,556.8h0M151.3,553.6h0M152.1,551.1h0M152.8,552h0M153.6,553.3h0M154.4,554.7h0M155.2,556.3h0M155.9,557.9h0M156.7,559.5h0M160.6,567.8h0M164.5,575.6h0M172.3,588.5h0M180,598.2h0M187.8,605.6h0M195.6,611.2h0M203.3,615.7h0M211.1,619.4h0M218.9,622.4h0M226.7,624.9h0M257.7,632h0" stroke="#800080" stroke-width="1.8" stroke-linecap="round"/>
<polyline points="40.2,632 71.2,626.7 79,624.7 86.8,622.2 94.6,618.9 102.3,614.7 110.1,609.1 117.9,601.6 125.6,591.6 133.4,579.1 137.3,572.7 141.2,567.3 142,566.5 142.7,565.9 143.5,565.3 144.3,565.1 145.1,567.6 145.8,570.6 146.6,573.4 147.4,575.7 148.2,577.4 148.9,578.4 149.7,577.4 150.5,575.7 151.3,573.4 152.1,570.6 152.8,567.6 153.6,565.1 154.4,565.3 155.2,565.9 155.9,566.5 156.7,567.3 160.6,572.7 164.5,579.1 172.3,591.6 180,601.6 187.8,609.1 195.6,614.7 203.3,618.9 211.1,622.2 218.9,624.7 226.7,626.7 257.7,632" fill="none" stroke="#800000" stroke-width="0.55" stroke-opacity="0.6"/>
<path d="M40.2,632h0M71.2,626.7h0M79,624.7h0M86.8,622.2h0M94.6,618.9h0M102.3,614.7h0M110.1,609.1h0M117.9,601.6h0M125.6,591.6h0M133.4,579.1h0M137.3,572.7h0M141.2,567.3h0M142,566.5h0M142.7,565.9h0M143.5,565.3h0M144.3,565.1h0M145.1,567.6h0M145.8,570.6h0M146.6,573.4h0M147.4,575.7h0M148.2,577.4h0M148.9,578.4h0M149.7,577.4h0M150.5,575.7h0M151.3,573.4h0M152.1,570.6h0M152.8,567.6h0M153.6,565.1h0M154.4,565.3h0M155.2,565.9h0M155.9,566.5h0M156.7,567.3h0M160.6,572.7h0M164.5,579.1h0M172.3,591.6h0M180,601.6h0M187.8,609.1h0M195.6,614.7h0M203.3,618.9h0M211.1,622.2h0M218.9,624.7h0M226.7,626.7h0M257.7,632h0" stroke="#800000" stroke-width="1.8" stroke-linecap="round"/>
<polyline points="40.2,632 71.2,628.1 79,626.6 86.8,624.8 94.6,622.4 102.3,619.3 110.1,615.2 117.9,609.6 125.6,602.2 133.4,593 137.3,588.3 141.2,584.4 142,583.8 142.7,583.3 143.5,582.9 144.3,582.7 145.1,585.9 145.8,589.5 146.6,592.7 147.4,595.3 148.2,597.4 148.9,598.5 149.7,597.4 150.5,595.3 151.3,592.7 152.1,589.5 152.8,585.9 153.6,582.7 154.4,582.9 155.2,583.3 155.9,583.8 156.7,584.4 160.6,588.3 164.5,593 172.3,602.2 180,609.6 187.8,615.2 195.6,619.3 203.3,622.4 211.1,624.8 218.9,626.6 226.7,628.1 257.7,632" fill="none" stroke="#808000" stroke-width="0.55" stroke-opacity="0.6"/>
<path d="M40.2,632h0M71.2,628.1h0M79,626.6h0M86.8,624.8h0M94.6,622.4h0M102.3,619.3h0M110.1,615.2h0M117.9,609.6h0M125.6,602.2h0M133.4,593h0M137.3,588.3h0M141.2,584.4h0M142,583.8h0M142.7,583.3h0M143.5,582.9h0M144.3,582.7h0M145.1,585.9h0M145.8,589.5h0M146.6,592.7h0M147.4,595.3h0M148.2,597.4h0M148.9,598.5h0M149.7,597.4h0M150.5,595.3h0M151.3,592.7h0M152.1,589.5h0M152.8,585.9h0M153.6,582.7h0M154.4,582.9h0M155.2,583.3h0M155.9,583.8h0M156.7,584.4h0M160.6,588.3h0M164.5,593h0M172.3,602.2h0M180,609.6h0M187.8,615.2h0M195.6,619.3h0M203.3,622.4h0M211.1,624.8h0M218.9,626.6h0M226.7,628.1h0M257.7,632h0" stroke="#808000" stroke-width="1.8" stroke-linecap="round"/>
</g></g>
<rect x="32.4" y="453.4" width="233.1" height="187.5" fill="none" stroke="#4a4a4a" stroke-width="1.25"/>
<text x="32" y="653.7" font-size="8.1" font-weight="bold" text-anchor="middle">−150</text>
<text x="51.4" y="653.7" font-size="8.1" font-weight="bold" text-anchor="middle">−125</text>
<text x="70.8" y="653.7" font-size="8.1" font-weight="bold" text-anchor="middle">−100</text>
<text x="90.3" y="653.7" font-size="8.1" font-weight="bold" text-anchor="middle">−75</text>
<text x="109.7" y="653.7" font-size="8.1" font-weight="bold" text-anchor="middle">−50</text>
<text x="129.1" y="653.7" font-size="8.1" font-weight="bold" text-anchor="middle">−25</text>
<text x="148.5" y="653.7" font-size="8.1" font-weight="bold" text-anchor="middle">0</text>
<text x="168" y="653.7" font-size="8.1" font-weight="bold" text-anchor="middle">25</text>
<text x="187.4" y="653.7" font-size="8.1" font-weight="bold" text-anchor="middle">50</text>
<text x="206.8" y="653.7" font-size="8.1" font-weight="bold" text-anchor="middle">75</text>
<text x="226.2" y="653.7" font-size="8.1" font-weight="bold" text-anchor="middle">100</text>
<text x="245.7" y="653.7" font-size="8.1" font-weight="bold" text-anchor="middle">125</text>
<text x="265.1" y="653.7" font-size="8.1" font-weight="bold" text-anchor="middle">150</text>
<text x="26.2" y="634.9" font-size="8.1" font-weight="bold" text-anchor="end">0</text>
<text x="26.2" y="612.6" font-size="8.1" font-weight="bold" text-anchor="end">5</text>
<text x="26.2" y="590.2" font-size="8.1" font-weight="bold" text-anchor="end">10</text>
<text x="26.2" y="567.9" font-size="8.1" font-weight="bold" text-anchor="end">15</text>
<text x="26.2" y="545.6" font-size="8.1" font-weight="bold" text-anchor="end">20</text>
<text x="26.2" y="523.3" font-size="8.1" font-weight="bold" text-anchor="end">25</text>
<text x="26.2" y="500.9" font-size="8.1" font-weight="bold" text-anchor="end">30</text>
<text x="26.2" y="478.6" font-size="8.1" font-weight="bold" text-anchor="end">35</text>
<text x="26.2" y="456.3" font-size="8.1" font-weight="bold" text-anchor="end">40</text>
<path d="M32.4,640.9v3.6M51.8,640.9v3.6M71.2,640.9v3.6M90.7,640.9v3.6M110.1,640.9v3.6M129.5,640.9v3.6M148.9,640.9v3.6M168.4,640.9v3.6M187.8,640.9v3.6M207.2,640.9v3.6M226.7,640.9v3.6M246.1,640.9v3.6M265.5,640.9v3.6M42.1,640.9v2M61.5,640.9v2M81,640.9v2M100.4,640.9v2M119.8,640.9v2M139.2,640.9v2M158.7,640.9v2M178.1,640.9v2M197.5,640.9v2M216.9,640.9v2M236.4,640.9v2M255.8,640.9v2M32.4,632h-3.6M32.4,609.7h-3.6M32.4,587.4h-3.6M32.4,565h-3.6M32.4,542.7h-3.6M32.4,520.4h-3.6M32.4,498.1h-3.6M32.4,475.7h-3.6M32.4,453.4h-3.6M32.4,620.8h-2M32.4,598.5h-2M32.4,576.2h-2M32.4,553.9h-2M32.4,531.5h-2M32.4,509.2h-2M32.4,486.9h-2M32.4,464.6h-2" stroke="#4a4a4a" stroke-width="1" fill="none"/>
<text x="150.3" y="664.9" font-size="9.5" font-weight="bold" text-anchor="middle">H (Oe)</text>
<text x="11.1" y="552.8" font-size="9.6" font-weight="bold" text-anchor="middle" transform="rotate(-90 11.1 552.8)" dy="3.3">GMI ratio (%)</text>
<text y="465.6" font-size="14.5"><tspan x="47.0">(e)</tspan><tspan x="66.5">t</tspan><tspan x="70.7" dy="2.6" font-size="9.5">c</tspan><tspan x="77.69999999999999" dy="-2.6">=</tspan><tspan x="90.30000000000001">90</tspan><tspan x="108.4">nm</tspan></text>
<path d="M202.2,469.9h21.5" stroke="#000000" stroke-width="0.6" stroke-opacity="0.35"/>
<circle cx="213.2" cy="469.9" r="1" fill="#000000"/>
<text x="227.2" y="473.1" font-size="9.5" text-anchor="start">100 kHz</text>
<path d="M202.2,481.8h21.5" stroke="#FF0000" stroke-width="0.6" stroke-opacity="0.35"/>
<circle cx="213.2" cy="481.8" r="1" fill="#FF0000"/>
<text x="227.2" y="485" font-size="9.5" text-anchor="start">500 kHz</text>
<path d="M202.2,493.7h21.5" stroke="#0000FF" stroke-width="0.6" stroke-opacity="0.35"/>
<circle cx="213.2" cy="493.7" r="1" fill="#0000FF"/>
<text x="227.2" y="496.9" font-size="9.5" text-anchor="start">1 MHz</text>
<path d="M202.2,505.6h21.5" stroke="#FF00FF" stroke-width="0.6" stroke-opacity="0.35"/>
<circle cx="213.2" cy="505.6" r="1" fill="#FF00FF"/>
<text x="227.2" y="508.8" font-size="9.5" text-anchor="start">2 MHz</text>
<path d="M202.2,517.5h21.5" stroke="#008000" stroke-width="0.6" stroke-opacity="0.35"/>
<circle cx="213.2" cy="517.5" r="1" fill="#008000"/>
<text x="227.2" y="520.7" font-size="9.5" text-anchor="start">3 MHz</text>
<path d="M202.2,529.4h21.5" stroke="#000080" stroke-width="0.6" stroke-opacity="0.35"/>
<circle cx="213.2" cy="529.4" r="1" fill="#000080"/>
<text x="227.2" y="532.6" font-size="9.5" text-anchor="start">5 MHz</text>
<path d="M202.2,541.3h21.5" stroke="#8000FF" stroke-width="0.6" stroke-opacity="0.35"/>
<circle cx="213.2" cy="541.3" r="1" fill="#8000FF"/>
<text x="227.2" y="544.5" font-size="9.5" text-anchor="start">10 MHz</text>
<path d="M202.2,553.2h21.5" stroke="#800080" stroke-width="0.6" stroke-opacity="0.35"/>
<circle cx="213.2" cy="553.2" r="1" fill="#800080"/>
<text x="227.2" y="556.4" font-size="9.5" text-anchor="start">15 MHz</text>
<path d="M202.2,565.1h21.5" stroke="#800000" stroke-width="0.6" stroke-opacity="0.35"/>
<circle cx="213.2" cy="565.1" r="1" fill="#800000"/>
<text x="227.2" y="568.3" font-size="9.5" text-anchor="start">20 MHz</text>
<path d="M202.2,577h21.5" stroke="#808000" stroke-width="0.6" stroke-opacity="0.35"/>
<circle cx="213.2" cy="577" r="1" fill="#808000"/>
<text x="227.2" y="580.2" font-size="9.5" text-anchor="start">30 MHz</text>
<rect x="53" y="471.4" width="81" height="70.9" fill="#fff" stroke="#999" stroke-width="0.8"/>
<clipPath id="ie"><rect x="53" y="471.4" width="81" height="70.9"/></clipPath>
<g clip-path="url(#ie)"><g filter="url(#soft)">
<polyline points="32.6,529.7 52.9,527.8 63.1,526.2 73.2,523.7 75.2,523 77.3,522.2 79.3,521.3 81.3,520.2 83.3,518.9 85.4,517.4 87.4,515.4 89.4,513 91.5,509.7 93.5,508.7 95.5,509.7 97.6,513 99.6,515.4 101.6,517.4 103.7,518.9 105.7,520.2 107.7,521.3 109.7,522.2 111.8,523 113.8,523.7 123.9,526.2 134.1,527.8 154.4,529.7" fill="none" stroke="#000000" stroke-width="0.4" stroke-opacity="0.35"/>
<path d="M32.6,529.7h0M52.9,527.8h0M63.1,526.2h0M73.2,523.7h0M75.2,523h0M77.3,522.2h0M79.3,521.3h0M81.3,520.2h0M83.3,518.9h0M85.4,517.4h0M87.4,515.4h0M89.4,513h0M91.5,509.7h0M93.5,508.7h0M95.5,509.7h0M97.6,513h0M99.6,515.4h0M101.6,517.4h0M103.7,518.9h0M105.7,520.2h0M107.7,521.3h0M109.7,522.2h0M111.8,523h0M113.8,523.7h0M123.9,526.2h0M134.1,527.8h0M154.4,529.7h0" stroke="#000000" stroke-width="1.5" stroke-linecap="round"/>
<polyline points="32.6,533.2 52.9,532.8 63.1,532.4 73.2,531.8 75.2,531.6 77.3,531.4 79.3,531.2 81.3,530.9 83.3,530.5 85.4,530 87.4,529.4 89.4,528.6 91.5,527.4 93.5,526.3 95.5,527.4 97.6,528.6 99.6,529.4 101.6,530 103.7,530.5 105.7,530.9 107.7,531.2 109.7,531.4 111.8,531.6 113.8,531.8 123.9,532.4 134.1,532.8 154.4,533.2" fill="none" stroke="#FF0000" stroke-width="0.4" stroke-opacity="0.35"/>
<path d="M32.6,533.2h0M52.9,532.8h0M63.1,532.4h0M73.2,531.8h0M75.2,531.6h0M77.3,531.4h0M79.3,531.2h0M81.3,530.9h0M83.3,530.5h0M85.4,530h0M87.4,529.4h0M89.4,528.6h0M91.5,527.4h0M93.5,526.3h0M95.5,527.4h0M97.6,528.6h0M99.6,529.4h0M101.6,530h0M103.7,530.5h0M105.7,530.9h0M107.7,531.2h0M109.7,531.4h0M111.8,531.6h0M113.8,531.8h0M123.9,532.4h0M134.1,532.8h0M154.4,533.2h0" stroke="#FF0000" stroke-width="1.5" stroke-linecap="round"/>
<polyline points="32.6,523.2 52.9,519.5 63.1,516.7 73.2,512.3 75.2,511.1 77.3,509.7 79.3,508.1 81.3,506.1 83.3,503.7 85.4,500.7 87.4,496.5 89.4,489.8 91.5,486 93.5,491 95.5,486 97.6,489.8 99.6,496.5 101.6,500.7 103.7,503.7 105.7,506.1 107.7,508.1 109.7,509.7 111.8,511.1 113.8,512.3 123.9,516.7 134.1,519.5 154.4,523.2" fill="none" stroke="#0000FF" stroke-width="0.4" stroke-opacity="0.35"/>
<path d="M32.6,523.2h0M52.9,519.5h0M63.1,516.7h0M73.2,512.3h0M75.2,511.1h0M77.3,509.7h0M79.3,508.1h0M81.3,506.1h0M83.3,503.7h0M85.4,500.7h0M87.4,496.5h0M89.4,489.8h0M91.5,486h0M93.5,491h0M95.5,486h0M97.6,489.8h0M99.6,496.5h0M101.6,500.7h0M103.7,503.7h0M105.7,506.1h0M107.7,508.1h0M109.7,509.7h0M111.8,511.1h0M113.8,512.3h0M123.9,516.7h0M134.1,519.5h0M154.4,523.2h0" stroke="#0000FF" stroke-width="1.5" stroke-linecap="round"/>
<polyline points="32.6,517 52.9,512.3 63.1,509 73.2,504.5 75.2,503.3 77.3,502.1 79.3,500.7 81.3,499.2 83.3,497.4 85.4,495.3 87.4,492.7 89.4,488.6 91.5,490.9 93.5,492.6 95.5,490.9 97.6,488.6 99.6,492.7 101.6,495.3 103.7,497.4 105.7,499.2 107.7,500.7 109.7,502.1 111.8,503.3 113.8,504.5 123.9,509 134.1,512.3 154.4,517" fill="none" stroke="#FF00FF" stroke-width="0.4" stroke-opacity="0.35"/>
<path d="M32.6,517h0M52.9,512.3h0M63.1,509h0M73.2,504.5h0M75.2,503.3h0M77.3,502.1h0M79.3,500.7h0M81.3,499.2h0M83.3,497.4h0M85.4,495.3h0M87.4,492.7h0M89.4,488.6h0M91.5,490.9h0M93.5,492.6h0M95.5,490.9h0M97.6,488.6h0M99.6,492.7h0M101.6,495.3h0M103.7,497.4h0M105.7,499.2h0M107.7,500.7h0M109.7,502.1h0M111.8,503.3h0M113.8,504.5h0M123.9,509h0M134.1,512.3h0M154.4,517h0" stroke="#FF00FF" stroke-width="1.5" stroke-linecap="round"/>
<polyline points="32.6,514.5 52.9,508.9 63.1,505 73.2,499.5 75.2,498.1 77.3,496.6 79.3,494.9 81.3,493 83.3,490.9 85.4,488.3 87.4,485.1 89.4,480 91.5,480.9 93.5,481.8 95.5,481 97.6,480.3 99.6,485.3 101.6,488.5 103.7,491.1 105.7,493.3 107.7,495.2 109.7,496.8 111.8,498.3 113.8,499.7 123.9,505.1 134.1,509 154.4,514.6" fill="none" stroke="#008000" stroke-width="0.4" stroke-opacity="0.35"/>
<path d="M32.6,514.5h0M52.9,508.9h0M63.1,505h0M73.2,499.5h0M75.2,498.1h0M77.3,496.6h0M79.3,494.9h0M81.3,493h0M83.3,490.9h0M85.4,488.3h0M87.4,485.1h0M89.4,480h0M91.5,480.9h0M93.5,481.8h0M95.5,481h0M97.6,480.3h0M99.6,485.3h0M101.6,488.5h0M103.7,491.1h0M105.7,493.3h0M107.7,495.2h0M109.7,496.8h0M111.8,498.3h0M113.8,499.7h0M123.9,505.1h0M134.1,509h0M154.4,514.6h0" stroke="#008000" stroke-width="1.5" stroke-linecap="round"/>
<polyline points="32.6,514.8 52.9,509.4 63.1,505.5 73.2,500.2 75.2,498.8 77.3,497.4 79.3,495.7 81.3,493.8 83.3,491.7 85.4,489.2 87.4,486 89.4,481 91.5,481.8 93.5,482.6 95.5,481.8 97.6,481 99.6,486 101.6,489.2 103.7,491.7 105.7,493.8 107.7,495.7 109.7,497.4 111.8,498.8 113.8,500.2 123.9,505.5 134.1,509.4 154.4,514.8" fill="none" stroke="#000080" stroke-width="0.4" stroke-opacity="0.35"/>
<path d="M32.6,514.8h0M52.9,509.4h0M63.1,505.5h0M73.2,500.2h0M75.2,498.8h0M77.3,497.4h0M79.3,495.7h0M81.3,493.8h0M83.3,491.7h0M85.4,489.2h0M87.4,486h0M89.4,481h0M91.5,481.8h0M93.5,482.6h0M95.5,481.8h0M97.6,481h0M99.6,486h0M101.6,489.2h0M103.7,491.7h0M105.7,493.8h0M107.7,495.7h0M109.7,497.4h0M111.8,498.8h0M113.8,500.2h0M123.9,505.5h0M134.1,509.4h0M154.4,514.8h0" stroke="#000080" stroke-width="1.5" stroke-linecap="round"/>
<polyline points="32.6,519 52.9,513.9 63.1,510.3 73.2,505.3 75.2,504.1 77.3,502.8 79.3,501.3 81.3,499.8 83.3,498.1 85.4,496.2 87.4,494.1 89.4,493.9 91.5,496 93.5,497.2 95.5,496 97.6,493.9 99.6,494.1 101.6,496.2 103.7,498.1 105.7,499.8 107.7,501.3 109.7,502.8 111.8,504.1 113.8,505.3 123.9,510.3 134.1,513.9 154.4,519" fill="none" stroke="#8000FF" stroke-width="0.4" stroke-opacity="0.35"/>
<path d="M32.6,519h0M52.9,513.9h0M63.1,510.3h0M73.2,505.3h0M75.2,504.1h0M77.3,502.8h0M79.3,501.3h0M81.3,499.8h0M83.3,498.1h0M85.4,496.2h0M87.4,494.1h0M89.4,493.9h0M91.5,496h0M93.5,497.2h0M95.5,496h0M97.6,493.9h0M99.6,494.1h0M101.6,496.2h0M103.7,498.1h0M105.7,499.8h0M107.7,501.3h0M109.7,502.8h0M111.8,504.1h0M113.8,505.3h0M123.9,510.3h0M134.1,513.9h0M154.4,519h0" stroke="#8000FF" stroke-width="1.5" stroke-linecap="round"/>
<polyline points="32.6,519 52.9,514.6 63.1,511.9 73.2,509.1 75.2,508.5 77.3,508 79.3,507.4 81.3,506.9 83.3,506.5 85.4,506.2 87.4,507 89.4,508.1 91.5,509 93.5,509.4 95.5,509 97.6,508.1 99.6,507 101.6,506.2 103.7,506.5 105.7,506.9 107.7,507.4 109.7,508 111.8,508.5 113.8,509.1 123.9,511.9 134.1,514.6 154.4,519" fill="none" stroke="#800080" stroke-width="0.4" stroke-opacity="0.35"/>
<path d="M32.6,519h0M52.9,514.6h0M63.1,511.9h0M73.2,509.1h0M75.2,508.5h0M77.3,508h0M79.3,507.4h0M81.3,506.9h0M83.3,506.5h0M85.4,506.2h0M87.4,507h0M89.4,508.1h0M91.5,509h0M93.5,509.4h0M95.5,509h0M97.6,508.1h0M99.6,507h0M101.6,506.2h0M103.7,506.5h0M105.7,506.9h0M107.7,507.4h0M109.7,508h0M111.8,508.5h0M113.8,509.1h0M123.9,511.9h0M134.1,514.6h0M154.4,519h0" stroke="#800080" stroke-width="1.5" stroke-linecap="round"/>
<polyline points="32.6,520.1 52.9,515.8 63.1,513.6 73.2,511.8 75.2,511.5 77.3,511.3 79.3,511.1 81.3,511 83.3,511.8 85.4,512.9 87.4,513.8 89.4,514.6 91.5,515.2 93.5,515.6 95.5,515.2 97.6,514.6 99.6,513.8 101.6,512.9 103.7,511.8 105.7,511 107.7,511.1 109.7,511.3 111.8,511.5 113.8,511.8 123.9,513.6 134.1,515.8 154.4,520.1" fill="none" stroke="#800000" stroke-width="0.4" stroke-opacity="0.35"/>
<path d="M32.6,520.1h0M52.9,515.8h0M63.1,513.6h0M73.2,511.8h0M75.2,511.5h0M77.3,511.3h0M79.3,511.1h0M81.3,511h0M83.3,511.8h0M85.4,512.9h0M87.4,513.8h0M89.4,514.6h0M91.5,515.2h0M93.5,515.6h0M95.5,515.2h0M97.6,514.6h0M99.6,513.8h0M101.6,512.9h0M103.7,511.8h0M105.7,511h0M107.7,511.1h0M109.7,511.3h0M111.8,511.5h0M113.8,511.8h0M123.9,513.6h0M134.1,515.8h0M154.4,520.1h0" stroke="#800000" stroke-width="1.5" stroke-linecap="round"/>
<polyline points="32.6,523.8 52.9,520.6 63.1,519 73.2,517.6 75.2,517.4 77.3,517.2 79.3,517.1 81.3,517 83.3,518.2 85.4,519.4 87.4,520.5 89.4,521.4 91.5,522.1 93.5,522.5 95.5,522.1 97.6,521.4 99.6,520.5 101.6,519.4 103.7,518.2 105.7,517 107.7,517.1 109.7,517.2 111.8,517.4 113.8,517.6 123.9,519 134.1,520.6 154.4,523.8" fill="none" stroke="#808000" stroke-width="0.4" stroke-opacity="0.35"/>
<path d="M32.6,523.8h0M52.9,520.6h0M63.1,519h0M73.2,517.6h0M75.2,517.4h0M77.3,517.2h0M79.3,517.1h0M81.3,517h0M83.3,518.2h0M85.4,519.4h0M87.4,520.5h0M89.4,521.4h0M91.5,522.1h0M93.5,522.5h0M95.5,522.1h0M97.6,521.4h0M99.6,520.5h0M101.6,519.4h0M103.7,518.2h0M105.7,517h0M107.7,517.1h0M109.7,517.2h0M111.8,517.4h0M113.8,517.6h0M123.9,519h0M134.1,520.6h0M154.4,523.8h0" stroke="#808000" stroke-width="1.5" stroke-linecap="round"/>
</g></g>
<text x="52.4" y="548" font-size="5.2" font-weight="bold" text-anchor="middle">−20</text>
<text x="62.6" y="548" font-size="5.2" font-weight="bold" text-anchor="middle">−15</text>
<text x="72.7" y="548" font-size="5.2" font-weight="bold" text-anchor="middle">−10</text>
<text x="82.8" y="548" font-size="5.2" font-weight="bold" text-anchor="middle">−5</text>
<text x="93" y="548" font-size="5.2" font-weight="bold" text-anchor="middle">0</text>
<text x="103.2" y="548" font-size="5.2" font-weight="bold" text-anchor="middle">5</text>
<text x="113.3" y="548" font-size="5.2" font-weight="bold" text-anchor="middle">10</text>
<text x="123.4" y="548" font-size="5.2" font-weight="bold" text-anchor="middle">15</text>
<text x="133.6" y="548" font-size="5.2" font-weight="bold" text-anchor="middle">20</text>
<text x="51" y="543.5" font-size="5.2" font-weight="bold" text-anchor="end">−5</text>
<text x="51" y="535.8" font-size="5.2" font-weight="bold" text-anchor="end">0</text>
<text x="51" y="528.1" font-size="5.2" font-weight="bold" text-anchor="end">5</text>
<text x="51" y="520.4" font-size="5.2" font-weight="bold" text-anchor="end">10</text>
<text x="51" y="512.8" font-size="5.2" font-weight="bold" text-anchor="end">15</text>
<text x="51" y="505.1" font-size="5.2" font-weight="bold" text-anchor="end">20</text>
<text x="51" y="497.4" font-size="5.2" font-weight="bold" text-anchor="end">25</text>
<text x="51" y="489.8" font-size="5.2" font-weight="bold" text-anchor="end">30</text>
<text x="51" y="482.1" font-size="5.2" font-weight="bold" text-anchor="end">35</text>
<text x="51" y="474.4" font-size="5.2" font-weight="bold" text-anchor="end">40</text>
<path d="M52.9,542.3v-1.5M63.1,542.3v-1.5M73.2,542.3v-1.5M83.3,542.3v-1.5M93.5,542.3v-1.5M103.7,542.3v-1.5M113.8,542.3v-1.5M123.9,542.3v-1.5M134.1,542.3v-1.5M53,541.7h1.5M53,534h1.5M53,526.3h1.5M53,518.6h1.5M53,511h1.5M53,503.3h1.5M53,495.6h1.5M53,487.9h1.5M53,480.3h1.5M53,472.6h1.5" stroke="#999" stroke-width="0.6" fill="none"/>
<text x="94.5" y="555.5" font-size="7.1" font-weight="bold" text-anchor="middle">H (Oe)</text>
<text x="40.1" y="506.8" font-size="7.1" font-weight="bold" text-anchor="middle" transform="rotate(-90 40.1 506.8)" dy="2.4">GMI ratio (%)</text>
<clipPath id="cf"><rect x="302.8" y="452.8" width="235.7" height="189"/></clipPath>
<g clip-path="url(#cf)"><g filter="url(#soft)">
<polyline points="310.7,627.6 342.1,626.5 349.9,626.2 357.8,625.8 365.7,625.3 373.5,624.6 381.4,623.9 389.2,622.8 397.1,621.3 404.9,618.7 408.9,616.6 412.8,613.2 413.6,612.2 414.4,611.1 415.2,609.8 415.9,608.3 416.7,606.4 417.5,604.1 418.3,601.1 419.1,597 419.9,590.9 420.6,581.8 421.4,590.9 422.2,597 423,601.1 423.8,604.1 424.6,606.4 425.4,608.3 426.1,609.8 426.9,611.1 427.7,612.2 428.5,613.2 432.4,616.6 436.4,618.7 444.2,621.3 452.1,622.8 459.9,623.9 467.8,624.6 475.6,625.3 483.5,625.8 491.4,626.2 499.2,626.5 530.6,627.6" fill="none" stroke="#000000" stroke-width="0.55" stroke-opacity="0.6"/>
<path d="M310.7,627.6h0M342.1,626.5h0M349.9,626.2h0M357.8,625.8h0M365.7,625.3h0M373.5,624.6h0M381.4,623.9h0M389.2,622.8h0M397.1,621.3h0M404.9,618.7h0M408.9,616.6h0M412.8,613.2h0M413.6,612.2h0M414.4,611.1h0M415.2,609.8h0M415.9,608.3h0M416.7,606.4h0M417.5,604.1h0M418.3,601.1h0M419.1,597h0M419.9,590.9h0M420.6,581.8h0M421.4,590.9h0M422.2,597h0M423,601.1h0M423.8,604.1h0M424.6,606.4h0M425.4,608.3h0M426.1,609.8h0M426.9,611.1h0M427.7,612.2h0M428.5,613.2h0M432.4,616.6h0M436.4,618.7h0M444.2,621.3h0M452.1,622.8h0M459.9,623.9h0M467.8,624.6h0M475.6,625.3h0M483.5,625.8h0M491.4,626.2h0M499.2,626.5h0M530.6,627.6h0" stroke="#000000" stroke-width="1.8" stroke-linecap="round"/>
<polyline points="310.7,627.6 342.1,625.8 349.9,625.2 357.8,624.4 365.7,623.4 373.5,622.2 381.4,620.5 389.2,618.2 397.1,614.5 404.9,608 408.9,602.4 412.8,593.5 413.6,591 414.4,588.2 415.2,585.1 415.9,581.6 416.7,577.5 417.5,572.8 418.3,567.5 419.1,561.5 419.9,555.5 420.6,560.2 421.4,555.5 422.2,561.5 423,567.5 423.8,572.8 424.6,577.5 425.4,581.6 426.1,585.1 426.9,588.2 427.7,591 428.5,593.5 432.4,602.4 436.4,608 444.2,614.5 452.1,618.2 459.9,620.5 467.8,622.2 475.6,623.4 483.5,624.4 491.4,625.2 499.2,625.8 530.6,627.6" fill="none" stroke="#FF0000" stroke-width="0.55" stroke-opacity="0.6"/>
<path d="M310.7,627.6h0M342.1,625.8h0M349.9,625.2h0M357.8,624.4h0M365.7,623.4h0M373.5,622.2h0M381.4,620.5h0M389.2,618.2h0M397.1,614.5h0M404.9,608h0M408.9,602.4h0M412.8,593.5h0M413.6,591h0M414.4,588.2h0M415.2,585.1h0M415.9,581.6h0M416.7,577.5h0M417.5,572.8h0M418.3,567.5h0M419.1,561.5h0M419.9,555.5h0M420.6,560.2h0M421.4,555.5h0M422.2,561.5h0M423,567.5h0M423.8,572.8h0M424.6,577.5h0M425.4,581.6h0M426.1,585.1h0M426.9,588.2h0M427.7,591h0M428.5,593.5h0M432.4,602.4h0M436.4,608h0M444.2,614.5h0M452.1,618.2h0M459.9,620.5h0M467.8,622.2h0M475.6,623.4h0M483.5,624.4h0M491.4,625.2h0M499.2,625.8h0M530.6,627.6h0" stroke="#FF0000" stroke-width="1.8" stroke-linecap="round"/>
<polyline points="310.7,627.6 342.1,623.5 349.9,622.1 357.8,620.3 365.7,618.1 373.5,615.3 381.4,611.6 389.2,606.3 397.1,598.3 404.9,584.4 408.9,573 412.8,556 413.6,551.6 414.4,546.8 415.2,541.4 415.9,535.6 416.7,529.2 417.5,522.2 418.3,514.7 419.1,507.2 419.9,508.5 420.6,514.4 421.4,508.5 422.2,507.2 423,514.7 423.8,522.2 424.6,529.2 425.4,535.6 426.1,541.4 426.9,546.8 427.7,551.6 428.5,556 432.4,573 436.4,584.4 444.2,598.3 452.1,606.3 459.9,611.6 467.8,615.3 475.6,618.1 483.5,620.3 491.4,622.1 499.2,623.5 530.6,627.6" fill="none" stroke="#0000FF" stroke-width="0.55" stroke-opacity="0.6"/>
<path d="M310.7,627.6h0M342.1,623.5h0M349.9,622.1h0M357.8,620.3h0M365.7,618.1h0M373.5,615.3h0M381.4,611.6h0M389.2,606.3h0M397.1,598.3h0M404.9,584.4h0M408.9,573h0M412.8,556h0M413.6,551.6h0M414.4,546.8h0M415.2,541.4h0M415.9,535.6h0M416.7,529.2h0M417.5,522.2h0M418.3,514.7h0M419.1,507.2h0M419.9,508.5h0M420.6,514.4h0M421.4,508.5h0M422.2,507.2h0M423,514.7h0M423.8,522.2h0M424.6,529.2h0M425.4,535.6h0M426.1,541.4h0M426.9,546.8h0M427.7,551.6h0M428.5,556h0M432.4,573h0M436.4,584.4h0M444.2,598.3h0M452.1,606.3h0M459.9,611.6h0M467.8,615.3h0M475.6,618.1h0M483.5,620.3h0M491.4,622.1h0M499.2,623.5h0M530.6,627.6h0" stroke="#0000FF" stroke-width="1.8" stroke-linecap="round"/>
<polyline points="310.7,627.6 342.1,621.4 349.9,619.1 357.8,616.1 365.7,612.4 373.5,607.5 381.4,600.7 389.2,590.8 397.1,575.6 404.9,550.6 408.9,532.2 412.8,508.8 413.6,503.7 414.4,498.4 415.2,493.1 415.9,487.9 416.7,482.9 417.5,478.2 418.3,474.3 419.1,471.9 419.9,478.3 420.6,482.1 421.4,477.3 422.2,469.2 423,471.7 423.8,475.7 424.6,480.4 425.4,485.5 426.1,490.8 426.9,496.2 427.7,501.5 428.5,506.8 432.4,530.5 436.4,549.3 444.2,574.7 452.1,590.2 459.9,600.2 467.8,607.1 475.6,612.2 483.5,615.9 491.4,618.9 499.2,621.3 530.6,627.6" fill="none" stroke="#FF00FF" stroke-width="0.55" stroke-opacity="0.6"/>
<path d="M310.7,627.6h0M342.1,621.4h0M349.9,619.1h0M357.8,616.1h0M365.7,612.4h0M373.5,607.5h0M381.4,600.7h0M389.2,590.8h0M397.1,575.6h0M404.9,550.6h0M408.9,532.2h0M412.8,508.8h0M413.6,503.7h0M414.4,498.4h0M415.2,493.1h0M415.9,487.9h0M416.7,482.9h0M417.5,478.2h0M418.3,474.3h0M419.1,471.9h0M419.9,478.3h0M420.6,482.1h0M421.4,477.3h0M422.2,469.2h0M423,471.7h0M423.8,475.7h0M424.6,480.4h0M425.4,485.5h0M426.1,490.8h0M426.9,496.2h0M427.7,501.5h0M428.5,506.8h0M432.4,530.5h0M436.4,549.3h0M444.2,574.7h0M452.1,590.2h0M459.9,600.2h0M467.8,607.1h0M475.6,612.2h0M483.5,615.9h0M491.4,618.9h0M499.2,621.3h0M530.6,627.6h0" stroke="#FF00FF" stroke-width="1.8" stroke-linecap="round"/>
<polyline points="310.7,627.6 342.1,621.4 349.9,619.2 357.8,616.7 365.7,613.5 373.5,609.6 381.4,604.5 389.2,597.5 397.1,587.2 404.9,570.4 408.9,557.4 412.8,538.7 413.6,534 414.4,528.9 415.2,523.3 415.9,517.2 416.7,510.6 417.5,503.4 418.3,495.8 419.1,488.3 419.9,494.4 420.6,498.2 421.4,494.4 422.2,488.3 423,495.8 423.8,503.4 424.6,510.6 425.4,517.2 426.1,523.3 426.9,528.9 427.7,534 428.5,538.7 432.4,557.4 436.4,570.4 444.2,587.2 452.1,597.5 459.9,604.5 467.8,609.6 475.6,613.5 483.5,616.7 491.4,619.2 499.2,621.4 530.6,627.6" fill="none" stroke="#008000" stroke-width="0.55" stroke-opacity="0.6"/>
<path d="M310.7,627.6h0M342.1,621.4h0M349.9,619.2h0M357.8,616.7h0M365.7,613.5h0M373.5,609.6h0M381.4,604.5h0M389.2,597.5h0M397.1,587.2h0M404.9,570.4h0M408.9,557.4h0M412.8,538.7h0M413.6,534h0M414.4,528.9h0M415.2,523.3h0M415.9,517.2h0M416.7,510.6h0M417.5,503.4h0M418.3,495.8h0M419.1,488.3h0M419.9,494.4h0M420.6,498.2h0M421.4,494.4h0M422.2,488.3h0M423,495.8h0M423.8,503.4h0M424.6,510.6h0M425.4,517.2h0M426.1,523.3h0M426.9,528.9h0M427.7,534h0M428.5,538.7h0M432.4,557.4h0M436.4,570.4h0M444.2,587.2h0M452.1,597.5h0M459.9,604.5h0M467.8,609.6h0M475.6,613.5h0M483.5,616.7h0M491.4,619.2h0M499.2,621.4h0M530.6,627.6h0" stroke="#008000" stroke-width="1.8" stroke-linecap="round"/>
<polyline points="310.7,627.6 342.1,622.4 349.9,620.5 357.8,618.4 365.7,615.7 373.5,612.3 381.4,607.9 389.2,601.8 397.1,592.7 404.9,577.5 408.9,565.4 412.8,547.6 413.6,543 414.4,538 415.2,532.4 415.9,526.3 416.7,519.6 417.5,512.2 418.3,504.2 419.1,496.2 419.9,506 420.6,511.7 421.4,506 422.2,496.2 423,504.2 423.8,512.2 424.6,519.6 425.4,526.3 426.1,532.4 426.9,538 427.7,543 428.5,547.6 432.4,565.4 436.4,577.5 444.2,592.7 452.1,601.8 459.9,607.9 467.8,612.3 475.6,615.7 483.5,618.4 491.4,620.5 499.2,622.4 530.6,627.6" fill="none" stroke="#000080" stroke-width="0.55" stroke-opacity="0.6"/>
<path d="M310.7,627.6h0M342.1,622.4h0M349.9,620.5h0M357.8,618.4h0M365.7,615.7h0M373.5,612.3h0M381.4,607.9h0M389.2,601.8h0M397.1,592.7h0M404.9,577.5h0M408.9,565.4h0M412.8,547.6h0M413.6,543h0M414.4,538h0M415.2,532.4h0M415.9,526.3h0M416.7,519.6h0M417.5,512.2h0M418.3,504.2h0M419.1,496.2h0M419.9,506h0M420.6,511.7h0M421.4,506h0M422.2,496.2h0M423,504.2h0M423.8,512.2h0M424.6,519.6h0M425.4,526.3h0M426.1,532.4h0M426.9,538h0M427.7,543h0M428.5,547.6h0M432.4,565.4h0M436.4,577.5h0M444.2,592.7h0M452.1,601.8h0M459.9,607.9h0M467.8,612.3h0M475.6,615.7h0M483.5,618.4h0M491.4,620.5h0M499.2,622.4h0M530.6,627.6h0" stroke="#000080" stroke-width="1.8" stroke-linecap="round"/>
<polyline points="310.7,627.6 342.1,623.7 349.9,622.3 357.8,620.7 365.7,618.7 373.5,616.2 381.4,613 389.2,608.4 397.1,601.5 404.9,589.7 408.9,580 412.8,565.1 413.6,561.1 414.4,556.7 415.2,551.7 415.9,546.1 416.7,539.7 417.5,532.5 418.3,524.5 419.1,524.4 419.9,531.9 420.6,536 421.4,531.9 422.2,524.4 423,524.5 423.8,532.5 424.6,539.7 425.4,546.1 426.1,551.7 426.9,556.7 427.7,561.1 428.5,565.1 432.4,580 436.4,589.7 444.2,601.5 452.1,608.4 459.9,613 467.8,616.2 475.6,618.7 483.5,620.7 491.4,622.3 499.2,623.7 530.6,627.6" fill="none" stroke="#8000FF" stroke-width="0.55" stroke-opacity="0.6"/>
<path d="M310.7,627.6h0M342.1,623.7h0M349.9,622.3h0M357.8,620.7h0M365.7,618.7h0M373.5,616.2h0M381.4,613h0M389.2,608.4h0M397.1,601.5h0M404.9,589.7h0M408.9,580h0M412.8,565.1h0M413.6,561.1h0M414.4,556.7h0M415.2,551.7h0M415.9,546.1h0M416.7,539.7h0M417.5,532.5h0M418.3,524.5h0M419.1,524.4h0M419.9,531.9h0M420.6,536h0M421.4,531.9h0M422.2,524.4h0M423,524.5h0M423.8,532.5h0M424.6,539.7h0M425.4,546.1h0M426.1,551.7h0M426.9,556.7h0M427.7,561.1h0M428.5,565.1h0M432.4,580h0M436.4,589.7h0M444.2,601.5h0M452.1,608.4h0M459.9,613h0M467.8,616.2h0M475.6,618.7h0M483.5,620.7h0M491.4,622.3h0M499.2,623.7h0M530.6,627.6h0" stroke="#8000FF" stroke-width="1.8" stroke-linecap="round"/>
<polyline points="310.7,627.6 342.1,624.3 349.9,623 357.8,621.5 365.7,619.7 373.5,617.2 381.4,614 389.2,609.5 397.1,602.8 404.9,592.4 408.9,585.1 412.8,576.1 413.6,574.1 414.4,572.1 415.2,570.1 415.9,568.1 416.7,566.2 417.5,564.6 418.3,563.4 419.1,567.8 419.9,571.6 420.6,573.7 421.4,571.6 422.2,567.8 423,563.4 423.8,564.6 424.6,566.2 425.4,568.1 426.1,570.1 426.9,572.1 427.7,574.1 428.5,576.1 432.4,585.1 436.4,592.4 444.2,602.8 452.1,609.5 459.9,614 467.8,617.2 475.6,619.7 483.5,621.5 491.4,623 499.2,624.3 530.6,627.6" fill="none" stroke="#800080" stroke-width="0.55" stroke-opacity="0.6"/>
<path d="M310.7,627.6h0M342.1,624.3h0M349.9,623h0M357.8,621.5h0M365.7,619.7h0M373.5,617.2h0M381.4,614h0M389.2,609.5h0M397.1,602.8h0M404.9,592.4h0M408.9,585.1h0M412.8,576.1h0M413.6,574.1h0M414.4,572.1h0M415.2,570.1h0M415.9,568.1h0M416.7,566.2h0M417.5,564.6h0M418.3,563.4h0M419.1,567.8h0M419.9,571.6h0M420.6,573.7h0M421.4,571.6h0M422.2,567.8h0M423,563.4h0M423.8,564.6h0M424.6,566.2h0M425.4,568.1h0M426.1,570.1h0M426.9,572.1h0M427.7,574.1h0M428.5,576.1h0M432.4,585.1h0M436.4,592.4h0M444.2,602.8h0M452.1,609.5h0M459.9,614h0M467.8,617.2h0M475.6,619.7h0M483.5,621.5h0M491.4,623h0M499.2,624.3h0M530.6,627.6h0" stroke="#800080" stroke-width="1.8" stroke-linecap="round"/>
<polyline points="310.7,627.6 342.1,624.6 349.9,623.5 357.8,622.1 365.7,620.4 373.5,618.2 381.4,615.3 389.2,611.2 397.1,605.3 404.9,596.4 408.9,590.5 412.8,583.6 413.6,582.2 414.4,580.8 415.2,579.4 415.9,578.2 416.7,577.1 417.5,576.4 418.3,579.8 419.1,583.2 419.9,585.8 420.6,587.2 421.4,585.8 422.2,583.2 423,579.8 423.8,576.4 424.6,577.1 425.4,578.2 426.1,579.4 426.9,580.8 427.7,582.2 428.5,583.6 432.4,590.5 436.4,596.4 444.2,605.3 452.1,611.2 459.9,615.3 467.8,618.2 475.6,620.4 483.5,622.1 491.4,623.5 499.2,624.6 530.6,627.6" fill="none" stroke="#800000" stroke-width="0.55" stroke-opacity="0.6"/>
<path d="M310.7,627.6h0M342.1,624.6h0M349.9,623.5h0M357.8,622.1h0M365.7,620.4h0M373.5,618.2h0M381.4,615.3h0M389.2,611.2h0M397.1,605.3h0M404.9,596.4h0M408.9,590.5h0M412.8,583.6h0M413.6,582.2h0M414.4,580.8h0M415.2,579.4h0M415.9,578.2h0M416.7,577.1h0M417.5,576.4h0M418.3,579.8h0M419.1,583.2h0M419.9,585.8h0M420.6,587.2h0M421.4,585.8h0M422.2,583.2h0M423,579.8h0M423.8,576.4h0M424.6,577.1h0M425.4,578.2h0M426.1,579.4h0M426.9,580.8h0M427.7,582.2h0M428.5,583.6h0M432.4,590.5h0M436.4,596.4h0M444.2,605.3h0M452.1,611.2h0M459.9,615.3h0M467.8,618.2h0M475.6,620.4h0M483.5,622.1h0M491.4,623.5h0M499.2,624.6h0M530.6,627.6h0" stroke="#800000" stroke-width="1.8" stroke-linecap="round"/>
<polyline points="310.7,627.6 342.1,625.6 349.9,624.8 357.8,623.8 365.7,622.4 373.5,620.6 381.4,618.1 389.2,614.6 397.1,609.9 404.9,604.2 408.9,601.3 412.8,599 413.6,598.7 414.4,598.3 415.2,598.1 415.9,597.9 416.7,597.7 417.5,597.7 418.3,600.1 419.1,602.3 419.9,604 420.6,605 421.4,604 422.2,602.3 423,600.1 423.8,597.7 424.6,597.7 425.4,597.9 426.1,598.1 426.9,598.3 427.7,598.7 428.5,599 432.4,601.3 436.4,604.2 444.2,609.9 452.1,614.6 459.9,618.1 467.8,620.6 475.6,622.4 483.5,623.8 491.4,624.8 499.2,625.6 530.6,627.6" fill="none" stroke="#808000" stroke-width="0.55" stroke-opacity="0.6"/>
<path d="M310.7,627.6h0M342.1,625.6h0M349.9,624.8h0M357.8,623.8h0M365.7,622.4h0M373.5,620.6h0M381.4,618.1h0M389.2,614.6h0M397.1,609.9h0M404.9,604.2h0M408.9,601.3h0M412.8,599h0M413.6,598.7h0M414.4,598.3h0M415.2,598.1h0M415.9,597.9h0M416.7,597.7h0M417.5,597.7h0M418.3,600.1h0M419.1,602.3h0M419.9,604h0M420.6,605h0M421.4,604h0M422.2,602.3h0M423,600.1h0M423.8,597.7h0M424.6,597.7h0M425.4,597.9h0M426.1,598.1h0M426.9,598.3h0M427.7,598.7h0M428.5,599h0M432.4,601.3h0M436.4,604.2h0M444.2,609.9h0M452.1,614.6h0M459.9,618.1h0M467.8,620.6h0M475.6,622.4h0M483.5,623.8h0M491.4,624.8h0M499.2,625.6h0M530.6,627.6h0" stroke="#808000" stroke-width="1.8" stroke-linecap="round"/>
</g></g>
<rect x="302.8" y="452.8" width="235.7" height="189" fill="none" stroke="#4a4a4a" stroke-width="1.25"/>
<text x="302.4" y="654.6" font-size="8.1" font-weight="bold" text-anchor="middle">−150</text>
<text x="322" y="654.6" font-size="8.1" font-weight="bold" text-anchor="middle">−125</text>
<text x="341.7" y="654.6" font-size="8.1" font-weight="bold" text-anchor="middle">−100</text>
<text x="361.3" y="654.6" font-size="8.1" font-weight="bold" text-anchor="middle">−75</text>
<text x="381" y="654.6" font-size="8.1" font-weight="bold" text-anchor="middle">−50</text>
<text x="400.6" y="654.6" font-size="8.1" font-weight="bold" text-anchor="middle">−25</text>
<text x="420.2" y="654.6" font-size="8.1" font-weight="bold" text-anchor="middle">0</text>
<text x="439.9" y="654.6" font-size="8.1" font-weight="bold" text-anchor="middle">25</text>
<text x="459.5" y="654.6" font-size="8.1" font-weight="bold" text-anchor="middle">50</text>
<text x="479.2" y="654.6" font-size="8.1" font-weight="bold" text-anchor="middle">75</text>
<text x="498.8" y="654.6" font-size="8.1" font-weight="bold" text-anchor="middle">100</text>
<text x="518.5" y="654.6" font-size="8.1" font-weight="bold" text-anchor="middle">125</text>
<text x="538.1" y="654.6" font-size="8.1" font-weight="bold" text-anchor="middle">150</text>
<text x="296.6" y="630.5" font-size="8.1" font-weight="bold" text-anchor="end">0</text>
<text x="296.6" y="603.5" font-size="8.1" font-weight="bold" text-anchor="end">5</text>
<text x="296.6" y="576.6" font-size="8.1" font-weight="bold" text-anchor="end">10</text>
<text x="296.6" y="549.6" font-size="8.1" font-weight="bold" text-anchor="end">15</text>
<text x="296.6" y="522.7" font-size="8.1" font-weight="bold" text-anchor="end">20</text>
<text x="296.6" y="495.8" font-size="8.1" font-weight="bold" text-anchor="end">25</text>
<text x="296.6" y="468.8" font-size="8.1" font-weight="bold" text-anchor="end">30</text>
<path d="M302.8,641.8v3.6M322.4,641.8v3.6M342.1,641.8v3.6M361.7,641.8v3.6M381.4,641.8v3.6M401,641.8v3.6M420.6,641.8v3.6M440.3,641.8v3.6M459.9,641.8v3.6M479.6,641.8v3.6M499.2,641.8v3.6M518.9,641.8v3.6M538.5,641.8v3.6M312.6,641.8v2M332.3,641.8v2M351.9,641.8v2M371.5,641.8v2M391.2,641.8v2M410.8,641.8v2M430.5,641.8v2M450.1,641.8v2M469.8,641.8v2M489.4,641.8v2M509,641.8v2M528.7,641.8v2M302.8,627.6h-3.6M302.8,600.6h-3.6M302.8,573.7h-3.6M302.8,546.8h-3.6M302.8,519.8h-3.6M302.8,492.9h-3.6M302.8,465.9h-3.6M302.8,614.1h-2M302.8,587.2h-2M302.8,560.2h-2M302.8,533.3h-2M302.8,506.3h-2M302.8,479.4h-2" stroke="#4a4a4a" stroke-width="1" fill="none"/>
<text x="419.3" y="667.2" font-size="9.5" font-weight="bold" text-anchor="middle">H (Oe)</text>
<text x="281.5" y="547.3" font-size="9.6" font-weight="bold" text-anchor="middle" transform="rotate(-90 281.5 547.3)" dy="3.3">GMI ratio (%)</text>
<text y="465.4" font-size="14.5"><tspan x="315.09999999999997">(f)</tspan><tspan x="332.7">t</tspan><tspan x="336.3" dy="2.6" font-size="9.5">c</tspan><tspan x="344.8" dy="-2.6">=</tspan><tspan x="356.9">120</tspan><tspan x="382.09999999999997">nm</tspan></text>
<path d="M470.9,466h21.5" stroke="#000000" stroke-width="0.6" stroke-opacity="0.35"/>
<circle cx="481.9" cy="466" r="1" fill="#000000"/>
<text x="495.9" y="469.2" font-size="9.5" text-anchor="start">100 kHz</text>
<path d="M470.9,478.1h21.5" stroke="#FF0000" stroke-width="0.6" stroke-opacity="0.35"/>
<circle cx="481.9" cy="478.1" r="1" fill="#FF0000"/>
<text x="495.9" y="481.2" font-size="9.5" text-anchor="start">500 kHz</text>
<path d="M470.9,490.1h21.5" stroke="#0000FF" stroke-width="0.6" stroke-opacity="0.35"/>
<circle cx="481.9" cy="490.1" r="1" fill="#0000FF"/>
<text x="495.9" y="493.3" font-size="9.5" text-anchor="start">1 MHz</text>
<path d="M470.9,502.1h21.5" stroke="#FF00FF" stroke-width="0.6" stroke-opacity="0.35"/>
<circle cx="481.9" cy="502.1" r="1" fill="#FF00FF"/>
<text x="495.9" y="505.3" font-size="9.5" text-anchor="start">2 MHz</text>
<path d="M470.9,514.2h21.5" stroke="#008000" stroke-width="0.6" stroke-opacity="0.35"/>
<circle cx="481.9" cy="514.2" r="1" fill="#008000"/>
<text x="495.9" y="517.4" font-size="9.5" text-anchor="start">3 MHz</text>
<path d="M470.9,526.2h21.5" stroke="#000080" stroke-width="0.6" stroke-opacity="0.35"/>
<circle cx="481.9" cy="526.2" r="1" fill="#000080"/>
<text x="495.9" y="529.5" font-size="9.5" text-anchor="start">5 MHz</text>
<path d="M470.9,538.3h21.5" stroke="#8000FF" stroke-width="0.6" stroke-opacity="0.35"/>
<circle cx="481.9" cy="538.3" r="1" fill="#8000FF"/>
<text x="495.9" y="541.5" font-size="9.5" text-anchor="start">10 MHz</text>
<path d="M470.9,550.4h21.5" stroke="#800080" stroke-width="0.6" stroke-opacity="0.35"/>
<circle cx="481.9" cy="550.4" r="1" fill="#800080"/>
<text x="495.9" y="553.6" font-size="9.5" text-anchor="start">15 MHz</text>
<path d="M470.9,562.4h21.5" stroke="#800000" stroke-width="0.6" stroke-opacity="0.35"/>
<circle cx="481.9" cy="562.4" r="1" fill="#800000"/>
<text x="495.9" y="565.6" font-size="9.5" text-anchor="start">20 MHz</text>
<path d="M470.9,574.5h21.5" stroke="#808000" stroke-width="0.6" stroke-opacity="0.35"/>
<circle cx="481.9" cy="574.5" r="1" fill="#808000"/>
<text x="495.9" y="577.7" font-size="9.5" text-anchor="start">30 MHz</text>
<rect x="319.6" y="471.6" width="84.4" height="67.7" fill="#fff" stroke="#999" stroke-width="0.8"/>
<clipPath id="if"><rect x="319.6" y="471.6" width="84.4" height="67.7"/></clipPath>
<g clip-path="url(#if)"><g filter="url(#soft)">
<polyline points="299,535.1 320,534.1 330.5,533.3 341,532 343.1,531.7 345.2,531.3 347.3,530.8 349.4,530.2 351.5,529.5 353.6,528.6 355.7,527.5 357.8,525.9 359.9,523.6 362,520.2 364.1,523.6 366.2,525.9 368.3,527.5 370.4,528.6 372.5,529.5 374.6,530.2 376.7,530.8 378.8,531.3 380.9,531.7 383,532 393.5,533.3 404,534.1 425,535.1" fill="none" stroke="#000000" stroke-width="0.4" stroke-opacity="0.35"/>
<path d="M299,535.1h0M320,534.1h0M330.5,533.3h0M341,532h0M343.1,531.7h0M345.2,531.3h0M347.3,530.8h0M349.4,530.2h0M351.5,529.5h0M353.6,528.6h0M355.7,527.5h0M357.8,525.9h0M359.9,523.6h0M362,520.2h0M364.1,523.6h0M366.2,525.9h0M368.3,527.5h0M370.4,528.6h0M372.5,529.5h0M374.6,530.2h0M376.7,530.8h0M378.8,531.3h0M380.9,531.7h0M383,532h0M393.5,533.3h0M404,534.1h0M425,535.1h0" stroke="#000000" stroke-width="1.5" stroke-linecap="round"/>
<polyline points="299,532.5 320,530.1 330.5,528 341,524.6 343.1,523.7 345.2,522.6 347.3,521.4 349.4,520.1 351.5,518.5 353.6,516.8 355.7,514.7 357.8,512.5 359.9,510.2 362,512 364.1,510.2 366.2,512.5 368.3,514.7 370.4,516.8 372.5,518.5 374.6,520.1 376.7,521.4 378.8,522.6 380.9,523.7 383,524.6 393.5,528 404,530.1 425,532.5" fill="none" stroke="#FF0000" stroke-width="0.4" stroke-opacity="0.35"/>
<path d="M299,532.5h0M320,530.1h0M330.5,528h0M341,524.6h0M343.1,523.7h0M345.2,522.6h0M347.3,521.4h0M349.4,520.1h0M351.5,518.5h0M353.6,516.8h0M355.7,514.7h0M357.8,512.5h0M359.9,510.2h0M362,512h0M364.1,510.2h0M366.2,512.5h0M368.3,514.7h0M370.4,516.8h0M372.5,518.5h0M374.6,520.1h0M376.7,521.4h0M378.8,522.6h0M380.9,523.7h0M383,524.6h0M393.5,528h0M404,530.1h0M425,532.5h0" stroke="#FF0000" stroke-width="1.5" stroke-linecap="round"/>
<polyline points="299,526.4 320,521.1 330.5,516.9 341,510.4 343.1,508.7 345.2,506.9 347.3,504.9 349.4,502.7 351.5,500.2 353.6,497.6 355.7,494.8 357.8,491.9 359.9,492.4 362,494.7 364.1,492.4 366.2,491.9 368.3,494.8 370.4,497.6 372.5,500.2 374.6,502.7 376.7,504.9 378.8,506.9 380.9,508.7 383,510.4 393.5,516.9 404,521.1 425,526.4" fill="none" stroke="#0000FF" stroke-width="0.4" stroke-opacity="0.35"/>
<path d="M299,526.4h0M320,521.1h0M330.5,516.9h0M341,510.4h0M343.1,508.7h0M345.2,506.9h0M347.3,504.9h0M349.4,502.7h0M351.5,500.2h0M353.6,497.6h0M355.7,494.8h0M357.8,491.9h0M359.9,492.4h0M362,494.7h0M364.1,492.4h0M366.2,491.9h0M368.3,494.8h0M370.4,497.6h0M372.5,500.2h0M374.6,502.7h0M376.7,504.9h0M378.8,506.9h0M380.9,508.7h0M383,510.4h0M393.5,516.9h0M404,521.1h0M425,526.4h0" stroke="#0000FF" stroke-width="1.5" stroke-linecap="round"/>
<polyline points="299,517.8 320,508.4 330.5,501.4 341,492.5 343.1,490.6 345.2,488.6 347.3,486.6 349.4,484.6 351.5,482.7 353.6,481 355.7,479.5 357.8,478.6 359.9,481 362,482.4 364.1,480.6 366.2,477.6 368.3,478.5 370.4,480 372.5,481.8 374.6,483.7 376.7,485.7 378.8,487.8 380.9,489.8 383,491.8 393.5,500.8 404,507.8 425,517.5" fill="none" stroke="#FF00FF" stroke-width="0.4" stroke-opacity="0.35"/>
<path d="M299,517.8h0M320,508.4h0M330.5,501.4h0M341,492.5h0M343.1,490.6h0M345.2,488.6h0M347.3,486.6h0M349.4,484.6h0M351.5,482.7h0M353.6,481h0M355.7,479.5h0M357.8,478.6h0M359.9,481h0M362,482.4h0M364.1,480.6h0M366.2,477.6h0M368.3,478.5h0M370.4,480h0M372.5,481.8h0M374.6,483.7h0M376.7,485.7h0M378.8,487.8h0M380.9,489.8h0M383,491.8h0M393.5,500.8h0M404,507.8h0M425,517.5h0" stroke="#FF00FF" stroke-width="1.5" stroke-linecap="round"/>
<polyline points="299,522.2 320,515.8 330.5,510.9 341,503.9 343.1,502.1 345.2,500.1 347.3,498 349.4,495.7 351.5,493.2 353.6,490.5 355.7,487.6 357.8,484.8 359.9,487.1 362,488.5 364.1,487.1 366.2,484.8 368.3,487.6 370.4,490.5 372.5,493.2 374.6,495.7 376.7,498 378.8,500.1 380.9,502.1 383,503.9 393.5,510.9 404,515.8 425,522.2" fill="none" stroke="#008000" stroke-width="0.4" stroke-opacity="0.35"/>
<path d="M299,522.2h0M320,515.8h0M330.5,510.9h0M341,503.9h0M343.1,502.1h0M345.2,500.1h0M347.3,498h0M349.4,495.7h0M351.5,493.2h0M353.6,490.5h0M355.7,487.6h0M357.8,484.8h0M359.9,487.1h0M362,488.5h0M364.1,487.1h0M366.2,484.8h0M368.3,487.6h0M370.4,490.5h0M372.5,493.2h0M374.6,495.7h0M376.7,498h0M378.8,500.1h0M380.9,502.1h0M383,503.9h0M393.5,510.9h0M404,515.8h0M425,522.2h0" stroke="#008000" stroke-width="1.5" stroke-linecap="round"/>
<polyline points="299,524.3 320,518.5 330.5,514 341,507.2 343.1,505.5 345.2,503.6 347.3,501.5 349.4,499.2 351.5,496.6 353.6,493.8 355.7,490.8 357.8,487.8 359.9,491.5 362,493.6 364.1,491.5 366.2,487.8 368.3,490.8 370.4,493.8 372.5,496.6 374.6,499.2 376.7,501.5 378.8,503.6 380.9,505.5 383,507.2 393.5,514 404,518.5 425,524.3" fill="none" stroke="#000080" stroke-width="0.4" stroke-opacity="0.35"/>
<path d="M299,524.3h0M320,518.5h0M330.5,514h0M341,507.2h0M343.1,505.5h0M345.2,503.6h0M347.3,501.5h0M349.4,499.2h0M351.5,496.6h0M353.6,493.8h0M355.7,490.8h0M357.8,487.8h0M359.9,491.5h0M362,493.6h0M364.1,491.5h0M366.2,487.8h0M368.3,490.8h0M370.4,493.8h0M372.5,496.6h0M374.6,499.2h0M376.7,501.5h0M378.8,503.6h0M380.9,505.5h0M383,507.2h0M393.5,514h0M404,518.5h0M425,524.3h0" stroke="#000080" stroke-width="1.5" stroke-linecap="round"/>
<polyline points="299,527.6 320,523.2 330.5,519.5 341,513.9 343.1,512.3 345.2,510.7 347.3,508.8 349.4,506.6 351.5,504.2 353.6,501.5 355.7,498.5 357.8,498.4 359.9,501.3 362,502.8 364.1,501.3 366.2,498.4 368.3,498.5 370.4,501.5 372.5,504.2 374.6,506.6 376.7,508.8 378.8,510.7 380.9,512.3 383,513.9 393.5,519.5 404,523.2 425,527.6" fill="none" stroke="#8000FF" stroke-width="0.4" stroke-opacity="0.35"/>
<path d="M299,527.6h0M320,523.2h0M330.5,519.5h0M341,513.9h0M343.1,512.3h0M345.2,510.7h0M347.3,508.8h0M349.4,506.6h0M351.5,504.2h0M353.6,501.5h0M355.7,498.5h0M357.8,498.4h0M359.9,501.3h0M362,502.8h0M364.1,501.3h0M366.2,498.4h0M368.3,498.5h0M370.4,501.5h0M372.5,504.2h0M374.6,506.6h0M376.7,508.8h0M378.8,510.7h0M380.9,512.3h0M383,513.9h0M393.5,519.5h0M404,523.2h0M425,527.6h0" stroke="#8000FF" stroke-width="1.5" stroke-linecap="round"/>
<polyline points="299,528.1 320,524.2 330.5,521.4 341,518 343.1,517.2 345.2,516.5 347.3,515.7 349.4,515 351.5,514.3 353.6,513.6 355.7,513.2 357.8,514.9 359.9,516.3 362,517.1 364.1,516.3 366.2,514.9 368.3,513.2 370.4,513.6 372.5,514.3 374.6,515 376.7,515.7 378.8,516.5 380.9,517.2 383,518 393.5,521.4 404,524.2 425,528.1" fill="none" stroke="#800080" stroke-width="0.4" stroke-opacity="0.35"/>
<path d="M299,528.1h0M320,524.2h0M330.5,521.4h0M341,518h0M343.1,517.2h0M345.2,516.5h0M347.3,515.7h0M349.4,515h0M351.5,514.3h0M353.6,513.6h0M355.7,513.2h0M357.8,514.9h0M359.9,516.3h0M362,517.1h0M364.1,516.3h0M366.2,514.9h0M368.3,513.2h0M370.4,513.6h0M372.5,514.3h0M374.6,515h0M376.7,515.7h0M378.8,516.5h0M380.9,517.2h0M383,518h0M393.5,521.4h0M404,524.2h0M425,528.1h0" stroke="#800080" stroke-width="1.5" stroke-linecap="round"/>
<polyline points="299,529.1 320,525.7 330.5,523.5 341,520.8 343.1,520.3 345.2,519.8 347.3,519.3 349.4,518.8 351.5,518.4 353.6,518.1 355.7,519.4 357.8,520.7 359.9,521.7 362,522.2 364.1,521.7 366.2,520.7 368.3,519.4 370.4,518.1 372.5,518.4 374.6,518.8 376.7,519.3 378.8,519.8 380.9,520.3 383,520.8 393.5,523.5 404,525.7 425,529.1" fill="none" stroke="#800000" stroke-width="0.4" stroke-opacity="0.35"/>
<path d="M299,529.1h0M320,525.7h0M330.5,523.5h0M341,520.8h0M343.1,520.3h0M345.2,519.8h0M347.3,519.3h0M349.4,518.8h0M351.5,518.4h0M353.6,518.1h0M355.7,519.4h0M357.8,520.7h0M359.9,521.7h0M362,522.2h0M364.1,521.7h0M366.2,520.7h0M368.3,519.4h0M370.4,518.1h0M372.5,518.4h0M374.6,518.8h0M376.7,519.3h0M378.8,519.8h0M380.9,520.3h0M383,520.8h0M393.5,523.5h0M404,525.7h0M425,529.1h0" stroke="#800000" stroke-width="1.5" stroke-linecap="round"/>
<polyline points="299,530.8 320,528.6 330.5,527.6 341,526.7 343.1,526.5 345.2,526.4 347.3,526.3 349.4,526.3 351.5,526.2 353.6,526.2 355.7,527.1 357.8,527.9 359.9,528.6 362,528.9 364.1,528.6 366.2,527.9 368.3,527.1 370.4,526.2 372.5,526.2 374.6,526.3 376.7,526.3 378.8,526.4 380.9,526.5 383,526.7 393.5,527.6 404,528.6 425,530.8" fill="none" stroke="#808000" stroke-width="0.4" stroke-opacity="0.35"/>
<path d="M299,530.8h0M320,528.6h0M330.5,527.6h0M341,526.7h0M343.1,526.5h0M345.2,526.4h0M347.3,526.3h0M349.4,526.3h0M351.5,526.2h0M353.6,526.2h0M355.7,527.1h0M357.8,527.9h0M359.9,528.6h0M362,528.9h0M364.1,528.6h0M366.2,527.9h0M368.3,527.1h0M370.4,526.2h0M372.5,526.2h0M374.6,526.3h0M376.7,526.3h0M378.8,526.4h0M380.9,526.5h0M383,526.7h0M393.5,527.6h0M404,528.6h0M425,530.8h0" stroke="#808000" stroke-width="1.5" stroke-linecap="round"/>
</g></g>
<text x="319.5" y="545.8" font-size="5.2" font-weight="bold" text-anchor="middle">−20</text>
<text x="330" y="545.8" font-size="5.2" font-weight="bold" text-anchor="middle">−15</text>
<text x="340.5" y="545.8" font-size="5.2" font-weight="bold" text-anchor="middle">−10</text>
<text x="351" y="545.8" font-size="5.2" font-weight="bold" text-anchor="middle">−5</text>
<text x="361.5" y="545.8" font-size="5.2" font-weight="bold" text-anchor="middle">0</text>
<text x="372" y="545.8" font-size="5.2" font-weight="bold" text-anchor="middle">5</text>
<text x="382.5" y="545.8" font-size="5.2" font-weight="bold" text-anchor="middle">10</text>
<text x="393" y="545.8" font-size="5.2" font-weight="bold" text-anchor="middle">15</text>
<text x="403.5" y="545.8" font-size="5.2" font-weight="bold" text-anchor="middle">20</text>
<text x="317.6" y="539.3" font-size="5.2" font-weight="bold" text-anchor="end">0</text>
<text x="317.6" y="529.1" font-size="5.2" font-weight="bold" text-anchor="end">5</text>
<text x="317.6" y="518.9" font-size="5.2" font-weight="bold" text-anchor="end">10</text>
<text x="317.6" y="508.7" font-size="5.2" font-weight="bold" text-anchor="end">15</text>
<text x="317.6" y="498.5" font-size="5.2" font-weight="bold" text-anchor="end">20</text>
<text x="317.6" y="488.3" font-size="5.2" font-weight="bold" text-anchor="end">25</text>
<text x="317.6" y="478.1" font-size="5.2" font-weight="bold" text-anchor="end">30</text>
<path d="M320,539.3v-1.5M330.5,539.3v-1.5M341,539.3v-1.5M351.5,539.3v-1.5M362,539.3v-1.5M372.5,539.3v-1.5M383,539.3v-1.5M393.5,539.3v-1.5M404,539.3v-1.5M319.6,537.5h1.5M319.6,527.3h1.5M319.6,517.1h1.5M319.6,506.9h1.5M319.6,496.7h1.5M319.6,486.5h1.5M319.6,476.3h1.5" stroke="#999" stroke-width="0.6" fill="none"/>
<text x="362.8" y="553.6" font-size="7.1" font-weight="bold" text-anchor="middle">H (Oe)</text>
<text x="308.4" y="505.4" font-size="7.1" font-weight="bold" text-anchor="middle" transform="rotate(-90 308.4 505.4)" dy="2.4">GMI ratio (%)</text>
<clipPath id="cg"><rect x="177.4" y="673.4" width="232.2" height="186.9"/></clipPath>
<g clip-path="url(#cg)"><g filter="url(#soft)">
<polyline points="185.1,848.8 216.1,845.1 223.8,844 231.6,842.8 239.3,841.5 247.1,840 254.8,838.4 262.5,836.4 270.3,834 278,830.8 281.9,828.6 285.8,825.7 286.5,824.9 287.3,824.1 288.1,823.1 288.9,822.1 289.6,820.8 290.4,819.3 291.2,817.4 292,814.8 292.7,810.3 293.5,794.4 294.3,810.3 295,814.8 295.8,817.4 296.6,819.3 297.4,820.8 298.1,822.1 298.9,823.1 299.7,824.1 300.5,824.9 301.2,825.7 305.1,828.6 309,830.8 316.7,834 324.5,836.4 332.2,838.4 339.9,840 347.7,841.5 355.4,842.8 363.2,844 370.9,845.1 401.9,848.8" fill="none" stroke="#000000" stroke-width="0.55" stroke-opacity="0.6"/>
<path d="M185.1,848.8h0M216.1,845.1h0M223.8,844h0M231.6,842.8h0M239.3,841.5h0M247.1,840h0M254.8,838.4h0M262.5,836.4h0M270.3,834h0M278,830.8h0M281.9,828.6h0M285.8,825.7h0M286.5,824.9h0M287.3,824.1h0M288.1,823.1h0M288.9,822.1h0M289.6,820.8h0M290.4,819.3h0M291.2,817.4h0M292,814.8h0M292.7,810.3h0M293.5,794.4h0M294.3,810.3h0M295,814.8h0M295.8,817.4h0M296.6,819.3h0M297.4,820.8h0M298.1,822.1h0M298.9,823.1h0M299.7,824.1h0M300.5,824.9h0M301.2,825.7h0M305.1,828.6h0M309,830.8h0M316.7,834h0M324.5,836.4h0M332.2,838.4h0M339.9,840h0M347.7,841.5h0M355.4,842.8h0M363.2,844h0M370.9,845.1h0M401.9,848.8h0" stroke="#000000" stroke-width="1.8" stroke-linecap="round"/>
<polyline points="185.1,848.8 216.1,844.9 223.8,843.6 231.6,842 239.3,840.2 247.1,837.8 254.8,834.8 262.5,830.9 270.3,825.2 278,816.6 281.9,810.3 285.8,801.8 286.5,799.7 287.3,797.5 288.1,795.2 288.9,792.7 289.6,790 290.4,787.1 291.2,784 292,780.9 292.7,777.8 293.5,781.5 294.3,777.8 295,780.9 295.8,784 296.6,787.1 297.4,790 298.1,792.7 298.9,795.2 299.7,797.5 300.5,799.7 301.2,801.8 305.1,810.3 309,816.6 316.7,825.2 324.5,830.9 332.2,834.8 339.9,837.8 347.7,840.2 355.4,842 363.2,843.6 370.9,844.9 401.9,848.8" fill="none" stroke="#FF0000" stroke-width="0.55" stroke-opacity="0.6"/>
<path d="M185.1,848.8h0M216.1,844.9h0M223.8,843.6h0M231.6,842h0M239.3,840.2h0M247.1,837.8h0M254.8,834.8h0M262.5,830.9h0M270.3,825.2h0M278,816.6h0M281.9,810.3h0M285.8,801.8h0M286.5,799.7h0M287.3,797.5h0M288.1,795.2h0M288.9,792.7h0M289.6,790h0M290.4,787.1h0M291.2,784h0M292,780.9h0M292.7,777.8h0M293.5,781.5h0M294.3,777.8h0M295,780.9h0M295.8,784h0M296.6,787.1h0M297.4,790h0M298.1,792.7h0M298.9,795.2h0M299.7,797.5h0M300.5,799.7h0M301.2,801.8h0M305.1,810.3h0M309,816.6h0M316.7,825.2h0M324.5,830.9h0M332.2,834.8h0M339.9,837.8h0M347.7,840.2h0M355.4,842h0M363.2,843.6h0M370.9,844.9h0M401.9,848.8h0" stroke="#FF0000" stroke-width="1.8" stroke-linecap="round"/>
<polyline points="185.1,848.8 216.1,839.5 223.8,836.4 231.6,833 239.3,829 247.1,824.3 254.8,818.5 262.5,811.2 270.3,801.5 278,787.4 281.9,777.6 285.8,764.3 286.5,761 287.3,757.5 288.1,753.6 288.9,749.4 289.6,744.7 290.4,739.5 291.2,733.4 292,726.2 292.7,725.4 293.5,731.8 294.3,725.4 295,726.2 295.8,733.4 296.6,739.5 297.4,744.7 298.1,749.4 298.9,753.6 299.7,757.5 300.5,761 301.2,764.3 305.1,777.6 309,787.4 316.7,801.5 324.5,811.2 332.2,818.5 339.9,824.3 347.7,829 355.4,833 363.2,836.4 370.9,839.5 401.9,848.8" fill="none" stroke="#0000FF" stroke-width="0.55" stroke-opacity="0.6"/>
<path d="M185.1,848.8h0M216.1,839.5h0M223.8,836.4h0M231.6,833h0M239.3,829h0M247.1,824.3h0M254.8,818.5h0M262.5,811.2h0M270.3,801.5h0M278,787.4h0M281.9,777.6h0M285.8,764.3h0M286.5,761h0M287.3,757.5h0M288.1,753.6h0M288.9,749.4h0M289.6,744.7h0M290.4,739.5h0M291.2,733.4h0M292,726.2h0M292.7,725.4h0M293.5,731.8h0M294.3,725.4h0M295,726.2h0M295.8,733.4h0M296.6,739.5h0M297.4,744.7h0M298.1,749.4h0M298.9,753.6h0M299.7,757.5h0M300.5,761h0M301.2,764.3h0M305.1,777.6h0M309,787.4h0M316.7,801.5h0M324.5,811.2h0M332.2,818.5h0M339.9,824.3h0M347.7,829h0M355.4,833h0M363.2,836.4h0M370.9,839.5h0M401.9,848.8h0" stroke="#0000FF" stroke-width="1.8" stroke-linecap="round"/>
<polyline points="185.1,848.8 216.1,837.2 223.8,833.4 231.6,829.2 239.3,824.2 247.1,818.4 254.8,811.4 262.5,802.5 270.3,790.8 278,774.2 281.9,762.6 285.8,747.2 286.5,743.4 287.3,739.4 288.1,734.9 288.9,730.1 289.6,724.8 290.4,718.7 291.2,711.8 292,702.8 292.7,707.6 293.5,711.3 294.3,707 295,701 295.8,710.1 296.6,717.2 297.4,723.3 298.1,728.7 298.9,733.6 299.7,738.1 300.5,742.2 301.2,746 305.1,761.6 309,773.3 316.7,790.1 324.5,802 332.2,810.9 339.9,818.1 347.7,823.9 355.4,828.9 363.2,833.2 370.9,837 401.9,848.8" fill="none" stroke="#FF00FF" stroke-width="0.55" stroke-opacity="0.6"/>
<path d="M185.1,848.8h0M216.1,837.2h0M223.8,833.4h0M231.6,829.2h0M239.3,824.2h0M247.1,818.4h0M254.8,811.4h0M262.5,802.5h0M270.3,790.8h0M278,774.2h0M281.9,762.6h0M285.8,747.2h0M286.5,743.4h0M287.3,739.4h0M288.1,734.9h0M288.9,730.1h0M289.6,724.8h0M290.4,718.7h0M291.2,711.8h0M292,702.8h0M292.7,707.6h0M293.5,711.3h0M294.3,707h0M295,701h0M295.8,710.1h0M296.6,717.2h0M297.4,723.3h0M298.1,728.7h0M298.9,733.6h0M299.7,738.1h0M300.5,742.2h0M301.2,746h0M305.1,761.6h0M309,773.3h0M316.7,790.1h0M324.5,802h0M332.2,810.9h0M339.9,818.1h0M347.7,823.9h0M355.4,828.9h0M363.2,833.2h0M370.9,837h0M401.9,848.8h0" stroke="#FF00FF" stroke-width="1.8" stroke-linecap="round"/>
<polyline points="185.1,848.8 216.1,838.2 223.8,834.7 231.6,830.8 239.3,826.4 247.1,821.1 254.8,814.7 262.5,806.8 270.3,796.6 278,782.6 281.9,773.3 285.8,761.6 286.5,758.9 287.3,756 288.1,752.9 288.9,749.7 289.6,746.2 290.4,742.4 291.2,738.2 292,733.5 292.7,739.4 293.5,743.5 294.3,739.4 295,733.5 295.8,738.2 296.6,742.4 297.4,746.2 298.1,749.7 298.9,752.9 299.7,756 300.5,758.9 301.2,761.6 305.1,773.3 309,782.6 316.7,796.6 324.5,806.8 332.2,814.7 339.9,821.1 347.7,826.4 355.4,830.8 363.2,834.7 370.9,838.2 401.9,848.8" fill="none" stroke="#008000" stroke-width="0.55" stroke-opacity="0.6"/>
<path d="M185.1,848.8h0M216.1,838.2h0M223.8,834.7h0M231.6,830.8h0M239.3,826.4h0M247.1,821.1h0M254.8,814.7h0M262.5,806.8h0M270.3,796.6h0M278,782.6h0M281.9,773.3h0M285.8,761.6h0M286.5,758.9h0M287.3,756h0M288.1,752.9h0M288.9,749.7h0M289.6,746.2h0M290.4,742.4h0M291.2,738.2h0M292,733.5h0M292.7,739.4h0M293.5,743.5h0M294.3,739.4h0M295,733.5h0M295.8,738.2h0M296.6,742.4h0M297.4,746.2h0M298.1,749.7h0M298.9,752.9h0M299.7,756h0M300.5,758.9h0M301.2,761.6h0M305.1,773.3h0M309,782.6h0M316.7,796.6h0M324.5,806.8h0M332.2,814.7h0M339.9,821.1h0M347.7,826.4h0M355.4,830.8h0M363.2,834.7h0M370.9,838.2h0M401.9,848.8h0" stroke="#008000" stroke-width="1.8" stroke-linecap="round"/>
<polyline points="185.1,848.8 216.1,840.6 223.8,837.8 231.6,834.6 239.3,830.9 247.1,826.4 254.8,820.8 262.5,813.6 270.3,804.1 278,790.5 281.9,781.4 285.8,769.8 286.5,767.2 287.3,764.4 288.1,761.4 288.9,758.3 289.6,755.1 290.4,751.7 291.2,748.2 292,744.7 292.7,751.1 293.5,755.2 294.3,751.1 295,744.7 295.8,748.2 296.6,751.7 297.4,755.1 298.1,758.3 298.9,761.4 299.7,764.4 300.5,767.2 301.2,769.8 305.1,781.4 309,790.5 316.7,804.1 324.5,813.6 332.2,820.8 339.9,826.4 347.7,830.9 355.4,834.6 363.2,837.8 370.9,840.6 401.9,848.8" fill="none" stroke="#000080" stroke-width="0.55" stroke-opacity="0.6"/>
<path d="M185.1,848.8h0M216.1,840.6h0M223.8,837.8h0M231.6,834.6h0M239.3,830.9h0M247.1,826.4h0M254.8,820.8h0M262.5,813.6h0M270.3,804.1h0M278,790.5h0M281.9,781.4h0M285.8,769.8h0M286.5,767.2h0M287.3,764.4h0M288.1,761.4h0M288.9,758.3h0M289.6,755.1h0M290.4,751.7h0M291.2,748.2h0M292,744.7h0M292.7,751.1h0M293.5,755.2h0M294.3,751.1h0M295,744.7h0M295.8,748.2h0M296.6,751.7h0M297.4,755.1h0M298.1,758.3h0M298.9,761.4h0M299.7,764.4h0M300.5,767.2h0M301.2,769.8h0M305.1,781.4h0M309,790.5h0M316.7,804.1h0M324.5,813.6h0M332.2,820.8h0M339.9,826.4h0M347.7,830.9h0M355.4,834.6h0M363.2,837.8h0M370.9,840.6h0M401.9,848.8h0" stroke="#000080" stroke-width="1.8" stroke-linecap="round"/>
<polyline points="185.1,848.8 216.1,840.8 223.8,838.1 231.6,835.1 239.3,831.6 247.1,827.5 254.8,822.4 262.5,816 270.3,807.7 278,796 281.9,788.1 285.8,778.2 286.5,775.9 287.3,773.4 288.1,770.8 288.9,768 289.6,765 290.4,761.9 291.2,758.5 292,759.4 292.7,766.1 293.5,769.8 294.3,766.1 295,759.4 295.8,758.5 296.6,761.9 297.4,765 298.1,768 298.9,770.8 299.7,773.4 300.5,775.9 301.2,778.2 305.1,788.1 309,796 316.7,807.7 324.5,816 332.2,822.4 339.9,827.5 347.7,831.6 355.4,835.1 363.2,838.1 370.9,840.8 401.9,848.8" fill="none" stroke="#8000FF" stroke-width="0.55" stroke-opacity="0.6"/>
<path d="M185.1,848.8h0M216.1,840.8h0M223.8,838.1h0M231.6,835.1h0M239.3,831.6h0M247.1,827.5h0M254.8,822.4h0M262.5,816h0M270.3,807.7h0M278,796h0M281.9,788.1h0M285.8,778.2h0M286.5,775.9h0M287.3,773.4h0M288.1,770.8h0M288.9,768h0M289.6,765h0M290.4,761.9h0M291.2,758.5h0M292,759.4h0M292.7,766.1h0M293.5,769.8h0M294.3,766.1h0M295,759.4h0M295.8,758.5h0M296.6,761.9h0M297.4,765h0M298.1,768h0M298.9,770.8h0M299.7,773.4h0M300.5,775.9h0M301.2,778.2h0M305.1,788.1h0M309,796h0M316.7,807.7h0M324.5,816h0M332.2,822.4h0M339.9,827.5h0M347.7,831.6h0M355.4,835.1h0M363.2,838.1h0M370.9,840.8h0M401.9,848.8h0" stroke="#8000FF" stroke-width="1.8" stroke-linecap="round"/>
<polyline points="185.1,848.8 216.1,844.2 223.8,842.5 231.6,840.3 239.3,837.6 247.1,834.1 254.8,829.5 262.5,823.4 270.3,815.2 278,804.6 281.9,798.7 285.8,793.1 286.5,792 287.3,791.1 288.1,790.2 288.9,789.4 289.6,788.8 290.4,788.2 291.2,787.9 292,791.4 292.7,794.5 293.5,796.1 294.3,794.5 295,791.4 295.8,787.9 296.6,788.2 297.4,788.8 298.1,789.4 298.9,790.2 299.7,791.1 300.5,792 301.2,793.1 305.1,798.7 309,804.6 316.7,815.2 324.5,823.4 332.2,829.5 339.9,834.1 347.7,837.6 355.4,840.3 363.2,842.5 370.9,844.2 401.9,848.8" fill="none" stroke="#800080" stroke-width="0.55" stroke-opacity="0.6"/>
<path d="M185.1,848.8h0M216.1,844.2h0M223.8,842.5h0M231.6,840.3h0M239.3,837.6h0M247.1,834.1h0M254.8,829.5h0M262.5,823.4h0M270.3,815.2h0M278,804.6h0M281.9,798.7h0M285.8,793.1h0M286.5,792h0M287.3,791.1h0M288.1,790.2h0M288.9,789.4h0M289.6,788.8h0M290.4,788.2h0M291.2,787.9h0M292,791.4h0M292.7,794.5h0M293.5,796.1h0M294.3,794.5h0M295,791.4h0M295.8,787.9h0M296.6,788.2h0M297.4,788.8h0M298.1,789.4h0M298.9,790.2h0M299.7,791.1h0M300.5,792h0M301.2,793.1h0M305.1,798.7h0M309,804.6h0M316.7,815.2h0M324.5,823.4h0M332.2,829.5h0M339.9,834.1h0M347.7,837.6h0M355.4,840.3h0M363.2,842.5h0M370.9,844.2h0M401.9,848.8h0" stroke="#800080" stroke-width="1.8" stroke-linecap="round"/>
<polyline points="185.1,848.8 216.1,844.1 223.8,842.4 231.6,840.4 239.3,837.9 247.1,834.7 254.8,830.7 262.5,825.5 270.3,818.5 278,809.2 281.9,803.8 285.8,798.2 286.5,797.2 287.3,796.1 288.1,795.1 288.9,794.2 289.6,793.3 290.4,792.6 291.2,792.1 292,796.3 292.7,800 293.5,802 294.3,800 295,796.3 295.8,792.1 296.6,792.6 297.4,793.3 298.1,794.2 298.9,795.1 299.7,796.1 300.5,797.2 301.2,798.2 305.1,803.8 309,809.2 316.7,818.5 324.5,825.5 332.2,830.7 339.9,834.7 347.7,837.9 355.4,840.4 363.2,842.4 370.9,844.1 401.9,848.8" fill="none" stroke="#800000" stroke-width="0.55" stroke-opacity="0.6"/>
<path d="M185.1,848.8h0M216.1,844.1h0M223.8,842.4h0M231.6,840.4h0M239.3,837.9h0M247.1,834.7h0M254.8,830.7h0M262.5,825.5h0M270.3,818.5h0M278,809.2h0M281.9,803.8h0M285.8,798.2h0M286.5,797.2h0M287.3,796.1h0M288.1,795.1h0M288.9,794.2h0M289.6,793.3h0M290.4,792.6h0M291.2,792.1h0M292,796.3h0M292.7,800h0M293.5,802h0M294.3,800h0M295,796.3h0M295.8,792.1h0M296.6,792.6h0M297.4,793.3h0M298.1,794.2h0M298.9,795.1h0M299.7,796.1h0M300.5,797.2h0M301.2,798.2h0M305.1,803.8h0M309,809.2h0M316.7,818.5h0M324.5,825.5h0M332.2,830.7h0M339.9,834.7h0M347.7,837.9h0M355.4,840.4h0M363.2,842.4h0M370.9,844.1h0M401.9,848.8h0" stroke="#800000" stroke-width="1.8" stroke-linecap="round"/>
<polyline points="185.1,848.8 216.1,847 223.8,846.3 231.6,845.3 239.3,844.1 247.1,842.4 254.8,840.2 262.5,837.1 270.3,832.9 278,828 281.9,825.7 285.8,824 286.5,823.7 287.3,823.5 288.1,823.4 288.9,823.3 289.6,824.7 290.4,826.3 291.2,827.6 292,828.7 292.7,829.6 293.5,830.1 294.3,829.6 295,828.7 295.8,827.6 296.6,826.3 297.4,824.7 298.1,823.3 298.9,823.4 299.7,823.5 300.5,823.7 301.2,824 305.1,825.7 309,828 316.7,832.9 324.5,837.1 332.2,840.2 339.9,842.4 347.7,844.1 355.4,845.3 363.2,846.3 370.9,847 401.9,848.8" fill="none" stroke="#808000" stroke-width="0.55" stroke-opacity="0.6"/>
<path d="M185.1,848.8h0M216.1,847h0M223.8,846.3h0M231.6,845.3h0M239.3,844.1h0M247.1,842.4h0M254.8,840.2h0M262.5,837.1h0M270.3,832.9h0M278,828h0M281.9,825.7h0M285.8,824h0M286.5,823.7h0M287.3,823.5h0M288.1,823.4h0M288.9,823.3h0M289.6,824.7h0M290.4,826.3h0M291.2,827.6h0M292,828.7h0M292.7,829.6h0M293.5,830.1h0M294.3,829.6h0M295,828.7h0M295.8,827.6h0M296.6,826.3h0M297.4,824.7h0M298.1,823.3h0M298.9,823.4h0M299.7,823.5h0M300.5,823.7h0M301.2,824h0M305.1,825.7h0M309,828h0M316.7,832.9h0M324.5,837.1h0M332.2,840.2h0M339.9,842.4h0M347.7,844.1h0M355.4,845.3h0M363.2,846.3h0M370.9,847h0M401.9,848.8h0" stroke="#808000" stroke-width="1.8" stroke-linecap="round"/>
</g></g>
<rect x="177.4" y="673.4" width="232.2" height="186.9" fill="none" stroke="#4a4a4a" stroke-width="1.25"/>
<text x="177" y="873.1" font-size="8.1" font-weight="bold" text-anchor="middle">−150</text>
<text x="196.3" y="873.1" font-size="8.1" font-weight="bold" text-anchor="middle">−125</text>
<text x="215.7" y="873.1" font-size="8.1" font-weight="bold" text-anchor="middle">−100</text>
<text x="235" y="873.1" font-size="8.1" font-weight="bold" text-anchor="middle">−75</text>
<text x="254.4" y="873.1" font-size="8.1" font-weight="bold" text-anchor="middle">−50</text>
<text x="273.8" y="873.1" font-size="8.1" font-weight="bold" text-anchor="middle">−25</text>
<text x="293.1" y="873.1" font-size="8.1" font-weight="bold" text-anchor="middle">0</text>
<text x="312.5" y="873.1" font-size="8.1" font-weight="bold" text-anchor="middle">25</text>
<text x="331.8" y="873.1" font-size="8.1" font-weight="bold" text-anchor="middle">50</text>
<text x="351.2" y="873.1" font-size="8.1" font-weight="bold" text-anchor="middle">75</text>
<text x="370.5" y="873.1" font-size="8.1" font-weight="bold" text-anchor="middle">100</text>
<text x="389.9" y="873.1" font-size="8.1" font-weight="bold" text-anchor="middle">125</text>
<text x="409.2" y="873.1" font-size="8.1" font-weight="bold" text-anchor="middle">150</text>
<text x="171.2" y="851.7" font-size="8.1" font-weight="bold" text-anchor="end">0</text>
<text x="171.2" y="822.4" font-size="8.1" font-weight="bold" text-anchor="end">5</text>
<text x="171.2" y="793.2" font-size="8.1" font-weight="bold" text-anchor="end">10</text>
<text x="171.2" y="763.9" font-size="8.1" font-weight="bold" text-anchor="end">15</text>
<text x="171.2" y="734.7" font-size="8.1" font-weight="bold" text-anchor="end">20</text>
<text x="171.2" y="705.4" font-size="8.1" font-weight="bold" text-anchor="end">25</text>
<text x="171.2" y="676.2" font-size="8.1" font-weight="bold" text-anchor="end">30</text>
<path d="M177.4,860.3v3.6M196.8,860.3v3.6M216.1,860.3v3.6M235.4,860.3v3.6M254.8,860.3v3.6M274.2,860.3v3.6M293.5,860.3v3.6M312.9,860.3v3.6M332.2,860.3v3.6M351.6,860.3v3.6M370.9,860.3v3.6M390.2,860.3v3.6M409.6,860.3v3.6M187.1,860.3v2M206.4,860.3v2M225.8,860.3v2M245.1,860.3v2M264.5,860.3v2M283.8,860.3v2M303.2,860.3v2M322.5,860.3v2M341.9,860.3v2M361.2,860.3v2M380.6,860.3v2M399.9,860.3v2M177.4,848.8h-3.6M177.4,819.5h-3.6M177.4,790.3h-3.6M177.4,761h-3.6M177.4,731.8h-3.6M177.4,702.5h-3.6M177.4,673.3h-3.6M177.4,834.2h-2M177.4,804.9h-2M177.4,775.7h-2M177.4,746.4h-2M177.4,717.2h-2M177.4,687.9h-2" stroke="#4a4a4a" stroke-width="1" fill="none"/>
<text x="294.1" y="887.5" font-size="9.5" font-weight="bold" text-anchor="middle">H (Oe)</text>
<text x="154.9" y="766.8" font-size="9.6" font-weight="bold" text-anchor="middle" transform="rotate(-90 154.9 766.8)" dy="3.3">GMI ratio (%)</text>
<text y="686.0" font-size="14.5"><tspan x="190.1">(g)</tspan><tspan x="208.5">t</tspan><tspan x="213.2" dy="2.6" font-size="9.5">c</tspan><tspan x="221.4" dy="-2.6">=</tspan><tspan x="233.5">150</tspan><tspan x="258.3">nm</tspan></text>
<path d="M345.4,687.4h21.5" stroke="#000000" stroke-width="0.6" stroke-opacity="0.35"/>
<circle cx="356.4" cy="687.4" r="1" fill="#000000"/>
<text x="370.4" y="690.6" font-size="9.5" text-anchor="start">100 kHz</text>
<path d="M345.4,699.3h21.5" stroke="#FF0000" stroke-width="0.6" stroke-opacity="0.35"/>
<circle cx="356.4" cy="699.3" r="1" fill="#FF0000"/>
<text x="370.4" y="702.5" font-size="9.5" text-anchor="start">500 kHz</text>
<path d="M345.4,711.2h21.5" stroke="#0000FF" stroke-width="0.6" stroke-opacity="0.35"/>
<circle cx="356.4" cy="711.2" r="1" fill="#0000FF"/>
<text x="370.4" y="714.4" font-size="9.5" text-anchor="start">1 MHz</text>
<path d="M345.4,723.1h21.5" stroke="#FF00FF" stroke-width="0.6" stroke-opacity="0.35"/>
<circle cx="356.4" cy="723.1" r="1" fill="#FF00FF"/>
<text x="370.4" y="726.3" font-size="9.5" text-anchor="start">2 MHz</text>
<path d="M345.4,735h21.5" stroke="#008000" stroke-width="0.6" stroke-opacity="0.35"/>
<circle cx="356.4" cy="735" r="1" fill="#008000"/>
<text x="370.4" y="738.2" font-size="9.5" text-anchor="start">3 MHz</text>
<path d="M345.4,746.9h21.5" stroke="#000080" stroke-width="0.6" stroke-opacity="0.35"/>
<circle cx="356.4" cy="746.9" r="1" fill="#000080"/>
<text x="370.4" y="750.1" font-size="9.5" text-anchor="start">5 MHz</text>
<path d="M345.4,758.8h21.5" stroke="#8000FF" stroke-width="0.6" stroke-opacity="0.35"/>
<circle cx="356.4" cy="758.8" r="1" fill="#8000FF"/>
<text x="370.4" y="762" font-size="9.5" text-anchor="start">10 MHz</text>
<path d="M345.4,770.7h21.5" stroke="#800080" stroke-width="0.6" stroke-opacity="0.35"/>
<circle cx="356.4" cy="770.7" r="1" fill="#800080"/>
<text x="370.4" y="773.9" font-size="9.5" text-anchor="start">15 MHz</text>
<path d="M345.4,782.6h21.5" stroke="#800000" stroke-width="0.6" stroke-opacity="0.35"/>
<circle cx="356.4" cy="782.6" r="1" fill="#800000"/>
<text x="370.4" y="785.8" font-size="9.5" text-anchor="start">20 MHz</text>
<path d="M345.4,794.5h21.5" stroke="#808000" stroke-width="0.6" stroke-opacity="0.35"/>
<circle cx="356.4" cy="794.5" r="1" fill="#808000"/>
<text x="370.4" y="797.7" font-size="9.5" text-anchor="start">30 MHz</text>
<rect x="196.4" y="691.2" width="81.7" height="66" fill="#fff" stroke="#999" stroke-width="0.8"/>
<clipPath id="ig"><rect x="196.4" y="691.2" width="81.7" height="66"/></clipPath>
<g clip-path="url(#ig)"><g filter="url(#soft)">
<polyline points="176.3,751.4 196.7,750.2 206.9,749.4 217.1,748.3 219.1,748 221.2,747.7 223.2,747.3 225.3,746.9 227.3,746.5 229.3,745.9 231.4,745.2 233.4,744.2 235.5,742.5 237.5,736.5 239.5,742.5 241.6,744.2 243.6,745.2 245.7,745.9 247.7,746.5 249.7,746.9 251.8,747.3 253.8,747.7 255.9,748 257.9,748.3 268.1,749.4 278.3,750.2 298.7,751.4" fill="none" stroke="#000000" stroke-width="0.4" stroke-opacity="0.35"/>
<path d="M176.3,751.4h0M196.7,750.2h0M206.9,749.4h0M217.1,748.3h0M219.1,748h0M221.2,747.7h0M223.2,747.3h0M225.3,746.9h0M227.3,746.5h0M229.3,745.9h0M231.4,745.2h0M233.4,744.2h0M235.5,742.5h0M237.5,736.5h0M239.5,742.5h0M241.6,744.2h0M243.6,745.2h0M245.7,745.9h0M247.7,746.5h0M249.7,746.9h0M251.8,747.3h0M253.8,747.7h0M255.9,748h0M257.9,748.3h0M268.1,749.4h0M278.3,750.2h0M298.7,751.4h0" stroke="#000000" stroke-width="1.5" stroke-linecap="round"/>
<polyline points="176.3,748.1 196.7,744.9 206.9,742.5 217.1,739.3 219.1,738.5 221.2,737.7 223.2,736.8 225.3,735.9 227.3,734.9 229.3,733.8 231.4,732.6 233.4,731.4 235.5,730.3 237.5,731.7 239.5,730.3 241.6,731.4 243.6,732.6 245.7,733.8 247.7,734.9 249.7,735.9 251.8,736.8 253.8,737.7 255.9,738.5 257.9,739.3 268.1,742.5 278.3,744.9 298.7,748.1" fill="none" stroke="#FF0000" stroke-width="0.4" stroke-opacity="0.35"/>
<path d="M176.3,748.1h0M196.7,744.9h0M206.9,742.5h0M217.1,739.3h0M219.1,738.5h0M221.2,737.7h0M223.2,736.8h0M225.3,735.9h0M227.3,734.9h0M229.3,733.8h0M231.4,732.6h0M233.4,731.4h0M235.5,730.3h0M237.5,731.7h0M239.5,730.3h0M241.6,731.4h0M243.6,732.6h0M245.7,733.8h0M247.7,734.9h0M249.7,735.9h0M251.8,736.8h0M253.8,737.7h0M255.9,738.5h0M257.9,739.3h0M268.1,742.5h0M278.3,744.9h0M298.7,748.1h0" stroke="#FF0000" stroke-width="1.5" stroke-linecap="round"/>
<polyline points="176.3,739.2 196.7,733.9 206.9,730.2 217.1,725.2 219.1,724 221.2,722.7 223.2,721.2 225.3,719.6 227.3,717.9 229.3,715.9 231.4,713.6 233.4,710.9 235.5,710.6 237.5,713 239.5,710.6 241.6,710.9 243.6,713.6 245.7,715.9 247.7,717.9 249.7,719.6 251.8,721.2 253.8,722.7 255.9,724 257.9,725.2 268.1,730.2 278.3,733.9 298.7,739.2" fill="none" stroke="#0000FF" stroke-width="0.4" stroke-opacity="0.35"/>
<path d="M176.3,739.2h0M196.7,733.9h0M206.9,730.2h0M217.1,725.2h0M219.1,724h0M221.2,722.7h0M223.2,721.2h0M225.3,719.6h0M227.3,717.9h0M229.3,715.9h0M231.4,713.6h0M233.4,710.9h0M235.5,710.6h0M237.5,713h0M239.5,710.6h0M241.6,710.9h0M243.6,713.6h0M245.7,715.9h0M247.7,717.9h0M249.7,719.6h0M251.8,721.2h0M253.8,722.7h0M255.9,724h0M257.9,725.2h0M268.1,730.2h0M278.3,733.9h0M298.7,739.2h0" stroke="#0000FF" stroke-width="1.5" stroke-linecap="round"/>
<polyline points="176.3,735.2 196.7,728.9 206.9,724.6 217.1,718.8 219.1,717.4 221.2,715.8 223.2,714.2 225.3,712.4 227.3,710.4 229.3,708.1 231.4,705.5 233.4,702.1 235.5,703.9 237.5,705.3 239.5,703.7 241.6,701.4 243.6,704.9 245.7,707.5 247.7,709.8 249.7,711.8 251.8,713.7 253.8,715.4 255.9,716.9 257.9,718.3 268.1,724.2 278.3,728.6 298.7,734.9" fill="none" stroke="#FF00FF" stroke-width="0.4" stroke-opacity="0.35"/>
<path d="M176.3,735.2h0M196.7,728.9h0M206.9,724.6h0M217.1,718.8h0M219.1,717.4h0M221.2,715.8h0M223.2,714.2h0M225.3,712.4h0M227.3,710.4h0M229.3,708.1h0M231.4,705.5h0M233.4,702.1h0M235.5,703.9h0M237.5,705.3h0M239.5,703.7h0M241.6,701.4h0M243.6,704.9h0M245.7,707.5h0M247.7,709.8h0M249.7,711.8h0M251.8,713.7h0M253.8,715.4h0M255.9,716.9h0M257.9,718.3h0M268.1,724.2h0M278.3,728.6h0M298.7,734.9h0" stroke="#FF00FF" stroke-width="1.5" stroke-linecap="round"/>
<polyline points="176.3,737.4 196.7,732.1 206.9,728.6 217.1,724.2 219.1,723.2 221.2,722.1 223.2,721 225.3,719.7 227.3,718.4 229.3,717 231.4,715.4 233.4,713.7 235.5,715.8 237.5,717.4 239.5,715.8 241.6,713.7 243.6,715.4 245.7,717 247.7,718.4 249.7,719.7 251.8,721 253.8,722.1 255.9,723.2 257.9,724.2 268.1,728.6 278.3,732.1 298.7,737.4" fill="none" stroke="#008000" stroke-width="0.4" stroke-opacity="0.35"/>
<path d="M176.3,737.4h0M196.7,732.1h0M206.9,728.6h0M217.1,724.2h0M219.1,723.2h0M221.2,722.1h0M223.2,721h0M225.3,719.7h0M227.3,718.4h0M229.3,717h0M231.4,715.4h0M233.4,713.7h0M235.5,715.8h0M237.5,717.4h0M239.5,715.8h0M241.6,713.7h0M243.6,715.4h0M245.7,717h0M247.7,718.4h0M249.7,719.7h0M251.8,721h0M253.8,722.1h0M255.9,723.2h0M257.9,724.2h0M268.1,728.6h0M278.3,732.1h0M298.7,737.4h0" stroke="#008000" stroke-width="1.5" stroke-linecap="round"/>
<polyline points="176.3,740.2 196.7,735.1 206.9,731.6 217.1,727.3 219.1,726.3 221.2,725.2 223.2,724.1 225.3,723 227.3,721.8 229.3,720.5 231.4,719.2 233.4,717.9 235.5,720.2 237.5,721.8 239.5,720.2 241.6,717.9 243.6,719.2 245.7,720.5 247.7,721.8 249.7,723 251.8,724.1 253.8,725.2 255.9,726.3 257.9,727.3 268.1,731.6 278.3,735.1 298.7,740.2" fill="none" stroke="#000080" stroke-width="0.4" stroke-opacity="0.35"/>
<path d="M176.3,740.2h0M196.7,735.1h0M206.9,731.6h0M217.1,727.3h0M219.1,726.3h0M221.2,725.2h0M223.2,724.1h0M225.3,723h0M227.3,721.8h0M229.3,720.5h0M231.4,719.2h0M233.4,717.9h0M235.5,720.2h0M237.5,721.8h0M239.5,720.2h0M241.6,717.9h0M243.6,719.2h0M245.7,720.5h0M247.7,721.8h0M249.7,723h0M251.8,724.1h0M253.8,725.2h0M255.9,726.3h0M257.9,727.3h0M268.1,731.6h0M278.3,735.1h0M298.7,740.2h0" stroke="#000080" stroke-width="1.5" stroke-linecap="round"/>
<polyline points="176.3,741.5 196.7,737.1 206.9,734.2 217.1,730.4 219.1,729.6 221.2,728.6 223.2,727.7 225.3,726.6 227.3,725.5 229.3,724.3 231.4,723 233.4,723.4 235.5,725.9 237.5,727.3 239.5,725.9 241.6,723.4 243.6,723 245.7,724.3 247.7,725.5 249.7,726.6 251.8,727.7 253.8,728.6 255.9,729.6 257.9,730.4 268.1,734.2 278.3,737.1 298.7,741.5" fill="none" stroke="#8000FF" stroke-width="0.4" stroke-opacity="0.35"/>
<path d="M176.3,741.5h0M196.7,737.1h0M206.9,734.2h0M217.1,730.4h0M219.1,729.6h0M221.2,728.6h0M223.2,727.7h0M225.3,726.6h0M227.3,725.5h0M229.3,724.3h0M231.4,723h0M233.4,723.4h0M235.5,725.9h0M237.5,727.3h0M239.5,725.9h0M241.6,723.4h0M243.6,723h0M245.7,724.3h0M247.7,725.5h0M249.7,726.6h0M251.8,727.7h0M253.8,728.6h0M255.9,729.6h0M257.9,730.4h0M268.1,734.2h0M278.3,737.1h0M298.7,741.5h0" stroke="#8000FF" stroke-width="1.5" stroke-linecap="round"/>
<polyline points="176.3,744.4 196.7,740.4 206.9,738.2 217.1,736 219.1,735.7 221.2,735.3 223.2,735 225.3,734.7 227.3,734.4 229.3,734.2 231.4,734.1 233.4,735.4 235.5,736.6 237.5,737.2 239.5,736.6 241.6,735.4 243.6,734.1 245.7,734.2 247.7,734.4 249.7,734.7 251.8,735 253.8,735.3 255.9,735.7 257.9,736 268.1,738.2 278.3,740.4 298.7,744.4" fill="none" stroke="#800080" stroke-width="0.4" stroke-opacity="0.35"/>
<path d="M176.3,744.4h0M196.7,740.4h0M206.9,738.2h0M217.1,736h0M219.1,735.7h0M221.2,735.3h0M223.2,735h0M225.3,734.7h0M227.3,734.4h0M229.3,734.2h0M231.4,734.1h0M233.4,735.4h0M235.5,736.6h0M237.5,737.2h0M239.5,736.6h0M241.6,735.4h0M243.6,734.1h0M245.7,734.2h0M247.7,734.4h0M249.7,734.7h0M251.8,735h0M253.8,735.3h0M255.9,735.7h0M257.9,736h0M268.1,738.2h0M278.3,740.4h0M298.7,744.4h0" stroke="#800080" stroke-width="1.5" stroke-linecap="round"/>
<polyline points="176.3,745.6 196.7,742.1 206.9,740.1 217.1,738 219.1,737.6 221.2,737.2 223.2,736.8 225.3,736.5 227.3,736.1 229.3,735.9 231.4,735.7 233.4,737.2 235.5,738.6 237.5,739.4 239.5,738.6 241.6,737.2 243.6,735.7 245.7,735.9 247.7,736.1 249.7,736.5 251.8,736.8 253.8,737.2 255.9,737.6 257.9,738 268.1,740.1 278.3,742.1 298.7,745.6" fill="none" stroke="#800000" stroke-width="0.4" stroke-opacity="0.35"/>
<path d="M176.3,745.6h0M196.7,742.1h0M206.9,740.1h0M217.1,738h0M219.1,737.6h0M221.2,737.2h0M223.2,736.8h0M225.3,736.5h0M227.3,736.1h0M229.3,735.9h0M231.4,735.7h0M233.4,737.2h0M235.5,738.6h0M237.5,739.4h0M239.5,738.6h0M241.6,737.2h0M243.6,735.7h0M245.7,735.9h0M247.7,736.1h0M249.7,736.5h0M251.8,736.8h0M253.8,737.2h0M255.9,737.6h0M257.9,738h0M268.1,740.1h0M278.3,742.1h0M298.7,745.6h0" stroke="#800000" stroke-width="1.5" stroke-linecap="round"/>
<polyline points="176.3,751 196.7,749.2 206.9,748.3 217.1,747.7 219.1,747.6 221.2,747.5 223.2,747.5 225.3,747.4 227.3,748 229.3,748.5 231.4,749 233.4,749.5 235.5,749.8 237.5,750 239.5,749.8 241.6,749.5 243.6,749 245.7,748.5 247.7,748 249.7,747.4 251.8,747.5 253.8,747.5 255.9,747.6 257.9,747.7 268.1,748.3 278.3,749.2 298.7,751" fill="none" stroke="#808000" stroke-width="0.4" stroke-opacity="0.35"/>
<path d="M176.3,751h0M196.7,749.2h0M206.9,748.3h0M217.1,747.7h0M219.1,747.6h0M221.2,747.5h0M223.2,747.5h0M225.3,747.4h0M227.3,748h0M229.3,748.5h0M231.4,749h0M233.4,749.5h0M235.5,749.8h0M237.5,750h0M239.5,749.8h0M241.6,749.5h0M243.6,749h0M245.7,748.5h0M247.7,748h0M249.7,747.4h0M251.8,747.5h0M253.8,747.5h0M255.9,747.6h0M257.9,747.7h0M268.1,748.3h0M278.3,749.2h0M298.7,751h0" stroke="#808000" stroke-width="1.5" stroke-linecap="round"/>
</g></g>
<text x="196.2" y="763.2" font-size="5.2" font-weight="bold" text-anchor="middle">−20</text>
<text x="206.4" y="763.2" font-size="5.2" font-weight="bold" text-anchor="middle">−15</text>
<text x="216.6" y="763.2" font-size="5.2" font-weight="bold" text-anchor="middle">−10</text>
<text x="226.8" y="763.2" font-size="5.2" font-weight="bold" text-anchor="middle">−5</text>
<text x="237" y="763.2" font-size="5.2" font-weight="bold" text-anchor="middle">0</text>
<text x="247.2" y="763.2" font-size="5.2" font-weight="bold" text-anchor="middle">5</text>
<text x="257.4" y="763.2" font-size="5.2" font-weight="bold" text-anchor="middle">10</text>
<text x="267.6" y="763.2" font-size="5.2" font-weight="bold" text-anchor="middle">15</text>
<text x="277.8" y="763.2" font-size="5.2" font-weight="bold" text-anchor="middle">20</text>
<text x="194.4" y="758.8" font-size="5.2" font-weight="bold" text-anchor="end">0</text>
<text x="194.4" y="747.8" font-size="5.2" font-weight="bold" text-anchor="end">5</text>
<text x="194.4" y="736.8" font-size="5.2" font-weight="bold" text-anchor="end">10</text>
<text x="194.4" y="725.8" font-size="5.2" font-weight="bold" text-anchor="end">15</text>
<text x="194.4" y="714.8" font-size="5.2" font-weight="bold" text-anchor="end">20</text>
<text x="194.4" y="703.8" font-size="5.2" font-weight="bold" text-anchor="end">25</text>
<text x="194.4" y="692.8" font-size="5.2" font-weight="bold" text-anchor="end">30</text>
<path d="M196.7,757.2v-1.5M206.9,757.2v-1.5M217.1,757.2v-1.5M227.3,757.2v-1.5M237.5,757.2v-1.5M247.7,757.2v-1.5M257.9,757.2v-1.5M268.1,757.2v-1.5M278.3,757.2v-1.5M196.4,757h1.5M196.4,746h1.5M196.4,735h1.5M196.4,724h1.5M196.4,713h1.5M196.4,702h1.5M196.4,691h1.5" stroke="#999" stroke-width="0.6" fill="none"/>
<text x="238.2" y="770.6" font-size="7.1" font-weight="bold" text-anchor="middle">H (Oe)</text>
<text x="184.4" y="724.2" font-size="7.1" font-weight="bold" text-anchor="middle" transform="rotate(-90 184.4 724.2)" dy="2.4">GMI ratio (%)</text>
</svg></body></html>
